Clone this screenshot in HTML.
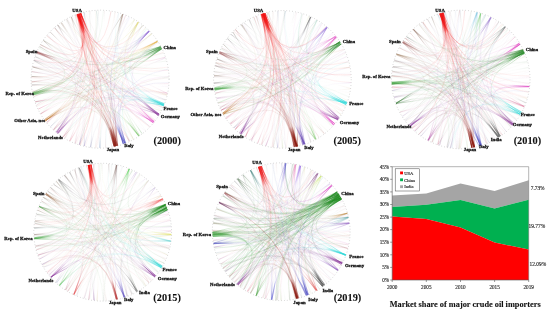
<!DOCTYPE html>
<html><head><meta charset="utf-8"><style>
html,body{margin:0;padding:0;background:#fff;width:550px;height:316px;overflow:hidden}
svg{position:absolute;left:0;top:0;display:block;filter:blur(0.3px)}
text{font-family:"Liberation Serif","Times New Roman",serif;font-weight:bold;fill:#111;stroke:#111;stroke-width:0.26px}
text.t{stroke-width:0.1px}
text.r{font-weight:normal;fill:#1a1a1a;stroke:#1a1a1a;stroke-width:0.12px}
</style></head><body>
<svg width="550" height="316" viewBox="0 0 550 316">
<defs><radialGradient id="g1" gradientUnits="userSpaceOnUse" cx="98.8" cy="10.5" r="40"><stop offset="0" stop-color="#c0c0c0" stop-opacity="0.1270974634461544"/><stop offset="0.3" stop-color="#c0c0c0" stop-opacity="0.0021292390338463227"/><stop offset="1" stop-color="#c0c0c0" stop-opacity="0.0"/></radialGradient><radialGradient id="g2" gradientUnits="userSpaceOnUse" cx="104.2" cy="10.6" r="40"><stop offset="0" stop-color="#c0a0a0" stop-opacity="0.15047606752760004"/><stop offset="0.3" stop-color="#c0a0a0" stop-opacity="0.009142820258280017"/><stop offset="1" stop-color="#c0a0a0" stop-opacity="0.0"/></radialGradient><radialGradient id="g3" gradientUnits="userSpaceOnUse" cx="111" cy="11.4" r="40"><stop offset="0" stop-color="#c0a0a0" stop-opacity="0.14919854929660104"/><stop offset="0.3" stop-color="#c0a0a0" stop-opacity="0.00875956478898031"/><stop offset="1" stop-color="#c0a0a0" stop-opacity="0.0"/></radialGradient><radialGradient id="g4" gradientUnits="userSpaceOnUse" cx="115.6" cy="12.3" r="40"><stop offset="0" stop-color="#d0a0a0" stop-opacity="0.1220734139324464"/><stop offset="0.3" stop-color="#d0a0a0" stop-opacity="0.0006220241797339234"/><stop offset="1" stop-color="#d0a0a0" stop-opacity="0.0"/></radialGradient><radialGradient id="g5" gradientUnits="userSpaceOnUse" cx="118.5" cy="13" r="40"><stop offset="0" stop-color="#c0c0c0" stop-opacity="0.17323942720152014"/><stop offset="0.3" stop-color="#c0c0c0" stop-opacity="0.01597182816045604"/><stop offset="1" stop-color="#c0c0c0" stop-opacity="0.0"/></radialGradient><radialGradient id="g6" gradientUnits="userSpaceOnUse" cx="126" cy="15.6" r="40"><stop offset="0" stop-color="#e0a0c0" stop-opacity="0.6132870867795437"/><stop offset="0.3" stop-color="#e0a0c0" stop-opacity="0.14798612603386313"/><stop offset="1" stop-color="#e0a0c0" stop-opacity="0.0"/></radialGradient><radialGradient id="g7" gradientUnits="userSpaceOnUse" cx="129" cy="16.9" r="40"><stop offset="0" stop-color="#c0b0e0" stop-opacity="0.27743101060829345"/><stop offset="0.3" stop-color="#c0b0e0" stop-opacity="0.047229303182488046"/><stop offset="1" stop-color="#c0b0e0" stop-opacity="0.0"/></radialGradient><radialGradient id="g8" gradientUnits="userSpaceOnUse" cx="134.6" cy="19.8" r="40"><stop offset="0" stop-color="#d0d080" stop-opacity="0.4226893719708796"/><stop offset="0.3" stop-color="#d0d080" stop-opacity="0.09080681159126387"/><stop offset="1" stop-color="#d0d080" stop-opacity="0.0"/></radialGradient><radialGradient id="g9" gradientUnits="userSpaceOnUse" cx="142.7" cy="25.3" r="40"><stop offset="0" stop-color="#90c090" stop-opacity="0.37482067828005944"/><stop offset="0.3" stop-color="#90c090" stop-opacity="0.07644620348401783"/><stop offset="1" stop-color="#90c090" stop-opacity="0.0"/></radialGradient><radialGradient id="g10" gradientUnits="userSpaceOnUse" cx="146.2" cy="28.3" r="40"><stop offset="0" stop-color="#c0c060" stop-opacity="0.21899151503486666"/><stop offset="0.3" stop-color="#c0c060" stop-opacity="0.02969745451046"/><stop offset="1" stop-color="#c0c060" stop-opacity="0.0"/></radialGradient><radialGradient id="g11" gradientUnits="userSpaceOnUse" cx="151.8" cy="34" r="40"><stop offset="0" stop-color="#c0c060" stop-opacity="0.32993688342507055"/><stop offset="0.3" stop-color="#c0c060" stop-opacity="0.06298106502752115"/><stop offset="1" stop-color="#c0c060" stop-opacity="0.0"/></radialGradient><radialGradient id="g12" gradientUnits="userSpaceOnUse" cx="163.6" cy="52.9" r="40"><stop offset="0" stop-color="#c0d0c0" stop-opacity="0.2135413185425326"/><stop offset="0.3" stop-color="#c0d0c0" stop-opacity="0.028062395562759777"/><stop offset="1" stop-color="#c0d0c0" stop-opacity="0.0"/></radialGradient><radialGradient id="g13" gradientUnits="userSpaceOnUse" cx="165.4" cy="57.8" r="40"><stop offset="0" stop-color="#d0b0e0" stop-opacity="0.5115969310930123"/><stop offset="0.3" stop-color="#d0b0e0" stop-opacity="0.11747907932790369"/><stop offset="1" stop-color="#d0b0e0" stop-opacity="0.0"/></radialGradient><radialGradient id="g14" gradientUnits="userSpaceOnUse" cx="166.3" cy="60.9" r="40"><stop offset="0" stop-color="#c0d0c0" stop-opacity="0.41371249708191143"/><stop offset="0.3" stop-color="#c0d0c0" stop-opacity="0.08811374912457343"/><stop offset="1" stop-color="#c0d0c0" stop-opacity="0.0"/></radialGradient><radialGradient id="g15" gradientUnits="userSpaceOnUse" cx="167.9" cy="68.3" r="40"><stop offset="0" stop-color="#d0b0e0" stop-opacity="0.15241628445706745"/><stop offset="0.3" stop-color="#d0b0e0" stop-opacity="0.009724885337120237"/><stop offset="1" stop-color="#d0b0e0" stop-opacity="0.0"/></radialGradient><radialGradient id="g16" gradientUnits="userSpaceOnUse" cx="168.3" cy="70.7" r="40"><stop offset="0" stop-color="#f0b0d0" stop-opacity="0.1354901505525055"/><stop offset="0.3" stop-color="#f0b0d0" stop-opacity="0.004647045165751646"/><stop offset="1" stop-color="#f0b0d0" stop-opacity="0.0"/></radialGradient><radialGradient id="g17" gradientUnits="userSpaceOnUse" cx="168.8" cy="77.3" r="40"><stop offset="0" stop-color="#c0d0c0" stop-opacity="0.46031210473397205"/><stop offset="0.3" stop-color="#c0d0c0" stop-opacity="0.10209363142019162"/><stop offset="1" stop-color="#c0d0c0" stop-opacity="0.0"/></radialGradient><radialGradient id="g18" gradientUnits="userSpaceOnUse" cx="168.7" cy="83.3" r="40"><stop offset="0" stop-color="#e0a0c0" stop-opacity="0.4582833642544837"/><stop offset="0.3" stop-color="#e0a0c0" stop-opacity="0.10148500927634511"/><stop offset="1" stop-color="#e0a0c0" stop-opacity="0.0"/></radialGradient><radialGradient id="g19" gradientUnits="userSpaceOnUse" cx="168.4" cy="86.4" r="40"><stop offset="0" stop-color="#d0b0e0" stop-opacity="0.12255185389402373"/><stop offset="0.3" stop-color="#d0b0e0" stop-opacity="0.0007655561682071201"/><stop offset="1" stop-color="#d0b0e0" stop-opacity="0.0"/></radialGradient><radialGradient id="g20" gradientUnits="userSpaceOnUse" cx="167.4" cy="93.2" r="40"><stop offset="0" stop-color="#e0a0c0" stop-opacity="0.6680510992788457"/><stop offset="0.3" stop-color="#e0a0c0" stop-opacity="0.1644153297836537"/><stop offset="1" stop-color="#e0a0c0" stop-opacity="0.0"/></radialGradient><radialGradient id="g21" gradientUnits="userSpaceOnUse" cx="166.8" cy="95.5" r="40"><stop offset="0" stop-color="#e0c0a0" stop-opacity="0.41230993484009587"/><stop offset="0.3" stop-color="#e0c0a0" stop-opacity="0.08769298045202877"/><stop offset="1" stop-color="#e0c0a0" stop-opacity="0.0"/></radialGradient><radialGradient id="g22" gradientUnits="userSpaceOnUse" cx="165.5" cy="100.1" r="40"><stop offset="0" stop-color="#a0a0a0" stop-opacity="0.316058328829122"/><stop offset="0.3" stop-color="#a0a0a0" stop-opacity="0.05881749864873659"/><stop offset="1" stop-color="#a0a0a0" stop-opacity="0.0"/></radialGradient><radialGradient id="g23" gradientUnits="userSpaceOnUse" cx="162.8" cy="107.4" r="40"><stop offset="0" stop-color="#d0a0a0" stop-opacity="0.3619913445828219"/><stop offset="0.3" stop-color="#d0a0a0" stop-opacity="0.07259740337484656"/><stop offset="1" stop-color="#d0a0a0" stop-opacity="0.0"/></radialGradient><radialGradient id="g24" gradientUnits="userSpaceOnUse" cx="161.2" cy="110.6" r="40"><stop offset="0" stop-color="#c0d090" stop-opacity="0.44170950394639424"/><stop offset="0.3" stop-color="#c0d090" stop-opacity="0.09651285118391828"/><stop offset="1" stop-color="#c0d090" stop-opacity="0.0"/></radialGradient><radialGradient id="g25" gradientUnits="userSpaceOnUse" cx="155.1" cy="120.4" r="40"><stop offset="0" stop-color="#e090a0" stop-opacity="0.19579927529860225"/><stop offset="0.3" stop-color="#e090a0" stop-opacity="0.02273978258958068"/><stop offset="1" stop-color="#e090a0" stop-opacity="0.0"/></radialGradient><radialGradient id="g26" gradientUnits="userSpaceOnUse" cx="149.3" cy="127.1" r="40"><stop offset="0" stop-color="#c0d090" stop-opacity="0.12386511713196457"/><stop offset="0.3" stop-color="#c0d090" stop-opacity="0.0011595351395893726"/><stop offset="1" stop-color="#c0d090" stop-opacity="0.0"/></radialGradient><radialGradient id="g27" gradientUnits="userSpaceOnUse" cx="145" cy="131.2" r="40"><stop offset="0" stop-color="#b0a0c0" stop-opacity="0.12185617661343702"/><stop offset="0.3" stop-color="#b0a0c0" stop-opacity="0.0005568529840311063"/><stop offset="1" stop-color="#b0a0c0" stop-opacity="0.0"/></radialGradient><radialGradient id="g28" gradientUnits="userSpaceOnUse" cx="142.4" cy="133.3" r="40"><stop offset="0" stop-color="#90c090" stop-opacity="0.4393110463181974"/><stop offset="0.3" stop-color="#90c090" stop-opacity="0.09579331389545923"/><stop offset="1" stop-color="#90c090" stop-opacity="0.0"/></radialGradient><radialGradient id="g29" gradientUnits="userSpaceOnUse" cx="133" cy="139.5" r="40"><stop offset="0" stop-color="#c0d090" stop-opacity="0.6550155292043547"/><stop offset="0.3" stop-color="#c0d090" stop-opacity="0.1605046587613064"/><stop offset="1" stop-color="#c0d090" stop-opacity="0.0"/></radialGradient><radialGradient id="g30" gradientUnits="userSpaceOnUse" cx="129.5" cy="141.3" r="40"><stop offset="0" stop-color="#e090a0" stop-opacity="0.55670604103735"/><stop offset="0.3" stop-color="#e090a0" stop-opacity="0.131011812311205"/><stop offset="1" stop-color="#e090a0" stop-opacity="0.0"/></radialGradient><radialGradient id="g31" gradientUnits="userSpaceOnUse" cx="118.6" cy="145.4" r="40"><stop offset="0" stop-color="#d0a0a0" stop-opacity="0.6081439490132843"/><stop offset="0.3" stop-color="#d0a0a0" stop-opacity="0.1464431847039853"/><stop offset="1" stop-color="#d0a0a0" stop-opacity="0.0"/></radialGradient><radialGradient id="g32" gradientUnits="userSpaceOnUse" cx="111.6" cy="146.9" r="40"><stop offset="0" stop-color="#d0a0a0" stop-opacity="0.3704064936808937"/><stop offset="0.3" stop-color="#d0a0a0" stop-opacity="0.0751219481042681"/><stop offset="1" stop-color="#d0a0a0" stop-opacity="0.0"/></radialGradient><radialGradient id="g33" gradientUnits="userSpaceOnUse" cx="105.1" cy="147.7" r="40"><stop offset="0" stop-color="#e090a0" stop-opacity="0.40667507205570075"/><stop offset="0.3" stop-color="#e090a0" stop-opacity="0.08600252161671022"/><stop offset="1" stop-color="#e090a0" stop-opacity="0.0"/></radialGradient><radialGradient id="g34" gradientUnits="userSpaceOnUse" cx="100" cy="147.9" r="40"><stop offset="0" stop-color="#7890c8" stop-opacity="0.5119633867625324"/><stop offset="0.3" stop-color="#7890c8" stop-opacity="0.11758901602875972"/><stop offset="1" stop-color="#7890c8" stop-opacity="0.0"/></radialGradient><radialGradient id="g35" gradientUnits="userSpaceOnUse" cx="95.5" cy="147.7" r="40"><stop offset="0" stop-color="#8a6a5a" stop-opacity="0.12035746500609787"/><stop offset="0.3" stop-color="#8a6a5a" stop-opacity="0.0001072395018293616"/><stop offset="1" stop-color="#8a6a5a" stop-opacity="0.0"/></radialGradient><radialGradient id="g36" gradientUnits="userSpaceOnUse" cx="90.2" cy="147.2" r="40"><stop offset="0" stop-color="#a0a0c0" stop-opacity="0.72"/><stop offset="0.3" stop-color="#a0a0c0" stop-opacity="0.18"/><stop offset="1" stop-color="#a0a0c0" stop-opacity="0.0"/></radialGradient><radialGradient id="g37" gradientUnits="userSpaceOnUse" cx="84.4" cy="146.1" r="40"><stop offset="0" stop-color="#8070b0" stop-opacity="0.5279303896587313"/><stop offset="0.3" stop-color="#8070b0" stop-opacity="0.12237911689761938"/><stop offset="1" stop-color="#8070b0" stop-opacity="0.0"/></radialGradient><radialGradient id="g38" gradientUnits="userSpaceOnUse" cx="79.8" cy="144.8" r="40"><stop offset="0" stop-color="#9060a0" stop-opacity="0.673547082420276"/><stop offset="0.3" stop-color="#9060a0" stop-opacity="0.1660641247260828"/><stop offset="1" stop-color="#9060a0" stop-opacity="0.0"/></radialGradient><radialGradient id="g39" gradientUnits="userSpaceOnUse" cx="75.6" cy="143.4" r="40"><stop offset="0" stop-color="#c06080" stop-opacity="0.3149491514027922"/><stop offset="0.3" stop-color="#c06080" stop-opacity="0.05848474542083768"/><stop offset="1" stop-color="#c06080" stop-opacity="0.0"/></radialGradient><radialGradient id="g40" gradientUnits="userSpaceOnUse" cx="70.1" cy="141" r="40"><stop offset="0" stop-color="#d05070" stop-opacity="0.4500654397996812"/><stop offset="0.3" stop-color="#d05070" stop-opacity="0.09901963193990437"/><stop offset="1" stop-color="#d05070" stop-opacity="0.0"/></radialGradient><radialGradient id="g41" gradientUnits="userSpaceOnUse" cx="65.2" cy="138.4" r="40"><stop offset="0" stop-color="#d05070" stop-opacity="0.3864397703711093"/><stop offset="0.3" stop-color="#d05070" stop-opacity="0.0799319311113328"/><stop offset="1" stop-color="#d05070" stop-opacity="0.0"/></radialGradient><radialGradient id="g42" gradientUnits="userSpaceOnUse" cx="63" cy="137" r="40"><stop offset="0" stop-color="#d05070" stop-opacity="0.5241972388381674"/><stop offset="0.3" stop-color="#d05070" stop-opacity="0.12125917165145021"/><stop offset="1" stop-color="#d05070" stop-opacity="0.0"/></radialGradient><radialGradient id="g43" gradientUnits="userSpaceOnUse" cx="53.3" cy="129.5" r="40"><stop offset="0" stop-color="#c08090" stop-opacity="0.72"/><stop offset="0.3" stop-color="#c08090" stop-opacity="0.18"/><stop offset="1" stop-color="#c08090" stop-opacity="0.0"/></radialGradient><radialGradient id="g44" gradientUnits="userSpaceOnUse" cx="50.7" cy="127" r="40"><stop offset="0" stop-color="#a0a0c0" stop-opacity="0.72"/><stop offset="0.3" stop-color="#a0a0c0" stop-opacity="0.18"/><stop offset="1" stop-color="#a0a0c0" stop-opacity="0.0"/></radialGradient><radialGradient id="g45" gradientUnits="userSpaceOnUse" cx="46.9" cy="122.7" r="40"><stop offset="0" stop-color="#c06080" stop-opacity="0.4561715967662934"/><stop offset="0.3" stop-color="#c06080" stop-opacity="0.10085147902988802"/><stop offset="1" stop-color="#c06080" stop-opacity="0.0"/></radialGradient><radialGradient id="g46" gradientUnits="userSpaceOnUse" cx="40.8" cy="113.9" r="40"><stop offset="0" stop-color="#d05070" stop-opacity="0.4848361042856882"/><stop offset="0.3" stop-color="#d05070" stop-opacity="0.10945083128570644"/><stop offset="1" stop-color="#d05070" stop-opacity="0.0"/></radialGradient><radialGradient id="g47" gradientUnits="userSpaceOnUse" cx="38.5" cy="109.6" r="40"><stop offset="0" stop-color="#d05070" stop-opacity="0.545616074999643"/><stop offset="0.3" stop-color="#d05070" stop-opacity="0.1276848224998929"/><stop offset="1" stop-color="#d05070" stop-opacity="0.0"/></radialGradient><radialGradient id="g48" gradientUnits="userSpaceOnUse" cx="36.5" cy="105.1" r="40"><stop offset="0" stop-color="#d07090" stop-opacity="0.3912097197759656"/><stop offset="0.3" stop-color="#d07090" stop-opacity="0.08136291593278967"/><stop offset="1" stop-color="#d07090" stop-opacity="0.0"/></radialGradient><radialGradient id="g49" gradientUnits="userSpaceOnUse" cx="35.2" cy="101.6" r="40"><stop offset="0" stop-color="#c06080" stop-opacity="0.5837501481351788"/><stop offset="0.3" stop-color="#c06080" stop-opacity="0.13912504444055362"/><stop offset="1" stop-color="#c06080" stop-opacity="0.0"/></radialGradient><radialGradient id="g50" gradientUnits="userSpaceOnUse" cx="33.7" cy="96.6" r="40"><stop offset="0" stop-color="#c08090" stop-opacity="0.47809503693439065"/><stop offset="0.3" stop-color="#c08090" stop-opacity="0.10742851108031719"/><stop offset="1" stop-color="#c08090" stop-opacity="0.0"/></radialGradient><radialGradient id="g51" gradientUnits="userSpaceOnUse" cx="32.5" cy="91.4" r="40"><stop offset="0" stop-color="#d07090" stop-opacity="0.4030145320303566"/><stop offset="0.3" stop-color="#d07090" stop-opacity="0.08490435960910697"/><stop offset="1" stop-color="#d07090" stop-opacity="0.0"/></radialGradient><radialGradient id="g52" gradientUnits="userSpaceOnUse" cx="31.7" cy="85.1" r="40"><stop offset="0" stop-color="#7a7a7a" stop-opacity="0.4209115929277392"/><stop offset="0.3" stop-color="#7a7a7a" stop-opacity="0.09027347787832177"/><stop offset="1" stop-color="#7a7a7a" stop-opacity="0.0"/></radialGradient><radialGradient id="g53" gradientUnits="userSpaceOnUse" cx="31.4" cy="81.8" r="40"><stop offset="0" stop-color="#c08080" stop-opacity="0.524188153369832"/><stop offset="0.3" stop-color="#c08080" stop-opacity="0.12125644601094962"/><stop offset="1" stop-color="#c08080" stop-opacity="0.0"/></radialGradient><radialGradient id="g54" gradientUnits="userSpaceOnUse" cx="31.4" cy="77" r="40"><stop offset="0" stop-color="#807060" stop-opacity="0.5386184116482"/><stop offset="0.3" stop-color="#807060" stop-opacity="0.12558552349445998"/><stop offset="1" stop-color="#807060" stop-opacity="0.0"/></radialGradient><radialGradient id="g55" gradientUnits="userSpaceOnUse" cx="31.8" cy="71.5" r="40"><stop offset="0" stop-color="#c08080" stop-opacity="0.72"/><stop offset="0.3" stop-color="#c08080" stop-opacity="0.18"/><stop offset="1" stop-color="#c08080" stop-opacity="0.0"/></radialGradient><radialGradient id="g56" gradientUnits="userSpaceOnUse" cx="32.5" cy="66.9" r="40"><stop offset="0" stop-color="#807060" stop-opacity="0.576920978220883"/><stop offset="0.3" stop-color="#807060" stop-opacity="0.1370762934662649"/><stop offset="1" stop-color="#807060" stop-opacity="0.0"/></radialGradient><radialGradient id="g57" gradientUnits="userSpaceOnUse" cx="33.9" cy="60.8" r="40"><stop offset="0" stop-color="#888888" stop-opacity="0.6845809017284161"/><stop offset="0.3" stop-color="#888888" stop-opacity="0.16937427051852483"/><stop offset="1" stop-color="#888888" stop-opacity="0.0"/></radialGradient><radialGradient id="g58" gradientUnits="userSpaceOnUse" cx="35.1" cy="56.8" r="40"><stop offset="0" stop-color="#888888" stop-opacity="0.72"/><stop offset="0.3" stop-color="#888888" stop-opacity="0.18"/><stop offset="1" stop-color="#888888" stop-opacity="0.0"/></radialGradient><radialGradient id="g59" gradientUnits="userSpaceOnUse" cx="39.5" cy="46.8" r="40"><stop offset="0" stop-color="#a08878" stop-opacity="0.5757905905533456"/><stop offset="0.3" stop-color="#a08878" stop-opacity="0.13673717716600367"/><stop offset="1" stop-color="#a08878" stop-opacity="0.0"/></radialGradient><radialGradient id="g60" gradientUnits="userSpaceOnUse" cx="40.6" cy="44.9" r="40"><stop offset="0" stop-color="#8a7a70" stop-opacity="0.72"/><stop offset="0.3" stop-color="#8a7a70" stop-opacity="0.18"/><stop offset="1" stop-color="#8a7a70" stop-opacity="0.0"/></radialGradient><radialGradient id="g61" gradientUnits="userSpaceOnUse" cx="43.4" cy="40.5" r="40"><stop offset="0" stop-color="#807060" stop-opacity="0.5016572577298517"/><stop offset="0.3" stop-color="#807060" stop-opacity="0.11449717731895549"/><stop offset="1" stop-color="#807060" stop-opacity="0.0"/></radialGradient><radialGradient id="g62" gradientUnits="userSpaceOnUse" cx="47.2" cy="35.4" r="40"><stop offset="0" stop-color="#a08878" stop-opacity="0.42580181235614156"/><stop offset="0.3" stop-color="#a08878" stop-opacity="0.09174054370684247"/><stop offset="1" stop-color="#a08878" stop-opacity="0.0"/></radialGradient><radialGradient id="g63" gradientUnits="userSpaceOnUse" cx="50" cy="32.2" r="40"><stop offset="0" stop-color="#8a7a70" stop-opacity="0.72"/><stop offset="0.3" stop-color="#8a7a70" stop-opacity="0.18"/><stop offset="1" stop-color="#8a7a70" stop-opacity="0.0"/></radialGradient><radialGradient id="g64" gradientUnits="userSpaceOnUse" cx="55.1" cy="27.3" r="40"><stop offset="0" stop-color="#888888" stop-opacity="0.4370313825863941"/><stop offset="0.3" stop-color="#888888" stop-opacity="0.09510941477591825"/><stop offset="1" stop-color="#888888" stop-opacity="0.0"/></radialGradient><radialGradient id="g65" gradientUnits="userSpaceOnUse" cx="57.7" cy="25.2" r="40"><stop offset="0" stop-color="#8a7a70" stop-opacity="0.72"/><stop offset="0.3" stop-color="#8a7a70" stop-opacity="0.18"/><stop offset="1" stop-color="#8a7a70" stop-opacity="0.0"/></radialGradient><radialGradient id="g66" gradientUnits="userSpaceOnUse" cx="61.2" cy="22.6" r="40"><stop offset="0" stop-color="#a08878" stop-opacity="0.668912804743429"/><stop offset="0.3" stop-color="#a08878" stop-opacity="0.16467384142302868"/><stop offset="1" stop-color="#a08878" stop-opacity="0.0"/></radialGradient><radialGradient id="g67" gradientUnits="userSpaceOnUse" cx="66.6" cy="19.2" r="40"><stop offset="0" stop-color="#888888" stop-opacity="0.5335581070662339"/><stop offset="0.3" stop-color="#888888" stop-opacity="0.12406743211987015"/><stop offset="1" stop-color="#888888" stop-opacity="0.0"/></radialGradient><radialGradient id="g68" gradientUnits="userSpaceOnUse" cx="71.5" cy="16.8" r="40"><stop offset="0" stop-color="#a08878" stop-opacity="0.72"/><stop offset="0.3" stop-color="#a08878" stop-opacity="0.18"/><stop offset="1" stop-color="#a08878" stop-opacity="0.0"/></radialGradient><radialGradient id="g69" gradientUnits="userSpaceOnUse" cx="75.4" cy="15.1" r="40"><stop offset="0" stop-color="#c08080" stop-opacity="0.4604443532336638"/><stop offset="0.3" stop-color="#c08080" stop-opacity="0.10213330597009915"/><stop offset="1" stop-color="#c08080" stop-opacity="0.0"/></radialGradient><radialGradient id="g70" gradientUnits="userSpaceOnUse" cx="83.8" cy="12.5" r="40"><stop offset="0" stop-color="#a0b0c0" stop-opacity="0.4836030077658813"/><stop offset="0.3" stop-color="#a0b0c0" stop-opacity="0.10908090232976438"/><stop offset="1" stop-color="#a0b0c0" stop-opacity="0.0"/></radialGradient><radialGradient id="g71" gradientUnits="userSpaceOnUse" cx="89.7" cy="11.3" r="40"><stop offset="0" stop-color="#c0a0a0" stop-opacity="0.12679071632505573"/><stop offset="0.3" stop-color="#c0a0a0" stop-opacity="0.002037214897516719"/><stop offset="1" stop-color="#c0a0a0" stop-opacity="0.0"/></radialGradient><radialGradient id="g72" gradientUnits="userSpaceOnUse" cx="96.1" cy="10.6" r="40"><stop offset="0" stop-color="#a0b0c0" stop-opacity="0.45968718697643846"/><stop offset="0.3" stop-color="#a0b0c0" stop-opacity="0.10190615609293154"/><stop offset="1" stop-color="#a0b0c0" stop-opacity="0.0"/></radialGradient><radialGradient id="g73" gradientUnits="userSpaceOnUse" cx="78.9" cy="13.9" r="137.4"><stop offset="0" stop-color="#f01010" stop-opacity="0.765"/><stop offset="0.15" stop-color="#f01010" stop-opacity="0.186"/><stop offset="1" stop-color="#f01010" stop-opacity="0.06"/></radialGradient><radialGradient id="g74" gradientUnits="userSpaceOnUse" cx="161.3" cy="47.9" r="137.4"><stop offset="0" stop-color="#2a8a2a" stop-opacity="0.68"/><stop offset="0.15" stop-color="#2a8a2a" stop-opacity="0.1364"/><stop offset="1" stop-color="#2a8a2a" stop-opacity="0.05"/></radialGradient><radialGradient id="g75" gradientUnits="userSpaceOnUse" cx="157.5" cy="41.4" r="137.4"><stop offset="0" stop-color="#e0b040" stop-opacity="0.595"/><stop offset="0.15" stop-color="#e0b040" stop-opacity="0.124"/><stop offset="1" stop-color="#e0b040" stop-opacity="0.025"/></radialGradient><radialGradient id="g76" gradientUnits="userSpaceOnUse" cx="149.1" cy="31" r="137.4"><stop offset="0" stop-color="#8050d0" stop-opacity="0.68"/><stop offset="0.15" stop-color="#8050d0" stop-opacity="0.124"/><stop offset="1" stop-color="#8050d0" stop-opacity="0.025"/></radialGradient><radialGradient id="g77" gradientUnits="userSpaceOnUse" cx="138.4" cy="22.2" r="137.4"><stop offset="0" stop-color="#d8d050" stop-opacity="0.51"/><stop offset="0.15" stop-color="#d8d050" stop-opacity="0.124"/><stop offset="1" stop-color="#d8d050" stop-opacity="0.025"/></radialGradient><radialGradient id="g78" gradientUnits="userSpaceOnUse" cx="122.7" cy="14.3" r="137.4"><stop offset="0" stop-color="#907060" stop-opacity="0.595"/><stop offset="0.15" stop-color="#907060" stop-opacity="0.124"/><stop offset="1" stop-color="#907060" stop-opacity="0.025"/></radialGradient><radialGradient id="g79" gradientUnits="userSpaceOnUse" cx="36.9" cy="52.4" r="137.4"><stop offset="0" stop-color="#a05a5a" stop-opacity="0.68"/><stop offset="0.15" stop-color="#a05a5a" stop-opacity="0.124"/><stop offset="1" stop-color="#a05a5a" stop-opacity="0.04"/></radialGradient><radialGradient id="g80" gradientUnits="userSpaceOnUse" cx="33" cy="93.7" r="137.4"><stop offset="0" stop-color="#4aa84a" stop-opacity="0.68"/><stop offset="0.15" stop-color="#4aa84a" stop-opacity="0.155"/><stop offset="1" stop-color="#4aa84a" stop-opacity="0.05"/></radialGradient><radialGradient id="g81" gradientUnits="userSpaceOnUse" cx="45.1" cy="120.4" r="137.4"><stop offset="0" stop-color="#c07830" stop-opacity="0.68"/><stop offset="0.15" stop-color="#c07830" stop-opacity="0.124"/><stop offset="1" stop-color="#c07830" stop-opacity="0.04"/></radialGradient><radialGradient id="g82" gradientUnits="userSpaceOnUse" cx="57.2" cy="132.9" r="137.4"><stop offset="0" stop-color="#9040a0" stop-opacity="0.68"/><stop offset="0.15" stop-color="#9040a0" stop-opacity="0.124"/><stop offset="1" stop-color="#9040a0" stop-opacity="0.04"/></radialGradient><radialGradient id="g83" gradientUnits="userSpaceOnUse" cx="164" cy="104.5" r="137.4"><stop offset="0" stop-color="#30d8d8" stop-opacity="0.765"/><stop offset="0.15" stop-color="#30d8d8" stop-opacity="0.155"/><stop offset="1" stop-color="#30d8d8" stop-opacity="0.04"/></radialGradient><radialGradient id="g84" gradientUnits="userSpaceOnUse" cx="158.7" cy="115.1" r="137.4"><stop offset="0" stop-color="#8a3a9a" stop-opacity="0.765"/><stop offset="0.15" stop-color="#8a3a9a" stop-opacity="0.1364"/><stop offset="1" stop-color="#8a3a9a" stop-opacity="0.04"/></radialGradient><radialGradient id="g85" gradientUnits="userSpaceOnUse" cx="153.7" cy="122.2" r="137.4"><stop offset="0" stop-color="#e040c0" stop-opacity="0.68"/><stop offset="0.15" stop-color="#e040c0" stop-opacity="0.124"/><stop offset="1" stop-color="#e040c0" stop-opacity="0.03"/></radialGradient><radialGradient id="g86" gradientUnits="userSpaceOnUse" cx="139.1" cy="135.7" r="137.4"><stop offset="0" stop-color="#70c060" stop-opacity="0.595"/><stop offset="0.15" stop-color="#70c060" stop-opacity="0.124"/><stop offset="1" stop-color="#70c060" stop-opacity="0.025"/></radialGradient><radialGradient id="g87" gradientUnits="userSpaceOnUse" cx="124.3" cy="143.5" r="137.4"><stop offset="0" stop-color="#4848c0" stop-opacity="0.765"/><stop offset="0.15" stop-color="#4848c0" stop-opacity="0.1364"/><stop offset="1" stop-color="#4848c0" stop-opacity="0.04"/></radialGradient><radialGradient id="g88" gradientUnits="userSpaceOnUse" cx="115.9" cy="146.1" r="137.4"><stop offset="0" stop-color="#8b1a10" stop-opacity="0.8075"/><stop offset="0.15" stop-color="#8b1a10" stop-opacity="0.1364"/><stop offset="1" stop-color="#8b1a10" stop-opacity="0.03"/></radialGradient><radialGradient id="g89" gradientUnits="userSpaceOnUse" cx="284" cy="10.9" r="40"><stop offset="0" stop-color="#c0c0c0" stop-opacity="0.12067561299737989"/><stop offset="0.3" stop-color="#c0c0c0" stop-opacity="0.00020268389921396983"/><stop offset="1" stop-color="#c0c0c0" stop-opacity="0.0"/></radialGradient><radialGradient id="g90" gradientUnits="userSpaceOnUse" cx="285.9" cy="11" r="40"><stop offset="0" stop-color="#a0b0c0" stop-opacity="0.6238711396066943"/><stop offset="0.3" stop-color="#a0b0c0" stop-opacity="0.15116134188200828"/><stop offset="1" stop-color="#a0b0c0" stop-opacity="0.0"/></radialGradient><radialGradient id="g91" gradientUnits="userSpaceOnUse" cx="293.6" cy="11.8" r="40"><stop offset="0" stop-color="#a0b0c0" stop-opacity="0.1577345943057787"/><stop offset="0.3" stop-color="#a0b0c0" stop-opacity="0.011320378291733614"/><stop offset="1" stop-color="#a0b0c0" stop-opacity="0.0"/></radialGradient><radialGradient id="g92" gradientUnits="userSpaceOnUse" cx="296.4" cy="12.4" r="40"><stop offset="0" stop-color="#d0a0a0" stop-opacity="0.15950899616300135"/><stop offset="0.3" stop-color="#d0a0a0" stop-opacity="0.011852698848900403"/><stop offset="1" stop-color="#d0a0a0" stop-opacity="0.0"/></radialGradient><radialGradient id="g93" gradientUnits="userSpaceOnUse" cx="302.5" cy="13.9" r="40"><stop offset="0" stop-color="#d0a0a0" stop-opacity="0.1246275538460941"/><stop offset="0.3" stop-color="#d0a0a0" stop-opacity="0.0013882661538282305"/><stop offset="1" stop-color="#d0a0a0" stop-opacity="0.0"/></radialGradient><radialGradient id="g94" gradientUnits="userSpaceOnUse" cx="308.5" cy="16.1" r="40"><stop offset="0" stop-color="#d0d080" stop-opacity="0.17834556151516917"/><stop offset="0.3" stop-color="#d0d080" stop-opacity="0.017503668454550748"/><stop offset="1" stop-color="#d0d080" stop-opacity="0.0"/></radialGradient><radialGradient id="g95" gradientUnits="userSpaceOnUse" cx="316.6" cy="20.1" r="40"><stop offset="0" stop-color="#a0d0d0" stop-opacity="0.5398587582092782"/><stop offset="0.3" stop-color="#a0d0d0" stop-opacity="0.12595762746278344"/><stop offset="1" stop-color="#a0d0d0" stop-opacity="0.0"/></radialGradient><radialGradient id="g96" gradientUnits="userSpaceOnUse" cx="321.5" cy="23.2" r="40"><stop offset="0" stop-color="#a0d0d0" stop-opacity="0.1552775770135952"/><stop offset="0.3" stop-color="#a0d0d0" stop-opacity="0.010583273104078564"/><stop offset="1" stop-color="#a0d0d0" stop-opacity="0.0"/></radialGradient><radialGradient id="g97" gradientUnits="userSpaceOnUse" cx="332.7" cy="32.9" r="40"><stop offset="0" stop-color="#c0b0e0" stop-opacity="0.23313163415303398"/><stop offset="0.3" stop-color="#c0b0e0" stop-opacity="0.0339394902459102"/><stop offset="1" stop-color="#c0b0e0" stop-opacity="0.0"/></radialGradient><radialGradient id="g98" gradientUnits="userSpaceOnUse" cx="334" cy="34.3" r="40"><stop offset="0" stop-color="#e0a0c0" stop-opacity="0.17361547769720864"/><stop offset="0.3" stop-color="#e0a0c0" stop-opacity="0.01608464330916259"/><stop offset="1" stop-color="#e0a0c0" stop-opacity="0.0"/></radialGradient><radialGradient id="g99" gradientUnits="userSpaceOnUse" cx="339" cy="40.8" r="40"><stop offset="0" stop-color="#c0d0c0" stop-opacity="0.17968293250858652"/><stop offset="0.3" stop-color="#c0d0c0" stop-opacity="0.01790487975257596"/><stop offset="1" stop-color="#c0d0c0" stop-opacity="0.0"/></radialGradient><radialGradient id="g100" gradientUnits="userSpaceOnUse" cx="343.9" cy="49.3" r="40"><stop offset="0" stop-color="#f0b0d0" stop-opacity="0.34729186914818455"/><stop offset="0.3" stop-color="#f0b0d0" stop-opacity="0.06818756074445537"/><stop offset="1" stop-color="#f0b0d0" stop-opacity="0.0"/></radialGradient><radialGradient id="g101" gradientUnits="userSpaceOnUse" cx="345.5" cy="52.8" r="40"><stop offset="0" stop-color="#f0b0d0" stop-opacity="0.15608122409822978"/><stop offset="0.3" stop-color="#f0b0d0" stop-opacity="0.010824367229468933"/><stop offset="1" stop-color="#f0b0d0" stop-opacity="0.0"/></radialGradient><radialGradient id="g102" gradientUnits="userSpaceOnUse" cx="346.9" cy="56.4" r="40"><stop offset="0" stop-color="#f0b0d0" stop-opacity="0.1424529875073781"/><stop offset="0.3" stop-color="#f0b0d0" stop-opacity="0.00673589625221343"/><stop offset="1" stop-color="#f0b0d0" stop-opacity="0.0"/></radialGradient><radialGradient id="g103" gradientUnits="userSpaceOnUse" cx="348.5" cy="61.5" r="40"><stop offset="0" stop-color="#f0b0d0" stop-opacity="0.194081063040446"/><stop offset="0.3" stop-color="#f0b0d0" stop-opacity="0.022224318912133802"/><stop offset="1" stop-color="#f0b0d0" stop-opacity="0.0"/></radialGradient><radialGradient id="g104" gradientUnits="userSpaceOnUse" cx="349.8" cy="67" r="40"><stop offset="0" stop-color="#e0c0a0" stop-opacity="0.3514145355653816"/><stop offset="0.3" stop-color="#e0c0a0" stop-opacity="0.06942436066961448"/><stop offset="1" stop-color="#e0c0a0" stop-opacity="0.0"/></radialGradient><radialGradient id="g105" gradientUnits="userSpaceOnUse" cx="350.7" cy="73.7" r="40"><stop offset="0" stop-color="#d0b0e0" stop-opacity="0.16692760108935267"/><stop offset="0.3" stop-color="#d0b0e0" stop-opacity="0.0140782803268058"/><stop offset="1" stop-color="#d0b0e0" stop-opacity="0.0"/></radialGradient><radialGradient id="g106" gradientUnits="userSpaceOnUse" cx="350.8" cy="75.8" r="40"><stop offset="0" stop-color="#c0d0c0" stop-opacity="0.14708386681800806"/><stop offset="0.3" stop-color="#c0d0c0" stop-opacity="0.008125160045402422"/><stop offset="1" stop-color="#c0d0c0" stop-opacity="0.0"/></radialGradient><radialGradient id="g107" gradientUnits="userSpaceOnUse" cx="350.8" cy="83" r="40"><stop offset="0" stop-color="#d0b0e0" stop-opacity="0.5741819127643026"/><stop offset="0.3" stop-color="#d0b0e0" stop-opacity="0.1362545738292908"/><stop offset="1" stop-color="#d0b0e0" stop-opacity="0.0"/></radialGradient><radialGradient id="g108" gradientUnits="userSpaceOnUse" cx="350.3" cy="88.3" r="40"><stop offset="0" stop-color="#e0c0a0" stop-opacity="0.30105018102908443"/><stop offset="0.3" stop-color="#e0c0a0" stop-opacity="0.05431505430872533"/><stop offset="1" stop-color="#e0c0a0" stop-opacity="0.0"/></radialGradient><radialGradient id="g109" gradientUnits="userSpaceOnUse" cx="349.6" cy="92.9" r="40"><stop offset="0" stop-color="#e0c0a0" stop-opacity="0.12053340805205325"/><stop offset="0.3" stop-color="#e0c0a0" stop-opacity="0.0001600224156159766"/><stop offset="1" stop-color="#e0c0a0" stop-opacity="0.0"/></radialGradient><radialGradient id="g110" gradientUnits="userSpaceOnUse" cx="348.8" cy="96.2" r="40"><stop offset="0" stop-color="#c0d0c0" stop-opacity="0.17876072803931717"/><stop offset="0.3" stop-color="#c0d0c0" stop-opacity="0.01762821841179515"/><stop offset="1" stop-color="#c0d0c0" stop-opacity="0.0"/></radialGradient><radialGradient id="g111" gradientUnits="userSpaceOnUse" cx="347.6" cy="100.4" r="40"><stop offset="0" stop-color="#c0d090" stop-opacity="0.29653282944579495"/><stop offset="0.3" stop-color="#c0d090" stop-opacity="0.05295984883373849"/><stop offset="1" stop-color="#c0d090" stop-opacity="0.0"/></radialGradient><radialGradient id="g112" gradientUnits="userSpaceOnUse" cx="345.1" cy="106.9" r="40"><stop offset="0" stop-color="#c0d090" stop-opacity="0.19274704949635846"/><stop offset="0.3" stop-color="#c0d090" stop-opacity="0.021824114848907533"/><stop offset="1" stop-color="#c0d090" stop-opacity="0.0"/></radialGradient><radialGradient id="g113" gradientUnits="userSpaceOnUse" cx="343.1" cy="111.2" r="40"><stop offset="0" stop-color="#e090a0" stop-opacity="0.14935873137507633"/><stop offset="0.3" stop-color="#e090a0" stop-opacity="0.008807619412522899"/><stop offset="1" stop-color="#e090a0" stop-opacity="0.0"/></radialGradient><radialGradient id="g114" gradientUnits="userSpaceOnUse" cx="340.9" cy="115.1" r="40"><stop offset="0" stop-color="#c0d090" stop-opacity="0.4495806014939329"/><stop offset="0.3" stop-color="#c0d090" stop-opacity="0.09887418044817987"/><stop offset="1" stop-color="#c0d090" stop-opacity="0.0"/></radialGradient><radialGradient id="g115" gradientUnits="userSpaceOnUse" cx="332.1" cy="126.6" r="40"><stop offset="0" stop-color="#c0d090" stop-opacity="0.19245683748640158"/><stop offset="0.3" stop-color="#c0d090" stop-opacity="0.02173705124592047"/><stop offset="1" stop-color="#c0d090" stop-opacity="0.0"/></radialGradient><radialGradient id="g116" gradientUnits="userSpaceOnUse" cx="327" cy="131.4" r="40"><stop offset="0" stop-color="#c0d090" stop-opacity="0.2320032828994948"/><stop offset="0.3" stop-color="#c0d090" stop-opacity="0.033600984869848444"/><stop offset="1" stop-color="#c0d090" stop-opacity="0.0"/></radialGradient><radialGradient id="g117" gradientUnits="userSpaceOnUse" cx="324.7" cy="133.3" r="40"><stop offset="0" stop-color="#d0a0a0" stop-opacity="0.41975005456745734"/><stop offset="0.3" stop-color="#d0a0a0" stop-opacity="0.08992501637023721"/><stop offset="1" stop-color="#d0a0a0" stop-opacity="0.0"/></radialGradient><radialGradient id="g118" gradientUnits="userSpaceOnUse" cx="318.9" cy="137.3" r="40"><stop offset="0" stop-color="#d0a0a0" stop-opacity="0.43327603668855025"/><stop offset="0.3" stop-color="#d0a0a0" stop-opacity="0.09398281100656507"/><stop offset="1" stop-color="#d0a0a0" stop-opacity="0.0"/></radialGradient><radialGradient id="g119" gradientUnits="userSpaceOnUse" cx="311" cy="141.7" r="40"><stop offset="0" stop-color="#a0a0a0" stop-opacity="0.3757624390866176"/><stop offset="0.3" stop-color="#a0a0a0" stop-opacity="0.07672873172598528"/><stop offset="1" stop-color="#a0a0a0" stop-opacity="0.0"/></radialGradient><radialGradient id="g120" gradientUnits="userSpaceOnUse" cx="301" cy="145.3" r="40"><stop offset="0" stop-color="#b0a0c0" stop-opacity="0.12000173628262668"/><stop offset="0.3" stop-color="#b0a0c0" stop-opacity="5.208847880051204e-07"/><stop offset="1" stop-color="#b0a0c0" stop-opacity="0.0"/></radialGradient><radialGradient id="g121" gradientUnits="userSpaceOnUse" cx="298.1" cy="146.1" r="40"><stop offset="0" stop-color="#c0d090" stop-opacity="0.22833660886112814"/><stop offset="0.3" stop-color="#c0d090" stop-opacity="0.032500982658338444"/><stop offset="1" stop-color="#c0d090" stop-opacity="0.0"/></radialGradient><radialGradient id="g122" gradientUnits="userSpaceOnUse" cx="293" cy="147.1" r="40"><stop offset="0" stop-color="#d0a0a0" stop-opacity="0.20191258465973627"/><stop offset="0.3" stop-color="#d0a0a0" stop-opacity="0.024573775397920886"/><stop offset="1" stop-color="#d0a0a0" stop-opacity="0.0"/></radialGradient><radialGradient id="g123" gradientUnits="userSpaceOnUse" cx="286.2" cy="147.8" r="40"><stop offset="0" stop-color="#b0a0c0" stop-opacity="0.37326668783782296"/><stop offset="0.3" stop-color="#b0a0c0" stop-opacity="0.07598000635134688"/><stop offset="1" stop-color="#b0a0c0" stop-opacity="0.0"/></radialGradient><radialGradient id="g124" gradientUnits="userSpaceOnUse" cx="282.3" cy="147.9" r="40"><stop offset="0" stop-color="#90b060" stop-opacity="0.2005756194871098"/><stop offset="0.3" stop-color="#90b060" stop-opacity="0.024172685846132944"/><stop offset="1" stop-color="#90b060" stop-opacity="0.0"/></radialGradient><radialGradient id="g125" gradientUnits="userSpaceOnUse" cx="278.1" cy="147.8" r="40"><stop offset="0" stop-color="#7878b8" stop-opacity="0.423404261726005"/><stop offset="0.3" stop-color="#7878b8" stop-opacity="0.0910212785178015"/><stop offset="1" stop-color="#7878b8" stop-opacity="0.0"/></radialGradient><radialGradient id="g126" gradientUnits="userSpaceOnUse" cx="272.5" cy="147.2" r="40"><stop offset="0" stop-color="#c08090" stop-opacity="0.4622740558822553"/><stop offset="0.3" stop-color="#c08090" stop-opacity="0.10268221676467659"/><stop offset="1" stop-color="#c08090" stop-opacity="0.0"/></radialGradient><radialGradient id="g127" gradientUnits="userSpaceOnUse" cx="266" cy="145.9" r="40"><stop offset="0" stop-color="#b070b0" stop-opacity="0.72"/><stop offset="0.3" stop-color="#b070b0" stop-opacity="0.18"/><stop offset="1" stop-color="#b070b0" stop-opacity="0.0"/></radialGradient><radialGradient id="g128" gradientUnits="userSpaceOnUse" cx="261.7" cy="144.7" r="40"><stop offset="0" stop-color="#c08090" stop-opacity="0.37802335410524635"/><stop offset="0.3" stop-color="#c08090" stop-opacity="0.0774070062315739"/><stop offset="1" stop-color="#c08090" stop-opacity="0.0"/></radialGradient><radialGradient id="g129" gradientUnits="userSpaceOnUse" cx="257.2" cy="143.1" r="40"><stop offset="0" stop-color="#d07090" stop-opacity="0.72"/><stop offset="0.3" stop-color="#d07090" stop-opacity="0.18"/><stop offset="1" stop-color="#d07090" stop-opacity="0.0"/></radialGradient><radialGradient id="g130" gradientUnits="userSpaceOnUse" cx="251.7" cy="140.6" r="40"><stop offset="0" stop-color="#b070b0" stop-opacity="0.3487664220573107"/><stop offset="0.3" stop-color="#b070b0" stop-opacity="0.06862992661719321"/><stop offset="1" stop-color="#b070b0" stop-opacity="0.0"/></radialGradient><radialGradient id="g131" gradientUnits="userSpaceOnUse" cx="250.3" cy="139.9" r="40"><stop offset="0" stop-color="#c06080" stop-opacity="0.39746646356325005"/><stop offset="0.3" stop-color="#c06080" stop-opacity="0.083239939068975"/><stop offset="1" stop-color="#c06080" stop-opacity="0.0"/></radialGradient><radialGradient id="g132" gradientUnits="userSpaceOnUse" cx="245.3" cy="137" r="40"><stop offset="0" stop-color="#d07090" stop-opacity="0.6485738043067271"/><stop offset="0.3" stop-color="#d07090" stop-opacity="0.1585721412920181"/><stop offset="1" stop-color="#d07090" stop-opacity="0.0"/></radialGradient><radialGradient id="g133" gradientUnits="userSpaceOnUse" cx="235.6" cy="129.4" r="40"><stop offset="0" stop-color="#d05070" stop-opacity="0.72"/><stop offset="0.3" stop-color="#d05070" stop-opacity="0.18"/><stop offset="1" stop-color="#d05070" stop-opacity="0.0"/></radialGradient><radialGradient id="g134" gradientUnits="userSpaceOnUse" cx="234" cy="127.9" r="40"><stop offset="0" stop-color="#a0a0c0" stop-opacity="0.4660199081551685"/><stop offset="0.3" stop-color="#a0a0c0" stop-opacity="0.10380597244655056"/><stop offset="1" stop-color="#a0a0c0" stop-opacity="0.0"/></radialGradient><radialGradient id="g135" gradientUnits="userSpaceOnUse" cx="230.3" cy="123.9" r="40"><stop offset="0" stop-color="#d07090" stop-opacity="0.72"/><stop offset="0.3" stop-color="#d07090" stop-opacity="0.18"/><stop offset="1" stop-color="#d07090" stop-opacity="0.0"/></radialGradient><radialGradient id="g136" gradientUnits="userSpaceOnUse" cx="225.8" cy="118" r="40"><stop offset="0" stop-color="#c06080" stop-opacity="0.4384203715370066"/><stop offset="0.3" stop-color="#c06080" stop-opacity="0.09552611146110197"/><stop offset="1" stop-color="#c06080" stop-opacity="0.0"/></radialGradient><radialGradient id="g137" gradientUnits="userSpaceOnUse" cx="221.1" cy="110" r="40"><stop offset="0" stop-color="#c06080" stop-opacity="0.72"/><stop offset="0.3" stop-color="#c06080" stop-opacity="0.18"/><stop offset="1" stop-color="#c06080" stop-opacity="0.0"/></radialGradient><radialGradient id="g138" gradientUnits="userSpaceOnUse" cx="220" cy="107.6" r="40"><stop offset="0" stop-color="#c08090" stop-opacity="0.72"/><stop offset="0.3" stop-color="#c08090" stop-opacity="0.18"/><stop offset="1" stop-color="#c08090" stop-opacity="0.0"/></radialGradient><radialGradient id="g139" gradientUnits="userSpaceOnUse" cx="218" cy="102.6" r="40"><stop offset="0" stop-color="#c06080" stop-opacity="0.3203358836534391"/><stop offset="0.3" stop-color="#c06080" stop-opacity="0.06010076509603174"/><stop offset="1" stop-color="#c06080" stop-opacity="0.0"/></radialGradient><radialGradient id="g140" gradientUnits="userSpaceOnUse" cx="216.5" cy="98.2" r="40"><stop offset="0" stop-color="#b070b0" stop-opacity="0.4305733688901759"/><stop offset="0.3" stop-color="#b070b0" stop-opacity="0.09317201066705277"/><stop offset="1" stop-color="#b070b0" stop-opacity="0.0"/></radialGradient><radialGradient id="g141" gradientUnits="userSpaceOnUse" cx="215.4" cy="93.5" r="40"><stop offset="0" stop-color="#c06080" stop-opacity="0.39690607692899843"/><stop offset="0.3" stop-color="#c06080" stop-opacity="0.08307182307869954"/><stop offset="1" stop-color="#c06080" stop-opacity="0.0"/></radialGradient><radialGradient id="g142" gradientUnits="userSpaceOnUse" cx="214" cy="83.2" r="40"><stop offset="0" stop-color="#888888" stop-opacity="0.72"/><stop offset="0.3" stop-color="#888888" stop-opacity="0.18"/><stop offset="1" stop-color="#888888" stop-opacity="0.0"/></radialGradient><radialGradient id="g143" gradientUnits="userSpaceOnUse" cx="214" cy="76.1" r="40"><stop offset="0" stop-color="#807060" stop-opacity="0.63880257792195"/><stop offset="0.3" stop-color="#807060" stop-opacity="0.15564077337658502"/><stop offset="1" stop-color="#807060" stop-opacity="0.0"/></radialGradient><radialGradient id="g144" gradientUnits="userSpaceOnUse" cx="214.3" cy="72.3" r="40"><stop offset="0" stop-color="#807060" stop-opacity="0.44137072104762337"/><stop offset="0.3" stop-color="#807060" stop-opacity="0.09641121631428701"/><stop offset="1" stop-color="#807060" stop-opacity="0.0"/></radialGradient><radialGradient id="g145" gradientUnits="userSpaceOnUse" cx="215.2" cy="65.9" r="40"><stop offset="0" stop-color="#706860" stop-opacity="0.4639601204087358"/><stop offset="0.3" stop-color="#706860" stop-opacity="0.10318803612262074"/><stop offset="1" stop-color="#706860" stop-opacity="0.0"/></radialGradient><radialGradient id="g146" gradientUnits="userSpaceOnUse" cx="215.8" cy="63.3" r="40"><stop offset="0" stop-color="#807060" stop-opacity="0.45376816732208003"/><stop offset="0.3" stop-color="#807060" stop-opacity="0.10013045019662402"/><stop offset="1" stop-color="#807060" stop-opacity="0.0"/></radialGradient><radialGradient id="g147" gradientUnits="userSpaceOnUse" cx="217" cy="59" r="40"><stop offset="0" stop-color="#8a7a70" stop-opacity="0.72"/><stop offset="0.3" stop-color="#8a7a70" stop-opacity="0.18"/><stop offset="1" stop-color="#8a7a70" stop-opacity="0.0"/></radialGradient><radialGradient id="g148" gradientUnits="userSpaceOnUse" cx="221.5" cy="48.1" r="40"><stop offset="0" stop-color="#a08878" stop-opacity="0.4735075462593046"/><stop offset="0.3" stop-color="#a08878" stop-opacity="0.10605226387779138"/><stop offset="1" stop-color="#a08878" stop-opacity="0.0"/></radialGradient><radialGradient id="g149" gradientUnits="userSpaceOnUse" cx="223.8" cy="43.9" r="40"><stop offset="0" stop-color="#807060" stop-opacity="0.72"/><stop offset="0.3" stop-color="#807060" stop-opacity="0.18"/><stop offset="1" stop-color="#807060" stop-opacity="0.0"/></radialGradient><radialGradient id="g150" gradientUnits="userSpaceOnUse" cx="227.5" cy="38.4" r="40"><stop offset="0" stop-color="#7a7a7a" stop-opacity="0.4935199333519374"/><stop offset="0.3" stop-color="#7a7a7a" stop-opacity="0.11205598000558123"/><stop offset="1" stop-color="#7a7a7a" stop-opacity="0.0"/></radialGradient><radialGradient id="g151" gradientUnits="userSpaceOnUse" cx="230.6" cy="34.6" r="40"><stop offset="0" stop-color="#888888" stop-opacity="0.72"/><stop offset="0.3" stop-color="#888888" stop-opacity="0.18"/><stop offset="1" stop-color="#888888" stop-opacity="0.0"/></radialGradient><radialGradient id="g152" gradientUnits="userSpaceOnUse" cx="233" cy="31.9" r="40"><stop offset="0" stop-color="#706860" stop-opacity="0.72"/><stop offset="0.3" stop-color="#706860" stop-opacity="0.18"/><stop offset="1" stop-color="#706860" stop-opacity="0.0"/></radialGradient><radialGradient id="g153" gradientUnits="userSpaceOnUse" cx="235.6" cy="29.4" r="40"><stop offset="0" stop-color="#c08080" stop-opacity="0.5878438336792823"/><stop offset="0.3" stop-color="#c08080" stop-opacity="0.14035315010378469"/><stop offset="1" stop-color="#c08080" stop-opacity="0.0"/></radialGradient><radialGradient id="g154" gradientUnits="userSpaceOnUse" cx="241.5" cy="24.4" r="40"><stop offset="0" stop-color="#807060" stop-opacity="0.6251206427835003"/><stop offset="0.3" stop-color="#807060" stop-opacity="0.1515361928350501"/><stop offset="1" stop-color="#807060" stop-opacity="0.0"/></radialGradient><radialGradient id="g155" gradientUnits="userSpaceOnUse" cx="244.4" cy="22.4" r="40"><stop offset="0" stop-color="#888888" stop-opacity="0.4744780744871641"/><stop offset="0.3" stop-color="#888888" stop-opacity="0.10634342234614924"/><stop offset="1" stop-color="#888888" stop-opacity="0.0"/></radialGradient><radialGradient id="g156" gradientUnits="userSpaceOnUse" cx="248.9" cy="19.6" r="40"><stop offset="0" stop-color="#7a7a7a" stop-opacity="0.422163381916443"/><stop offset="0.3" stop-color="#7a7a7a" stop-opacity="0.09064901457493289"/><stop offset="1" stop-color="#7a7a7a" stop-opacity="0.0"/></radialGradient><radialGradient id="g157" gradientUnits="userSpaceOnUse" cx="253.3" cy="17.4" r="40"><stop offset="0" stop-color="#c08080" stop-opacity="0.6975297194923774"/><stop offset="0.3" stop-color="#c08080" stop-opacity="0.17325891584771325"/><stop offset="1" stop-color="#c08080" stop-opacity="0.0"/></radialGradient><radialGradient id="g158" gradientUnits="userSpaceOnUse" cx="256.7" cy="15.9" r="40"><stop offset="0" stop-color="#c08080" stop-opacity="0.72"/><stop offset="0.3" stop-color="#c08080" stop-opacity="0.18"/><stop offset="1" stop-color="#c08080" stop-opacity="0.0"/></radialGradient><radialGradient id="g159" gradientUnits="userSpaceOnUse" cx="267.9" cy="12.5" r="40"><stop offset="0" stop-color="#c0a0a0" stop-opacity="0.5722304534656268"/><stop offset="0.3" stop-color="#c0a0a0" stop-opacity="0.13566913603968808"/><stop offset="1" stop-color="#c0a0a0" stop-opacity="0.0"/></radialGradient><radialGradient id="g160" gradientUnits="userSpaceOnUse" cx="273" cy="11.6" r="40"><stop offset="0" stop-color="#d0a0a0" stop-opacity="0.1227361058190341"/><stop offset="0.3" stop-color="#d0a0a0" stop-opacity="0.0008208317457102327"/><stop offset="1" stop-color="#d0a0a0" stop-opacity="0.0"/></radialGradient><radialGradient id="g161" gradientUnits="userSpaceOnUse" cx="278" cy="11" r="40"><stop offset="0" stop-color="#a0b0c0" stop-opacity="0.6550002216477587"/><stop offset="0.3" stop-color="#a0b0c0" stop-opacity="0.16050006649432763"/><stop offset="1" stop-color="#a0b0c0" stop-opacity="0.0"/></radialGradient><radialGradient id="g162" gradientUnits="userSpaceOnUse" cx="263.2" cy="13.7" r="137"><stop offset="0" stop-color="#f01010" stop-opacity="0.765"/><stop offset="0.15" stop-color="#f01010" stop-opacity="0.186"/><stop offset="1" stop-color="#f01010" stop-opacity="0.06"/></radialGradient><radialGradient id="g163" gradientUnits="userSpaceOnUse" cx="340.3" cy="42.8" r="137"><stop offset="0" stop-color="#2a8a2a" stop-opacity="0.7224999999999999"/><stop offset="0.15" stop-color="#2a8a2a" stop-opacity="0.155"/><stop offset="1" stop-color="#2a8a2a" stop-opacity="0.05"/></radialGradient><radialGradient id="g164" gradientUnits="userSpaceOnUse" cx="336" cy="36.8" r="137"><stop offset="0" stop-color="#e040c0" stop-opacity="0.68"/><stop offset="0.15" stop-color="#e040c0" stop-opacity="0.124"/><stop offset="1" stop-color="#e040c0" stop-opacity="0.03"/></radialGradient><radialGradient id="g165" gradientUnits="userSpaceOnUse" cx="326.9" cy="27.3" r="137"><stop offset="0" stop-color="#8050d0" stop-opacity="0.68"/><stop offset="0.15" stop-color="#8050d0" stop-opacity="0.124"/><stop offset="1" stop-color="#8050d0" stop-opacity="0.025"/></radialGradient><radialGradient id="g166" gradientUnits="userSpaceOnUse" cx="310.6" cy="17" r="137"><stop offset="0" stop-color="#707070" stop-opacity="0.595"/><stop offset="0.15" stop-color="#707070" stop-opacity="0.124"/><stop offset="1" stop-color="#707070" stop-opacity="0.025"/></radialGradient><radialGradient id="g167" gradientUnits="userSpaceOnUse" cx="219.3" cy="52.6" r="137"><stop offset="0" stop-color="#a05a5a" stop-opacity="0.68"/><stop offset="0.15" stop-color="#a05a5a" stop-opacity="0.124"/><stop offset="1" stop-color="#a05a5a" stop-opacity="0.04"/></radialGradient><radialGradient id="g168" gradientUnits="userSpaceOnUse" cx="214.6" cy="88.9" r="137"><stop offset="0" stop-color="#4aa84a" stop-opacity="0.7224999999999999"/><stop offset="0.15" stop-color="#4aa84a" stop-opacity="0.155"/><stop offset="1" stop-color="#4aa84a" stop-opacity="0.05"/></radialGradient><radialGradient id="g169" gradientUnits="userSpaceOnUse" cx="223.1" cy="113.6" r="137"><stop offset="0" stop-color="#c07830" stop-opacity="0.68"/><stop offset="0.15" stop-color="#c07830" stop-opacity="0.124"/><stop offset="1" stop-color="#c07830" stop-opacity="0.04"/></radialGradient><radialGradient id="g170" gradientUnits="userSpaceOnUse" cx="240.2" cy="133.4" r="137"><stop offset="0" stop-color="#9040a0" stop-opacity="0.68"/><stop offset="0.15" stop-color="#9040a0" stop-opacity="0.124"/><stop offset="1" stop-color="#9040a0" stop-opacity="0.04"/></radialGradient><radialGradient id="g171" gradientUnits="userSpaceOnUse" cx="346.5" cy="103.5" r="137"><stop offset="0" stop-color="#30d8d8" stop-opacity="0.765"/><stop offset="0.15" stop-color="#30d8d8" stop-opacity="0.155"/><stop offset="1" stop-color="#30d8d8" stop-opacity="0.04"/></radialGradient><radialGradient id="g172" gradientUnits="userSpaceOnUse" cx="338.6" cy="118.6" r="137"><stop offset="0" stop-color="#8a3a9a" stop-opacity="0.765"/><stop offset="0.15" stop-color="#8a3a9a" stop-opacity="0.1364"/><stop offset="1" stop-color="#8a3a9a" stop-opacity="0.04"/></radialGradient><radialGradient id="g173" gradientUnits="userSpaceOnUse" cx="334.3" cy="124.2" r="137"><stop offset="0" stop-color="#e040c0" stop-opacity="0.68"/><stop offset="0.15" stop-color="#e040c0" stop-opacity="0.124"/><stop offset="1" stop-color="#e040c0" stop-opacity="0.03"/></radialGradient><radialGradient id="g174" gradientUnits="userSpaceOnUse" cx="315.6" cy="139.3" r="137"><stop offset="0" stop-color="#80c870" stop-opacity="0.595"/><stop offset="0.15" stop-color="#80c870" stop-opacity="0.124"/><stop offset="1" stop-color="#80c870" stop-opacity="0.025"/></radialGradient><radialGradient id="g175" gradientUnits="userSpaceOnUse" cx="303.9" cy="144.4" r="137"><stop offset="0" stop-color="#6040b0" stop-opacity="0.765"/><stop offset="0.15" stop-color="#6040b0" stop-opacity="0.1364"/><stop offset="1" stop-color="#6040b0" stop-opacity="0.04"/></radialGradient><radialGradient id="g176" gradientUnits="userSpaceOnUse" cx="295.9" cy="146.5" r="137"><stop offset="0" stop-color="#8b1a10" stop-opacity="0.8075"/><stop offset="0.15" stop-color="#8b1a10" stop-opacity="0.1364"/><stop offset="1" stop-color="#8b1a10" stop-opacity="0.03"/></radialGradient><radialGradient id="g177" gradientUnits="userSpaceOnUse" cx="459.8" cy="10.5" r="40"><stop offset="0" stop-color="#d0a0a0" stop-opacity="0.5472405255150277"/><stop offset="0.3" stop-color="#d0a0a0" stop-opacity="0.1281721576545083"/><stop offset="1" stop-color="#d0a0a0" stop-opacity="0.0"/></radialGradient><radialGradient id="g178" gradientUnits="userSpaceOnUse" cx="465.3" cy="10.7" r="40"><stop offset="0" stop-color="#c0a0a0" stop-opacity="0.1776662108597966"/><stop offset="0.3" stop-color="#c0a0a0" stop-opacity="0.01729986325793899"/><stop offset="1" stop-color="#c0a0a0" stop-opacity="0.0"/></radialGradient><radialGradient id="g179" gradientUnits="userSpaceOnUse" cx="471.2" cy="11.3" r="40"><stop offset="0" stop-color="#c0c0c0" stop-opacity="0.39586215710938755"/><stop offset="0.3" stop-color="#c0c0c0" stop-opacity="0.08275864713281626"/><stop offset="1" stop-color="#c0c0c0" stop-opacity="0.0"/></radialGradient><radialGradient id="g180" gradientUnits="userSpaceOnUse" cx="485.2" cy="15" r="40"><stop offset="0" stop-color="#a0d0d0" stop-opacity="0.5668722502431521"/><stop offset="0.3" stop-color="#a0d0d0" stop-opacity="0.13406167507294564"/><stop offset="1" stop-color="#a0d0d0" stop-opacity="0.0"/></radialGradient><radialGradient id="g181" gradientUnits="userSpaceOnUse" cx="496" cy="20.2" r="40"><stop offset="0" stop-color="#e0a0c0" stop-opacity="0.19393457735866104"/><stop offset="0.3" stop-color="#e0a0c0" stop-opacity="0.02218037320759832"/><stop offset="1" stop-color="#e0a0c0" stop-opacity="0.0"/></radialGradient><radialGradient id="g182" gradientUnits="userSpaceOnUse" cx="498.9" cy="22" r="40"><stop offset="0" stop-color="#a0d0d0" stop-opacity="0.5695432931488708"/><stop offset="0.3" stop-color="#a0d0d0" stop-opacity="0.13486298794466123"/><stop offset="1" stop-color="#a0d0d0" stop-opacity="0.0"/></radialGradient><radialGradient id="g183" gradientUnits="userSpaceOnUse" cx="502.8" cy="24.8" r="40"><stop offset="0" stop-color="#d0d080" stop-opacity="0.15438964189214732"/><stop offset="0.3" stop-color="#d0d080" stop-opacity="0.010316892567644202"/><stop offset="1" stop-color="#d0d080" stop-opacity="0.0"/></radialGradient><radialGradient id="g184" gradientUnits="userSpaceOnUse" cx="507.7" cy="29" r="40"><stop offset="0" stop-color="#90c090" stop-opacity="0.20059886294727575"/><stop offset="0.3" stop-color="#90c090" stop-opacity="0.02417965888418272"/><stop offset="1" stop-color="#90c090" stop-opacity="0.0"/></radialGradient><radialGradient id="g185" gradientUnits="userSpaceOnUse" cx="510.7" cy="32" r="40"><stop offset="0" stop-color="#c0b0e0" stop-opacity="0.3061461463669946"/><stop offset="0.3" stop-color="#c0b0e0" stop-opacity="0.05584384391009838"/><stop offset="1" stop-color="#c0b0e0" stop-opacity="0.0"/></radialGradient><radialGradient id="g186" gradientUnits="userSpaceOnUse" cx="514.7" cy="36.6" r="40"><stop offset="0" stop-color="#e0a0c0" stop-opacity="0.4857153539187671"/><stop offset="0.3" stop-color="#e0a0c0" stop-opacity="0.10971460617563013"/><stop offset="1" stop-color="#e0a0c0" stop-opacity="0.0"/></radialGradient><radialGradient id="g187" gradientUnits="userSpaceOnUse" cx="517.3" cy="40.1" r="40"><stop offset="0" stop-color="#e0a0c0" stop-opacity="0.12877341543691528"/><stop offset="0.3" stop-color="#e0a0c0" stop-opacity="0.002632024631074584"/><stop offset="1" stop-color="#e0a0c0" stop-opacity="0.0"/></radialGradient><radialGradient id="g188" gradientUnits="userSpaceOnUse" cx="522.8" cy="49.4" r="40"><stop offset="0" stop-color="#e0a0c0" stop-opacity="0.5524139929316121"/><stop offset="0.3" stop-color="#e0a0c0" stop-opacity="0.1297241978794836"/><stop offset="1" stop-color="#e0a0c0" stop-opacity="0.0"/></radialGradient><radialGradient id="g189" gradientUnits="userSpaceOnUse" cx="525.4" cy="55.6" r="40"><stop offset="0" stop-color="#e0c0a0" stop-opacity="0.20680408289867208"/><stop offset="0.3" stop-color="#e0c0a0" stop-opacity="0.026041224869601618"/><stop offset="1" stop-color="#e0c0a0" stop-opacity="0.0"/></radialGradient><radialGradient id="g190" gradientUnits="userSpaceOnUse" cx="527.4" cy="62" r="40"><stop offset="0" stop-color="#c0d0c0" stop-opacity="0.4407002989723515"/><stop offset="0.3" stop-color="#c0d0c0" stop-opacity="0.09621008969170546"/><stop offset="1" stop-color="#c0d0c0" stop-opacity="0.0"/></radialGradient><radialGradient id="g191" gradientUnits="userSpaceOnUse" cx="528.7" cy="67.7" r="40"><stop offset="0" stop-color="#c0d0c0" stop-opacity="0.44697589708856433"/><stop offset="0.3" stop-color="#c0d0c0" stop-opacity="0.0980927691265693"/><stop offset="1" stop-color="#c0d0c0" stop-opacity="0.0"/></radialGradient><radialGradient id="g192" gradientUnits="userSpaceOnUse" cx="529.2" cy="71.6" r="40"><stop offset="0" stop-color="#d0b0e0" stop-opacity="0.12127265778267013"/><stop offset="0.3" stop-color="#d0b0e0" stop-opacity="0.0003817973348010388"/><stop offset="1" stop-color="#d0b0e0" stop-opacity="0.0"/></radialGradient><radialGradient id="g193" gradientUnits="userSpaceOnUse" cx="529.6" cy="76.8" r="40"><stop offset="0" stop-color="#f0b0d0" stop-opacity="0.3797520553138725"/><stop offset="0.3" stop-color="#f0b0d0" stop-opacity="0.07792561659416175"/><stop offset="1" stop-color="#f0b0d0" stop-opacity="0.0"/></radialGradient><radialGradient id="g194" gradientUnits="userSpaceOnUse" cx="529.6" cy="83.4" r="40"><stop offset="0" stop-color="#e0a0c0" stop-opacity="0.18345403274769653"/><stop offset="0.3" stop-color="#e0a0c0" stop-opacity="0.01903620982430896"/><stop offset="1" stop-color="#e0a0c0" stop-opacity="0.0"/></radialGradient><radialGradient id="g195" gradientUnits="userSpaceOnUse" cx="528.6" cy="92" r="40"><stop offset="0" stop-color="#e0c0a0" stop-opacity="0.12007425237365439"/><stop offset="0.3" stop-color="#e0c0a0" stop-opacity="2.2275712096316916e-05"/><stop offset="1" stop-color="#e0c0a0" stop-opacity="0.0"/></radialGradient><radialGradient id="g196" gradientUnits="userSpaceOnUse" cx="527" cy="98.6" r="40"><stop offset="0" stop-color="#c0d090" stop-opacity="0.1800640732687791"/><stop offset="0.3" stop-color="#c0d090" stop-opacity="0.01801922198063373"/><stop offset="1" stop-color="#c0d090" stop-opacity="0.0"/></radialGradient><radialGradient id="g197" gradientUnits="userSpaceOnUse" cx="525.7" cy="102.7" r="40"><stop offset="0" stop-color="#a0a0a0" stop-opacity="0.40775113180642314"/><stop offset="0.3" stop-color="#a0a0a0" stop-opacity="0.08632533954192695"/><stop offset="1" stop-color="#a0a0a0" stop-opacity="0.0"/></radialGradient><radialGradient id="g198" gradientUnits="userSpaceOnUse" cx="519.5" cy="115.7" r="40"><stop offset="0" stop-color="#b0a0c0" stop-opacity="0.3422145732306608"/><stop offset="0.3" stop-color="#b0a0c0" stop-opacity="0.06666437196919824"/><stop offset="1" stop-color="#b0a0c0" stop-opacity="0.0"/></radialGradient><radialGradient id="g199" gradientUnits="userSpaceOnUse" cx="516.6" cy="119.9" r="40"><stop offset="0" stop-color="#b0a0c0" stop-opacity="0.24838164195463897"/><stop offset="0.3" stop-color="#b0a0c0" stop-opacity="0.038514492586391696"/><stop offset="1" stop-color="#b0a0c0" stop-opacity="0.0"/></radialGradient><radialGradient id="g200" gradientUnits="userSpaceOnUse" cx="510.8" cy="127" r="40"><stop offset="0" stop-color="#90c090" stop-opacity="0.12181428824575112"/><stop offset="0.3" stop-color="#90c090" stop-opacity="0.0005442864737253359"/><stop offset="1" stop-color="#90c090" stop-opacity="0.0"/></radialGradient><radialGradient id="g201" gradientUnits="userSpaceOnUse" cx="505.8" cy="131.7" r="40"><stop offset="0" stop-color="#b0a0c0" stop-opacity="0.5620578970570402"/><stop offset="0.3" stop-color="#b0a0c0" stop-opacity="0.13261736911711208"/><stop offset="1" stop-color="#b0a0c0" stop-opacity="0.0"/></radialGradient><radialGradient id="g202" gradientUnits="userSpaceOnUse" cx="502.4" cy="134.5" r="40"><stop offset="0" stop-color="#e090a0" stop-opacity="0.3623576390102309"/><stop offset="0.3" stop-color="#e090a0" stop-opacity="0.07270729170306926"/><stop offset="1" stop-color="#e090a0" stop-opacity="0.0"/></radialGradient><radialGradient id="g203" gradientUnits="userSpaceOnUse" cx="495" cy="139.4" r="40"><stop offset="0" stop-color="#b0a0c0" stop-opacity="0.1283820002700698"/><stop offset="0.3" stop-color="#b0a0c0" stop-opacity="0.0025146000810209374"/><stop offset="1" stop-color="#b0a0c0" stop-opacity="0.0"/></radialGradient><radialGradient id="g204" gradientUnits="userSpaceOnUse" cx="488.7" cy="142.6" r="40"><stop offset="0" stop-color="#b0a0c0" stop-opacity="0.530497679056948"/><stop offset="0.3" stop-color="#b0a0c0" stop-opacity="0.12314930371708438"/><stop offset="1" stop-color="#b0a0c0" stop-opacity="0.0"/></radialGradient><radialGradient id="g205" gradientUnits="userSpaceOnUse" cx="486.7" cy="143.4" r="40"><stop offset="0" stop-color="#d0a0a0" stop-opacity="0.3906268318720726"/><stop offset="0.3" stop-color="#d0a0a0" stop-opacity="0.08118804956162178"/><stop offset="1" stop-color="#d0a0a0" stop-opacity="0.0"/></radialGradient><radialGradient id="g206" gradientUnits="userSpaceOnUse" cx="470.5" cy="147.8" r="40"><stop offset="0" stop-color="#a0a0a0" stop-opacity="0.12437022888566457"/><stop offset="0.3" stop-color="#a0a0a0" stop-opacity="0.00131106866569937"/><stop offset="1" stop-color="#a0a0a0" stop-opacity="0.0"/></radialGradient><radialGradient id="g207" gradientUnits="userSpaceOnUse" cx="467.1" cy="148.2" r="40"><stop offset="0" stop-color="#c0d090" stop-opacity="0.29018720394785424"/><stop offset="0.3" stop-color="#c0d090" stop-opacity="0.05105616118435627"/><stop offset="1" stop-color="#c0d090" stop-opacity="0.0"/></radialGradient><radialGradient id="g208" gradientUnits="userSpaceOnUse" cx="459.4" cy="148.5" r="40"><stop offset="0" stop-color="#a8a870" stop-opacity="0.3476595410367408"/><stop offset="0.3" stop-color="#a8a870" stop-opacity="0.06829786231102224"/><stop offset="1" stop-color="#a8a870" stop-opacity="0.0"/></radialGradient><radialGradient id="g209" gradientUnits="userSpaceOnUse" cx="457.1" cy="148.4" r="40"><stop offset="0" stop-color="#907868" stop-opacity="0.153209515927123"/><stop offset="0.3" stop-color="#907868" stop-opacity="0.009962854778136907"/><stop offset="1" stop-color="#907868" stop-opacity="0.0"/></radialGradient><radialGradient id="g210" gradientUnits="userSpaceOnUse" cx="451" cy="147.8" r="40"><stop offset="0" stop-color="#9060a0" stop-opacity="0.6536831413726766"/><stop offset="0.3" stop-color="#9060a0" stop-opacity="0.16010494241180298"/><stop offset="1" stop-color="#9060a0" stop-opacity="0.0"/></radialGradient><radialGradient id="g211" gradientUnits="userSpaceOnUse" cx="447.4" cy="147.2" r="40"><stop offset="0" stop-color="#8070b0" stop-opacity="0.32251377287005517"/><stop offset="0.3" stop-color="#8070b0" stop-opacity="0.06075413186101655"/><stop offset="1" stop-color="#8070b0" stop-opacity="0.0"/></radialGradient><radialGradient id="g212" gradientUnits="userSpaceOnUse" cx="439.9" cy="145.3" r="40"><stop offset="0" stop-color="#b070b0" stop-opacity="0.36267506184532194"/><stop offset="0.3" stop-color="#b070b0" stop-opacity="0.07280251855359658"/><stop offset="1" stop-color="#b070b0" stop-opacity="0.0"/></radialGradient><radialGradient id="g213" gradientUnits="userSpaceOnUse" cx="437.6" cy="144.5" r="40"><stop offset="0" stop-color="#c06080" stop-opacity="0.5902050164679333"/><stop offset="0.3" stop-color="#c06080" stop-opacity="0.14106150494038"/><stop offset="1" stop-color="#c06080" stop-opacity="0.0"/></radialGradient><radialGradient id="g214" gradientUnits="userSpaceOnUse" cx="431.8" cy="142.2" r="40"><stop offset="0" stop-color="#c08090" stop-opacity="0.3808097592915886"/><stop offset="0.3" stop-color="#c08090" stop-opacity="0.07824292778747659"/><stop offset="1" stop-color="#c08090" stop-opacity="0.0"/></radialGradient><radialGradient id="g215" gradientUnits="userSpaceOnUse" cx="421.4" cy="136.2" r="40"><stop offset="0" stop-color="#a0a0c0" stop-opacity="0.72"/><stop offset="0.3" stop-color="#a0a0c0" stop-opacity="0.18"/><stop offset="1" stop-color="#a0a0c0" stop-opacity="0.0"/></radialGradient><radialGradient id="g216" gradientUnits="userSpaceOnUse" cx="418.5" cy="134.1" r="40"><stop offset="0" stop-color="#c06080" stop-opacity="0.46650750989771456"/><stop offset="0.3" stop-color="#c06080" stop-opacity="0.10395225296931437"/><stop offset="1" stop-color="#c06080" stop-opacity="0.0"/></radialGradient><radialGradient id="g217" gradientUnits="userSpaceOnUse" cx="415.2" cy="131.3" r="40"><stop offset="0" stop-color="#b070b0" stop-opacity="0.6771043238438867"/><stop offset="0.3" stop-color="#b070b0" stop-opacity="0.16713129715316602"/><stop offset="1" stop-color="#b070b0" stop-opacity="0.0"/></radialGradient><radialGradient id="g218" gradientUnits="userSpaceOnUse" cx="412" cy="128.4" r="40"><stop offset="0" stop-color="#d05070" stop-opacity="0.3585058384110674"/><stop offset="0.3" stop-color="#d05070" stop-opacity="0.07155175152332023"/><stop offset="1" stop-color="#d05070" stop-opacity="0.0"/></radialGradient><radialGradient id="g219" gradientUnits="userSpaceOnUse" cx="405.2" cy="120.5" r="40"><stop offset="0" stop-color="#8070b0" stop-opacity="0.30781535193733955"/><stop offset="0.3" stop-color="#8070b0" stop-opacity="0.05634460558120188"/><stop offset="1" stop-color="#8070b0" stop-opacity="0.0"/></radialGradient><radialGradient id="g220" gradientUnits="userSpaceOnUse" cx="402.2" cy="116.1" r="40"><stop offset="0" stop-color="#a0a0c0" stop-opacity="0.32146270803922417"/><stop offset="0.3" stop-color="#a0a0c0" stop-opacity="0.06043881241176725"/><stop offset="1" stop-color="#a0a0c0" stop-opacity="0.0"/></radialGradient><radialGradient id="g221" gradientUnits="userSpaceOnUse" cx="399.9" cy="112.1" r="40"><stop offset="0" stop-color="#c06080" stop-opacity="0.454642596746265"/><stop offset="0.3" stop-color="#c06080" stop-opacity="0.1003927790238795"/><stop offset="1" stop-color="#c06080" stop-opacity="0.0"/></radialGradient><radialGradient id="g222" gradientUnits="userSpaceOnUse" cx="394.1" cy="97.4" r="40"><stop offset="0" stop-color="#9060a0" stop-opacity="0.4610921193955317"/><stop offset="0.3" stop-color="#9060a0" stop-opacity="0.1023276358186595"/><stop offset="1" stop-color="#9060a0" stop-opacity="0.0"/></radialGradient><radialGradient id="g223" gradientUnits="userSpaceOnUse" cx="392.6" cy="90.6" r="40"><stop offset="0" stop-color="#8070b0" stop-opacity="0.32285809353347095"/><stop offset="0.3" stop-color="#8070b0" stop-opacity="0.060857428060041296"/><stop offset="1" stop-color="#8070b0" stop-opacity="0.0"/></radialGradient><radialGradient id="g224" gradientUnits="userSpaceOnUse" cx="392.2" cy="87.5" r="40"><stop offset="0" stop-color="#d05070" stop-opacity="0.72"/><stop offset="0.3" stop-color="#d05070" stop-opacity="0.18"/><stop offset="1" stop-color="#d05070" stop-opacity="0.0"/></radialGradient><radialGradient id="g225" gradientUnits="userSpaceOnUse" cx="391.8" cy="75.7" r="40"><stop offset="0" stop-color="#8a7a70" stop-opacity="0.6555601064587008"/><stop offset="0.3" stop-color="#8a7a70" stop-opacity="0.16066803193761023"/><stop offset="1" stop-color="#8a7a70" stop-opacity="0.0"/></radialGradient><radialGradient id="g226" gradientUnits="userSpaceOnUse" cx="392.2" cy="71.5" r="40"><stop offset="0" stop-color="#a08878" stop-opacity="0.5158540081161518"/><stop offset="0.3" stop-color="#a08878" stop-opacity="0.11875620243484553"/><stop offset="1" stop-color="#a08878" stop-opacity="0.0"/></radialGradient><radialGradient id="g227" gradientUnits="userSpaceOnUse" cx="392.8" cy="67.2" r="40"><stop offset="0" stop-color="#706860" stop-opacity="0.5554642066224056"/><stop offset="0.3" stop-color="#706860" stop-opacity="0.13063926198672168"/><stop offset="1" stop-color="#706860" stop-opacity="0.0"/></radialGradient><radialGradient id="g228" gradientUnits="userSpaceOnUse" cx="394.4" cy="60.5" r="40"><stop offset="0" stop-color="#7a7a7a" stop-opacity="0.6680283417326689"/><stop offset="0.3" stop-color="#7a7a7a" stop-opacity="0.16440850251980066"/><stop offset="1" stop-color="#7a7a7a" stop-opacity="0.0"/></radialGradient><radialGradient id="g229" gradientUnits="userSpaceOnUse" cx="399.4" cy="47.8" r="40"><stop offset="0" stop-color="#807060" stop-opacity="0.4307795850741957"/><stop offset="0.3" stop-color="#807060" stop-opacity="0.09323387552225873"/><stop offset="1" stop-color="#807060" stop-opacity="0.0"/></radialGradient><radialGradient id="g230" gradientUnits="userSpaceOnUse" cx="405.6" cy="37.9" r="40"><stop offset="0" stop-color="#c08080" stop-opacity="0.5491802935924716"/><stop offset="0.3" stop-color="#c08080" stop-opacity="0.12875408807774147"/><stop offset="1" stop-color="#c08080" stop-opacity="0.0"/></radialGradient><radialGradient id="g231" gradientUnits="userSpaceOnUse" cx="406.6" cy="36.7" r="40"><stop offset="0" stop-color="#888888" stop-opacity="0.6415691638539631"/><stop offset="0.3" stop-color="#888888" stop-opacity="0.15647074915618892"/><stop offset="1" stop-color="#888888" stop-opacity="0.0"/></radialGradient><radialGradient id="g232" gradientUnits="userSpaceOnUse" cx="409.9" cy="32.8" r="40"><stop offset="0" stop-color="#c08080" stop-opacity="0.4554099369345764"/><stop offset="0.3" stop-color="#c08080" stop-opacity="0.10062298108037292"/><stop offset="1" stop-color="#c08080" stop-opacity="0.0"/></radialGradient><radialGradient id="g233" gradientUnits="userSpaceOnUse" cx="419" cy="24.5" r="40"><stop offset="0" stop-color="#c08080" stop-opacity="0.44251737898756666"/><stop offset="0.3" stop-color="#c08080" stop-opacity="0.09675521369627"/><stop offset="1" stop-color="#c08080" stop-opacity="0.0"/></radialGradient><radialGradient id="g234" gradientUnits="userSpaceOnUse" cx="423" cy="21.7" r="40"><stop offset="0" stop-color="#a08878" stop-opacity="0.72"/><stop offset="0.3" stop-color="#a08878" stop-opacity="0.18"/><stop offset="1" stop-color="#a08878" stop-opacity="0.0"/></radialGradient><radialGradient id="g235" gradientUnits="userSpaceOnUse" cx="427.7" cy="18.9" r="40"><stop offset="0" stop-color="#807060" stop-opacity="0.4711256261660037"/><stop offset="0.3" stop-color="#807060" stop-opacity="0.1053376878498011"/><stop offset="1" stop-color="#807060" stop-opacity="0.0"/></radialGradient><radialGradient id="g236" gradientUnits="userSpaceOnUse" cx="431.7" cy="16.9" r="40"><stop offset="0" stop-color="#807060" stop-opacity="0.72"/><stop offset="0.3" stop-color="#807060" stop-opacity="0.18"/><stop offset="1" stop-color="#807060" stop-opacity="0.0"/></radialGradient><radialGradient id="g237" gradientUnits="userSpaceOnUse" cx="437.6" cy="14.5" r="40"><stop offset="0" stop-color="#a0b0c0" stop-opacity="0.5180574733670681"/><stop offset="0.3" stop-color="#a0b0c0" stop-opacity="0.11941724201012043"/><stop offset="1" stop-color="#a0b0c0" stop-opacity="0.0"/></radialGradient><radialGradient id="g238" gradientUnits="userSpaceOnUse" cx="445" cy="12.3" r="40"><stop offset="0" stop-color="#a0b0c0" stop-opacity="0.5637711382590732"/><stop offset="0.3" stop-color="#a0b0c0" stop-opacity="0.13313134147772196"/><stop offset="1" stop-color="#a0b0c0" stop-opacity="0.0"/></radialGradient><radialGradient id="g239" gradientUnits="userSpaceOnUse" cx="449.5" cy="11.4" r="40"><stop offset="0" stop-color="#d0a0a0" stop-opacity="0.13797980158803055"/><stop offset="0.3" stop-color="#d0a0a0" stop-opacity="0.005393940476409166"/><stop offset="1" stop-color="#d0a0a0" stop-opacity="0.0"/></radialGradient><radialGradient id="g240" gradientUnits="userSpaceOnUse" cx="455" cy="10.7" r="40"><stop offset="0" stop-color="#a0b0c0" stop-opacity="0.12746920040070242"/><stop offset="0.3" stop-color="#a0b0c0" stop-opacity="0.002240760120210728"/><stop offset="1" stop-color="#a0b0c0" stop-opacity="0.0"/></radialGradient><radialGradient id="g241" gradientUnits="userSpaceOnUse" cx="441.4" cy="13.2" r="138"><stop offset="0" stop-color="#f01010" stop-opacity="0.765"/><stop offset="0.15" stop-color="#f01010" stop-opacity="0.1736"/><stop offset="1" stop-color="#f01010" stop-opacity="0.06"/></radialGradient><radialGradient id="g242" gradientUnits="userSpaceOnUse" cx="523.8" cy="51.5" r="138"><stop offset="0" stop-color="#2a8a2a" stop-opacity="0.765"/><stop offset="0.15" stop-color="#2a8a2a" stop-opacity="0.1736"/><stop offset="1" stop-color="#2a8a2a" stop-opacity="0.05"/></radialGradient><radialGradient id="g243" gradientUnits="userSpaceOnUse" cx="519.6" cy="43.6" r="138"><stop offset="0" stop-color="#e040c0" stop-opacity="0.7224999999999999"/><stop offset="0.15" stop-color="#e040c0" stop-opacity="0.124"/><stop offset="1" stop-color="#e040c0" stop-opacity="0.03"/></radialGradient><radialGradient id="g244" gradientUnits="userSpaceOnUse" cx="476.9" cy="12.4" r="138"><stop offset="0" stop-color="#70c0e0" stop-opacity="0.595"/><stop offset="0.15" stop-color="#70c0e0" stop-opacity="0.124"/><stop offset="1" stop-color="#70c0e0" stop-opacity="0.025"/></radialGradient><radialGradient id="g245" gradientUnits="userSpaceOnUse" cx="480.3" cy="13.3" r="138"><stop offset="0" stop-color="#70d070" stop-opacity="0.595"/><stop offset="0.15" stop-color="#70d070" stop-opacity="0.124"/><stop offset="1" stop-color="#70d070" stop-opacity="0.025"/></radialGradient><radialGradient id="g246" gradientUnits="userSpaceOnUse" cx="490.9" cy="17.5" r="138"><stop offset="0" stop-color="#9070d0" stop-opacity="0.595"/><stop offset="0.15" stop-color="#9070d0" stop-opacity="0.124"/><stop offset="1" stop-color="#9070d0" stop-opacity="0.025"/></radialGradient><radialGradient id="g247" gradientUnits="userSpaceOnUse" cx="505.2" cy="26.8" r="138"><stop offset="0" stop-color="#606060" stop-opacity="0.595"/><stop offset="0.15" stop-color="#606060" stop-opacity="0.124"/><stop offset="1" stop-color="#606060" stop-opacity="0.025"/></radialGradient><radialGradient id="g248" gradientUnits="userSpaceOnUse" cx="529.3" cy="86.7" r="138"><stop offset="0" stop-color="#e040c0" stop-opacity="0.595"/><stop offset="0.15" stop-color="#e040c0" stop-opacity="0.124"/><stop offset="1" stop-color="#e040c0" stop-opacity="0.025"/></radialGradient><radialGradient id="g249" gradientUnits="userSpaceOnUse" cx="402.9" cy="41.8" r="138"><stop offset="0" stop-color="#a05a5a" stop-opacity="0.68"/><stop offset="0.15" stop-color="#a05a5a" stop-opacity="0.124"/><stop offset="1" stop-color="#a05a5a" stop-opacity="0.04"/></radialGradient><radialGradient id="g250" gradientUnits="userSpaceOnUse" cx="413.2" cy="29.4" r="138"><stop offset="0" stop-color="#907060" stop-opacity="0.595"/><stop offset="0.15" stop-color="#907060" stop-opacity="0.124"/><stop offset="1" stop-color="#907060" stop-opacity="0.025"/></radialGradient><radialGradient id="g251" gradientUnits="userSpaceOnUse" cx="396.5" cy="54.3" r="138"><stop offset="0" stop-color="#a08060" stop-opacity="0.595"/><stop offset="0.15" stop-color="#a08060" stop-opacity="0.124"/><stop offset="1" stop-color="#a08060" stop-opacity="0.025"/></radialGradient><radialGradient id="g252" gradientUnits="userSpaceOnUse" cx="391.8" cy="83.4" r="138"><stop offset="0" stop-color="#4aa84a" stop-opacity="0.7224999999999999"/><stop offset="0.15" stop-color="#4aa84a" stop-opacity="0.155"/><stop offset="1" stop-color="#4aa84a" stop-opacity="0.05"/></radialGradient><radialGradient id="g253" gradientUnits="userSpaceOnUse" cx="395.9" cy="103.1" r="138"><stop offset="0" stop-color="#3a7a3a" stop-opacity="0.68"/><stop offset="0.15" stop-color="#3a7a3a" stop-opacity="0.124"/><stop offset="1" stop-color="#3a7a3a" stop-opacity="0.025"/></radialGradient><radialGradient id="g254" gradientUnits="userSpaceOnUse" cx="409.4" cy="125.7" r="138"><stop offset="0" stop-color="#9040a0" stop-opacity="0.68"/><stop offset="0.15" stop-color="#9040a0" stop-opacity="0.124"/><stop offset="1" stop-color="#9040a0" stop-opacity="0.04"/></radialGradient><radialGradient id="g255" gradientUnits="userSpaceOnUse" cx="428.3" cy="140.4" r="138"><stop offset="0" stop-color="#b040a0" stop-opacity="0.595"/><stop offset="0.15" stop-color="#b040a0" stop-opacity="0.124"/><stop offset="1" stop-color="#b040a0" stop-opacity="0.025"/></radialGradient><radialGradient id="g256" gradientUnits="userSpaceOnUse" cx="520.9" cy="113.3" r="138"><stop offset="0" stop-color="#30d8d8" stop-opacity="0.765"/><stop offset="0.15" stop-color="#30d8d8" stop-opacity="0.155"/><stop offset="1" stop-color="#30d8d8" stop-opacity="0.04"/></radialGradient><radialGradient id="g257" gradientUnits="userSpaceOnUse" cx="524.2" cy="106.5" r="138"><stop offset="0" stop-color="#e080a0" stop-opacity="0.595"/><stop offset="0.15" stop-color="#e080a0" stop-opacity="0.124"/><stop offset="1" stop-color="#e080a0" stop-opacity="0.025"/></radialGradient><radialGradient id="g258" gradientUnits="userSpaceOnUse" cx="513.2" cy="124.3" r="138"><stop offset="0" stop-color="#8a3a9a" stop-opacity="0.765"/><stop offset="0.15" stop-color="#8a3a9a" stop-opacity="0.1364"/><stop offset="1" stop-color="#8a3a9a" stop-opacity="0.04"/></radialGradient><radialGradient id="g259" gradientUnits="userSpaceOnUse" cx="499.3" cy="136.7" r="138"><stop offset="0" stop-color="#505050" stop-opacity="0.765"/><stop offset="0.15" stop-color="#505050" stop-opacity="0.1364"/><stop offset="1" stop-color="#505050" stop-opacity="0.04"/></radialGradient><radialGradient id="g260" gradientUnits="userSpaceOnUse" cx="480.5" cy="145.6" r="138"><stop offset="0" stop-color="#4848c0" stop-opacity="0.765"/><stop offset="0.15" stop-color="#4848c0" stop-opacity="0.1364"/><stop offset="1" stop-color="#4848c0" stop-opacity="0.04"/></radialGradient><radialGradient id="g261" gradientUnits="userSpaceOnUse" cx="473.2" cy="147.4" r="138"><stop offset="0" stop-color="#8b1a10" stop-opacity="0.8075"/><stop offset="0.15" stop-color="#8b1a10" stop-opacity="0.1364"/><stop offset="1" stop-color="#8b1a10" stop-opacity="0.03"/></radialGradient><radialGradient id="g262" gradientUnits="userSpaceOnUse" cx="101.8" cy="163.6" r="40"><stop offset="0" stop-color="#c0c0c0" stop-opacity="0.18338048744156302"/><stop offset="0.3" stop-color="#c0c0c0" stop-opacity="0.019014146232468908"/><stop offset="1" stop-color="#c0c0c0" stop-opacity="0.0"/></radialGradient><radialGradient id="g263" gradientUnits="userSpaceOnUse" cx="108.5" cy="163.8" r="40"><stop offset="0" stop-color="#c0a0a0" stop-opacity="0.45277034431404645"/><stop offset="0.3" stop-color="#c0a0a0" stop-opacity="0.09983110329421394"/><stop offset="1" stop-color="#c0a0a0" stop-opacity="0.0"/></radialGradient><radialGradient id="g264" gradientUnits="userSpaceOnUse" cx="111.5" cy="164.2" r="40"><stop offset="0" stop-color="#c0c0c0" stop-opacity="0.1726423287550127"/><stop offset="0.3" stop-color="#c0c0c0" stop-opacity="0.01579269862650381"/><stop offset="1" stop-color="#c0c0c0" stop-opacity="0.0"/></radialGradient><radialGradient id="g265" gradientUnits="userSpaceOnUse" cx="122.6" cy="166.6" r="40"><stop offset="0" stop-color="#a0b0c0" stop-opacity="0.1631906267543785"/><stop offset="0.3" stop-color="#a0b0c0" stop-opacity="0.012957188026313553"/><stop offset="1" stop-color="#a0b0c0" stop-opacity="0.0"/></radialGradient><radialGradient id="g266" gradientUnits="userSpaceOnUse" cx="132.7" cy="170.5" r="40"><stop offset="0" stop-color="#90c090" stop-opacity="0.6348879365786653"/><stop offset="0.3" stop-color="#90c090" stop-opacity="0.15446638097359958"/><stop offset="1" stop-color="#90c090" stop-opacity="0.0"/></radialGradient><radialGradient id="g267" gradientUnits="userSpaceOnUse" cx="136.3" cy="172.4" r="40"><stop offset="0" stop-color="#b090d0" stop-opacity="0.6042234257377046"/><stop offset="0.3" stop-color="#b090d0" stop-opacity="0.14526702772131136"/><stop offset="1" stop-color="#b090d0" stop-opacity="0.0"/></radialGradient><radialGradient id="g268" gradientUnits="userSpaceOnUse" cx="139.9" cy="174.5" r="40"><stop offset="0" stop-color="#90c090" stop-opacity="0.15010312761987515"/><stop offset="0.3" stop-color="#90c090" stop-opacity="0.009030938285962551"/><stop offset="1" stop-color="#90c090" stop-opacity="0.0"/></radialGradient><radialGradient id="g269" gradientUnits="userSpaceOnUse" cx="145.5" cy="178.6" r="40"><stop offset="0" stop-color="#b090d0" stop-opacity="0.17440233983389988"/><stop offset="0.3" stop-color="#b090d0" stop-opacity="0.016320701950169967"/><stop offset="1" stop-color="#b090d0" stop-opacity="0.0"/></radialGradient><radialGradient id="g270" gradientUnits="userSpaceOnUse" cx="147.7" cy="180.4" r="40"><stop offset="0" stop-color="#c0c060" stop-opacity="0.4401712066594027"/><stop offset="0.3" stop-color="#c0c060" stop-opacity="0.09605136199782081"/><stop offset="1" stop-color="#c0c060" stop-opacity="0.0"/></radialGradient><radialGradient id="g271" gradientUnits="userSpaceOnUse" cx="152.9" cy="185.4" r="40"><stop offset="0" stop-color="#c0b0e0" stop-opacity="0.16155288803145404"/><stop offset="0.3" stop-color="#c0b0e0" stop-opacity="0.012465866409436211"/><stop offset="1" stop-color="#c0b0e0" stop-opacity="0.0"/></radialGradient><radialGradient id="g272" gradientUnits="userSpaceOnUse" cx="154.9" cy="187.7" r="40"><stop offset="0" stop-color="#b090d0" stop-opacity="0.7028079584988633"/><stop offset="0.3" stop-color="#b090d0" stop-opacity="0.17484238754965903"/><stop offset="1" stop-color="#b090d0" stop-opacity="0.0"/></radialGradient><radialGradient id="g273" gradientUnits="userSpaceOnUse" cx="157.8" cy="191.4" r="40"><stop offset="0" stop-color="#b090d0" stop-opacity="0.15542865104201276"/><stop offset="0.3" stop-color="#b090d0" stop-opacity="0.010628595312603833"/><stop offset="1" stop-color="#b090d0" stop-opacity="0.0"/></radialGradient><radialGradient id="g274" gradientUnits="userSpaceOnUse" cx="160.9" cy="195.8" r="40"><stop offset="0" stop-color="#e0c0a0" stop-opacity="0.7192544059563128"/><stop offset="0.3" stop-color="#e0c0a0" stop-opacity="0.17977632178689384"/><stop offset="1" stop-color="#e0c0a0" stop-opacity="0.0"/></radialGradient><radialGradient id="g275" gradientUnits="userSpaceOnUse" cx="167.8" cy="210.6" r="40"><stop offset="0" stop-color="#d0b0e0" stop-opacity="0.4711225377189813"/><stop offset="0.3" stop-color="#d0b0e0" stop-opacity="0.10533676131569439"/><stop offset="1" stop-color="#d0b0e0" stop-opacity="0.0"/></radialGradient><radialGradient id="g276" gradientUnits="userSpaceOnUse" cx="168.8" cy="214" r="40"><stop offset="0" stop-color="#f0b0d0" stop-opacity="0.5013958782535137"/><stop offset="0.3" stop-color="#f0b0d0" stop-opacity="0.1144187634760541"/><stop offset="1" stop-color="#f0b0d0" stop-opacity="0.0"/></radialGradient><radialGradient id="g277" gradientUnits="userSpaceOnUse" cx="170.1" cy="219.6" r="40"><stop offset="0" stop-color="#e0a0c0" stop-opacity="0.1890903995691413"/><stop offset="0.3" stop-color="#e0a0c0" stop-opacity="0.020727119870742394"/><stop offset="1" stop-color="#e0a0c0" stop-opacity="0.0"/></radialGradient><radialGradient id="g278" gradientUnits="userSpaceOnUse" cx="171" cy="226.3" r="40"><stop offset="0" stop-color="#d0b0e0" stop-opacity="0.506915239740521"/><stop offset="0.3" stop-color="#d0b0e0" stop-opacity="0.1160745719221563"/><stop offset="1" stop-color="#d0b0e0" stop-opacity="0.0"/></radialGradient><radialGradient id="g279" gradientUnits="userSpaceOnUse" cx="171.3" cy="230.9" r="40"><stop offset="0" stop-color="#e0a0c0" stop-opacity="0.5763148745757808"/><stop offset="0.3" stop-color="#e0a0c0" stop-opacity="0.13689446237273423"/><stop offset="1" stop-color="#e0a0c0" stop-opacity="0.0"/></radialGradient><radialGradient id="g280" gradientUnits="userSpaceOnUse" cx="169.9" cy="246" r="40"><stop offset="0" stop-color="#d0b0e0" stop-opacity="0.15608818106593603"/><stop offset="0.3" stop-color="#d0b0e0" stop-opacity="0.010826454319780814"/><stop offset="1" stop-color="#d0b0e0" stop-opacity="0.0"/></radialGradient><radialGradient id="g281" gradientUnits="userSpaceOnUse" cx="169.3" cy="248.5" r="40"><stop offset="0" stop-color="#c0d0c0" stop-opacity="0.43771130172137074"/><stop offset="0.3" stop-color="#c0d0c0" stop-opacity="0.09531339051641122"/><stop offset="1" stop-color="#c0d0c0" stop-opacity="0.0"/></radialGradient><radialGradient id="g282" gradientUnits="userSpaceOnUse" cx="167.5" cy="254.7" r="40"><stop offset="0" stop-color="#c0d090" stop-opacity="0.4811020276645614"/><stop offset="0.3" stop-color="#c0d090" stop-opacity="0.10833060829936841"/><stop offset="1" stop-color="#c0d090" stop-opacity="0.0"/></radialGradient><radialGradient id="g283" gradientUnits="userSpaceOnUse" cx="165.9" cy="258.9" r="40"><stop offset="0" stop-color="#e090a0" stop-opacity="0.17222293816159376"/><stop offset="0.3" stop-color="#e090a0" stop-opacity="0.015666881448478127"/><stop offset="1" stop-color="#e090a0" stop-opacity="0.0"/></radialGradient><radialGradient id="g284" gradientUnits="userSpaceOnUse" cx="164" cy="262.9" r="40"><stop offset="0" stop-color="#90c090" stop-opacity="0.4883556935824812"/><stop offset="0.3" stop-color="#90c090" stop-opacity="0.11050670807474436"/><stop offset="1" stop-color="#90c090" stop-opacity="0.0"/></radialGradient><radialGradient id="g285" gradientUnits="userSpaceOnUse" cx="158.6" cy="272" r="40"><stop offset="0" stop-color="#a0a0a0" stop-opacity="0.2968201733172897"/><stop offset="0.3" stop-color="#a0a0a0" stop-opacity="0.05304605199518693"/><stop offset="1" stop-color="#a0a0a0" stop-opacity="0.0"/></radialGradient><radialGradient id="g286" gradientUnits="userSpaceOnUse" cx="151.7" cy="280.2" r="40"><stop offset="0" stop-color="#d0a0a0" stop-opacity="0.35380037353240246"/><stop offset="0.3" stop-color="#d0a0a0" stop-opacity="0.07014011205972073"/><stop offset="1" stop-color="#d0a0a0" stop-opacity="0.0"/></radialGradient><radialGradient id="g287" gradientUnits="userSpaceOnUse" cx="148.9" cy="282.9" r="40"><stop offset="0" stop-color="#d0a0a0" stop-opacity="0.6288306833532769"/><stop offset="0.3" stop-color="#d0a0a0" stop-opacity="0.15264920500598306"/><stop offset="1" stop-color="#d0a0a0" stop-opacity="0.0"/></radialGradient><radialGradient id="g288" gradientUnits="userSpaceOnUse" cx="145.5" cy="285.8" r="40"><stop offset="0" stop-color="#c0d090" stop-opacity="0.2729318024381183"/><stop offset="0.3" stop-color="#c0d090" stop-opacity="0.045879540731435506"/><stop offset="1" stop-color="#c0d090" stop-opacity="0.0"/></radialGradient><radialGradient id="g289" gradientUnits="userSpaceOnUse" cx="139.3" cy="290.2" r="40"><stop offset="0" stop-color="#d0a0a0" stop-opacity="0.12004387380022212"/><stop offset="0.3" stop-color="#d0a0a0" stop-opacity="1.316214006663625e-05"/><stop offset="1" stop-color="#d0a0a0" stop-opacity="0.0"/></radialGradient><radialGradient id="g290" gradientUnits="userSpaceOnUse" cx="132.5" cy="294" r="40"><stop offset="0" stop-color="#a0a0a0" stop-opacity="0.5140115935636751"/><stop offset="0.3" stop-color="#a0a0a0" stop-opacity="0.11820347806910253"/><stop offset="1" stop-color="#a0a0a0" stop-opacity="0.0"/></radialGradient><radialGradient id="g291" gradientUnits="userSpaceOnUse" cx="127.4" cy="296.2" r="40"><stop offset="0" stop-color="#b0a0c0" stop-opacity="0.61939848159712"/><stop offset="0.3" stop-color="#b0a0c0" stop-opacity="0.14981954447913598"/><stop offset="1" stop-color="#b0a0c0" stop-opacity="0.0"/></radialGradient><radialGradient id="g292" gradientUnits="userSpaceOnUse" cx="111.2" cy="300.3" r="40"><stop offset="0" stop-color="#90c090" stop-opacity="0.12153214603296464"/><stop offset="0.3" stop-color="#90c090" stop-opacity="0.00045964380988939375"/><stop offset="1" stop-color="#90c090" stop-opacity="0.0"/></radialGradient><radialGradient id="g293" gradientUnits="userSpaceOnUse" cx="106.5" cy="300.7" r="40"><stop offset="0" stop-color="#d0a0a0" stop-opacity="0.1990080654352243"/><stop offset="0.3" stop-color="#d0a0a0" stop-opacity="0.023702419630567295"/><stop offset="1" stop-color="#d0a0a0" stop-opacity="0.0"/></radialGradient><radialGradient id="g294" gradientUnits="userSpaceOnUse" cx="103.7" cy="300.8" r="40"><stop offset="0" stop-color="#b0a0c0" stop-opacity="0.15383550937707557"/><stop offset="0.3" stop-color="#b0a0c0" stop-opacity="0.010150652813122678"/><stop offset="1" stop-color="#b0a0c0" stop-opacity="0.0"/></radialGradient><radialGradient id="g295" gradientUnits="userSpaceOnUse" cx="97.3" cy="300.6" r="40"><stop offset="0" stop-color="#c0a050" stop-opacity="0.42175268620816836"/><stop offset="0.3" stop-color="#c0a050" stop-opacity="0.09052580586245051"/><stop offset="1" stop-color="#c0a050" stop-opacity="0.0"/></radialGradient><radialGradient id="g296" gradientUnits="userSpaceOnUse" cx="94.1" cy="300.3" r="40"><stop offset="0" stop-color="#9060a0" stop-opacity="0.5613699424039207"/><stop offset="0.3" stop-color="#9060a0" stop-opacity="0.1324109827211762"/><stop offset="1" stop-color="#9060a0" stop-opacity="0.0"/></radialGradient><radialGradient id="g297" gradientUnits="userSpaceOnUse" cx="88.5" cy="299.3" r="40"><stop offset="0" stop-color="#c06080" stop-opacity="0.389095267017718"/><stop offset="0.3" stop-color="#c06080" stop-opacity="0.0807285801053154"/><stop offset="1" stop-color="#c06080" stop-opacity="0.0"/></radialGradient><radialGradient id="g298" gradientUnits="userSpaceOnUse" cx="84.5" cy="298.3" r="40"><stop offset="0" stop-color="#b070b0" stop-opacity="0.4002594930081579"/><stop offset="0.3" stop-color="#b070b0" stop-opacity="0.08407784790244736"/><stop offset="1" stop-color="#b070b0" stop-opacity="0.0"/></radialGradient><radialGradient id="g299" gradientUnits="userSpaceOnUse" cx="76.9" cy="295.8" r="40"><stop offset="0" stop-color="#a0a0c0" stop-opacity="0.32939107825936453"/><stop offset="0.3" stop-color="#a0a0c0" stop-opacity="0.06281732347780936"/><stop offset="1" stop-color="#a0a0c0" stop-opacity="0.0"/></radialGradient><radialGradient id="g300" gradientUnits="userSpaceOnUse" cx="67.7" cy="291.2" r="40"><stop offset="0" stop-color="#c06080" stop-opacity="0.6777330977257048"/><stop offset="0.3" stop-color="#c06080" stop-opacity="0.16731992931771145"/><stop offset="1" stop-color="#c06080" stop-opacity="0.0"/></radialGradient><radialGradient id="g301" gradientUnits="userSpaceOnUse" cx="65.4" cy="289.8" r="40"><stop offset="0" stop-color="#c08090" stop-opacity="0.72"/><stop offset="0.3" stop-color="#c08090" stop-opacity="0.18"/><stop offset="1" stop-color="#c08090" stop-opacity="0.0"/></radialGradient><radialGradient id="g302" gradientUnits="userSpaceOnUse" cx="56.2" cy="282.6" r="40"><stop offset="0" stop-color="#8070b0" stop-opacity="0.4417500076896303"/><stop offset="0.3" stop-color="#8070b0" stop-opacity="0.0965250023068891"/><stop offset="1" stop-color="#8070b0" stop-opacity="0.0"/></radialGradient><radialGradient id="g303" gradientUnits="userSpaceOnUse" cx="49.1" cy="275.1" r="40"><stop offset="0" stop-color="#b070b0" stop-opacity="0.41505908289034427"/><stop offset="0.3" stop-color="#b070b0" stop-opacity="0.08851772486710327"/><stop offset="1" stop-color="#b070b0" stop-opacity="0.0"/></radialGradient><radialGradient id="g304" gradientUnits="userSpaceOnUse" cx="47.3" cy="272.7" r="40"><stop offset="0" stop-color="#d07090" stop-opacity="0.6341793700760238"/><stop offset="0.3" stop-color="#d07090" stop-opacity="0.15425381102280714"/><stop offset="1" stop-color="#d07090" stop-opacity="0.0"/></radialGradient><radialGradient id="g305" gradientUnits="userSpaceOnUse" cx="43.4" cy="266.7" r="40"><stop offset="0" stop-color="#a0a0c0" stop-opacity="0.43968125653630147"/><stop offset="0.3" stop-color="#a0a0c0" stop-opacity="0.09590437696089045"/><stop offset="1" stop-color="#a0a0c0" stop-opacity="0.0"/></radialGradient><radialGradient id="g306" gradientUnits="userSpaceOnUse" cx="42.3" cy="264.7" r="40"><stop offset="0" stop-color="#8070b0" stop-opacity="0.72"/><stop offset="0.3" stop-color="#8070b0" stop-opacity="0.18"/><stop offset="1" stop-color="#8070b0" stop-opacity="0.0"/></radialGradient><radialGradient id="g307" gradientUnits="userSpaceOnUse" cx="39.4" cy="258.7" r="40"><stop offset="0" stop-color="#9060a0" stop-opacity="0.5946464970374128"/><stop offset="0.3" stop-color="#9060a0" stop-opacity="0.14239394911122383"/><stop offset="1" stop-color="#9060a0" stop-opacity="0.0"/></radialGradient><radialGradient id="g308" gradientUnits="userSpaceOnUse" cx="38" cy="254.9" r="40"><stop offset="0" stop-color="#c06080" stop-opacity="0.72"/><stop offset="0.3" stop-color="#c06080" stop-opacity="0.18"/><stop offset="1" stop-color="#c06080" stop-opacity="0.0"/></radialGradient><radialGradient id="g309" gradientUnits="userSpaceOnUse" cx="36.5" cy="250" r="40"><stop offset="0" stop-color="#e090b0" stop-opacity="0.72"/><stop offset="0.3" stop-color="#e090b0" stop-opacity="0.18"/><stop offset="1" stop-color="#e090b0" stop-opacity="0.0"/></radialGradient><radialGradient id="g310" gradientUnits="userSpaceOnUse" cx="35.5" cy="245.8" r="40"><stop offset="0" stop-color="#c08090" stop-opacity="0.3857724125702704"/><stop offset="0.3" stop-color="#c08090" stop-opacity="0.07973172377108112"/><stop offset="1" stop-color="#c08090" stop-opacity="0.0"/></radialGradient><radialGradient id="g311" gradientUnits="userSpaceOnUse" cx="34.1" cy="234.4" r="40"><stop offset="0" stop-color="#907868" stop-opacity="0.72"/><stop offset="0.3" stop-color="#907868" stop-opacity="0.18"/><stop offset="1" stop-color="#907868" stop-opacity="0.0"/></radialGradient><radialGradient id="g312" gradientUnits="userSpaceOnUse" cx="34.2" cy="228" r="40"><stop offset="0" stop-color="#7a7a7a" stop-opacity="0.6186660748505896"/><stop offset="0.3" stop-color="#7a7a7a" stop-opacity="0.14959982245517686"/><stop offset="1" stop-color="#7a7a7a" stop-opacity="0.0"/></radialGradient><radialGradient id="g313" gradientUnits="userSpaceOnUse" cx="34.7" cy="223.2" r="40"><stop offset="0" stop-color="#8a7a70" stop-opacity="0.5292270685705134"/><stop offset="0.3" stop-color="#8a7a70" stop-opacity="0.122768120571154"/><stop offset="1" stop-color="#8a7a70" stop-opacity="0.0"/></radialGradient><radialGradient id="g314" gradientUnits="userSpaceOnUse" cx="35" cy="221.3" r="40"><stop offset="0" stop-color="#807060" stop-opacity="0.5011890057849043"/><stop offset="0.3" stop-color="#807060" stop-opacity="0.1143567017354713"/><stop offset="1" stop-color="#807060" stop-opacity="0.0"/></radialGradient><radialGradient id="g315" gradientUnits="userSpaceOnUse" cx="36.6" cy="214" r="40"><stop offset="0" stop-color="#888888" stop-opacity="0.7130576996596654"/><stop offset="0.3" stop-color="#888888" stop-opacity="0.1779173098978996"/><stop offset="1" stop-color="#888888" stop-opacity="0.0"/></radialGradient><radialGradient id="g316" gradientUnits="userSpaceOnUse" cx="37.9" cy="209.7" r="40"><stop offset="0" stop-color="#907868" stop-opacity="0.72"/><stop offset="0.3" stop-color="#907868" stop-opacity="0.18"/><stop offset="1" stop-color="#907868" stop-opacity="0.0"/></radialGradient><radialGradient id="g317" gradientUnits="userSpaceOnUse" cx="41.4" cy="201.4" r="40"><stop offset="0" stop-color="#807060" stop-opacity="0.4751758834255695"/><stop offset="0.3" stop-color="#807060" stop-opacity="0.10655276502767085"/><stop offset="1" stop-color="#807060" stop-opacity="0.0"/></radialGradient><radialGradient id="g318" gradientUnits="userSpaceOnUse" cx="43.4" cy="197.6" r="40"><stop offset="0" stop-color="#a08878" stop-opacity="0.72"/><stop offset="0.3" stop-color="#a08878" stop-opacity="0.18"/><stop offset="1" stop-color="#a08878" stop-opacity="0.0"/></radialGradient><radialGradient id="g319" gradientUnits="userSpaceOnUse" cx="47.5" cy="191.5" r="40"><stop offset="0" stop-color="#7a7a7a" stop-opacity="0.72"/><stop offset="0.3" stop-color="#7a7a7a" stop-opacity="0.18"/><stop offset="1" stop-color="#7a7a7a" stop-opacity="0.0"/></radialGradient><radialGradient id="g320" gradientUnits="userSpaceOnUse" cx="50.3" cy="187.9" r="40"><stop offset="0" stop-color="#706860" stop-opacity="0.5008921232528596"/><stop offset="0.3" stop-color="#706860" stop-opacity="0.1142676369758579"/><stop offset="1" stop-color="#706860" stop-opacity="0.0"/></radialGradient><radialGradient id="g321" gradientUnits="userSpaceOnUse" cx="53.3" cy="184.6" r="40"><stop offset="0" stop-color="#706860" stop-opacity="0.72"/><stop offset="0.3" stop-color="#706860" stop-opacity="0.18"/><stop offset="1" stop-color="#706860" stop-opacity="0.0"/></radialGradient><radialGradient id="g322" gradientUnits="userSpaceOnUse" cx="56.8" cy="181.3" r="40"><stop offset="0" stop-color="#907868" stop-opacity="0.72"/><stop offset="0.3" stop-color="#907868" stop-opacity="0.18"/><stop offset="1" stop-color="#907868" stop-opacity="0.0"/></radialGradient><radialGradient id="g323" gradientUnits="userSpaceOnUse" cx="64.6" cy="175.1" r="40"><stop offset="0" stop-color="#706860" stop-opacity="0.72"/><stop offset="0.3" stop-color="#706860" stop-opacity="0.18"/><stop offset="1" stop-color="#706860" stop-opacity="0.0"/></radialGradient><radialGradient id="g324" gradientUnits="userSpaceOnUse" cx="69.6" cy="172.1" r="40"><stop offset="0" stop-color="#7a7a7a" stop-opacity="0.5507868968421381"/><stop offset="0.3" stop-color="#7a7a7a" stop-opacity="0.1292360690526414"/><stop offset="1" stop-color="#7a7a7a" stop-opacity="0.0"/></radialGradient><radialGradient id="g325" gradientUnits="userSpaceOnUse" cx="74.7" cy="169.6" r="40"><stop offset="0" stop-color="#907868" stop-opacity="0.680802852786797"/><stop offset="0.3" stop-color="#907868" stop-opacity="0.1682408558360391"/><stop offset="1" stop-color="#907868" stop-opacity="0.0"/></radialGradient><radialGradient id="g326" gradientUnits="userSpaceOnUse" cx="81.3" cy="167" r="40"><stop offset="0" stop-color="#a0b0c0" stop-opacity="0.292103807449791"/><stop offset="0.3" stop-color="#a0b0c0" stop-opacity="0.05163114223493729"/><stop offset="1" stop-color="#a0b0c0" stop-opacity="0.0"/></radialGradient><radialGradient id="g327" gradientUnits="userSpaceOnUse" cx="86.9" cy="165.4" r="40"><stop offset="0" stop-color="#d0a0a0" stop-opacity="0.69807834960838"/><stop offset="0.3" stop-color="#d0a0a0" stop-opacity="0.173423504882514"/><stop offset="1" stop-color="#d0a0a0" stop-opacity="0.0"/></radialGradient><radialGradient id="g328" gradientUnits="userSpaceOnUse" cx="93.7" cy="164.2" r="40"><stop offset="0" stop-color="#c0a0a0" stop-opacity="0.4056532289267426"/><stop offset="0.3" stop-color="#c0a0a0" stop-opacity="0.08569596867802277"/><stop offset="1" stop-color="#c0a0a0" stop-opacity="0.0"/></radialGradient><radialGradient id="g329" gradientUnits="userSpaceOnUse" cx="99" cy="163.7" r="40"><stop offset="0" stop-color="#d0a0a0" stop-opacity="0.13169083565031256"/><stop offset="0.3" stop-color="#d0a0a0" stop-opacity="0.003507250695093772"/><stop offset="1" stop-color="#d0a0a0" stop-opacity="0.0"/></radialGradient><radialGradient id="g330" gradientUnits="userSpaceOnUse" cx="89.7" cy="164.8" r="137.2"><stop offset="0" stop-color="#f01010" stop-opacity="0.7224999999999999"/><stop offset="0.15" stop-color="#f01010" stop-opacity="0.124"/><stop offset="1" stop-color="#f01010" stop-opacity="0.05"/></radialGradient><radialGradient id="g331" gradientUnits="userSpaceOnUse" cx="166.5" cy="206.9" r="137.2"><stop offset="0" stop-color="#1f8a1f" stop-opacity="0.8075"/><stop offset="0.15" stop-color="#1f8a1f" stop-opacity="0.1488"/><stop offset="1" stop-color="#1f8a1f" stop-opacity="0.04"/></radialGradient><radialGradient id="g332" gradientUnits="userSpaceOnUse" cx="162.9" cy="199.4" r="137.2"><stop offset="0" stop-color="#f06060" stop-opacity="0.68"/><stop offset="0.15" stop-color="#f06060" stop-opacity="0.124"/><stop offset="1" stop-color="#f06060" stop-opacity="0.03"/></radialGradient><radialGradient id="g333" gradientUnits="userSpaceOnUse" cx="129.1" cy="168.9" r="137.2"><stop offset="0" stop-color="#60d060" stop-opacity="0.68"/><stop offset="0.15" stop-color="#60d060" stop-opacity="0.124"/><stop offset="1" stop-color="#60d060" stop-opacity="0.025"/></radialGradient><radialGradient id="g334" gradientUnits="userSpaceOnUse" cx="116.4" cy="165" r="137.2"><stop offset="0" stop-color="#806060" stop-opacity="0.595"/><stop offset="0.15" stop-color="#806060" stop-opacity="0.124"/><stop offset="1" stop-color="#806060" stop-opacity="0.025"/></radialGradient><radialGradient id="g335" gradientUnits="userSpaceOnUse" cx="170.7" cy="241" r="137.2"><stop offset="0" stop-color="#60d0d0" stop-opacity="0.595"/><stop offset="0.15" stop-color="#60d0d0" stop-opacity="0.124"/><stop offset="1" stop-color="#60d0d0" stop-opacity="0.025"/></radialGradient><radialGradient id="g336" gradientUnits="userSpaceOnUse" cx="171.3" cy="234.6" r="137.2"><stop offset="0" stop-color="#e0e060" stop-opacity="0.595"/><stop offset="0.15" stop-color="#e0e060" stop-opacity="0.124"/><stop offset="1" stop-color="#e0e060" stop-opacity="0.025"/></radialGradient><radialGradient id="g337" gradientUnits="userSpaceOnUse" cx="45.9" cy="193.7" r="137.2"><stop offset="0" stop-color="#a07050" stop-opacity="0.68"/><stop offset="0.15" stop-color="#a07050" stop-opacity="0.124"/><stop offset="1" stop-color="#a07050" stop-opacity="0.04"/></radialGradient><radialGradient id="g338" gradientUnits="userSpaceOnUse" cx="58.6" cy="179.6" r="137.2"><stop offset="0" stop-color="#606060" stop-opacity="0.595"/><stop offset="0.15" stop-color="#606060" stop-opacity="0.124"/><stop offset="1" stop-color="#606060" stop-opacity="0.025"/></radialGradient><radialGradient id="g339" gradientUnits="userSpaceOnUse" cx="79" cy="167.8" r="137.2"><stop offset="0" stop-color="#909090" stop-opacity="0.595"/><stop offset="0.15" stop-color="#909090" stop-opacity="0.124"/><stop offset="1" stop-color="#909090" stop-opacity="0.025"/></radialGradient><radialGradient id="g340" gradientUnits="userSpaceOnUse" cx="39.1" cy="206.4" r="137.2"><stop offset="0" stop-color="#50a050" stop-opacity="0.595"/><stop offset="0.15" stop-color="#50a050" stop-opacity="0.124"/><stop offset="1" stop-color="#50a050" stop-opacity="0.025"/></radialGradient><radialGradient id="g341" gradientUnits="userSpaceOnUse" cx="34.4" cy="238.1" r="137.2"><stop offset="0" stop-color="#4aa84a" stop-opacity="0.7224999999999999"/><stop offset="0.15" stop-color="#4aa84a" stop-opacity="0.1364"/><stop offset="1" stop-color="#4aa84a" stop-opacity="0.04"/></radialGradient><radialGradient id="g342" gradientUnits="userSpaceOnUse" cx="51.6" cy="277.9" r="137.2"><stop offset="0" stop-color="#9040a0" stop-opacity="0.68"/><stop offset="0.15" stop-color="#9040a0" stop-opacity="0.124"/><stop offset="1" stop-color="#9040a0" stop-opacity="0.04"/></radialGradient><radialGradient id="g343" gradientUnits="userSpaceOnUse" cx="74.1" cy="294.6" r="137.2"><stop offset="0" stop-color="#e04040" stop-opacity="0.595"/><stop offset="0.15" stop-color="#e04040" stop-opacity="0.124"/><stop offset="1" stop-color="#e04040" stop-opacity="0.025"/></radialGradient><radialGradient id="g344" gradientUnits="userSpaceOnUse" cx="59.3" cy="285.4" r="137.2"><stop offset="0" stop-color="#60c060" stop-opacity="0.595"/><stop offset="0.15" stop-color="#60c060" stop-opacity="0.124"/><stop offset="1" stop-color="#60c060" stop-opacity="0.025"/></radialGradient><radialGradient id="g345" gradientUnits="userSpaceOnUse" cx="161.8" cy="267" r="137.2"><stop offset="0" stop-color="#30d8d8" stop-opacity="0.765"/><stop offset="0.15" stop-color="#30d8d8" stop-opacity="0.155"/><stop offset="1" stop-color="#30d8d8" stop-opacity="0.04"/></radialGradient><radialGradient id="g346" gradientUnits="userSpaceOnUse" cx="155.4" cy="276.1" r="137.2"><stop offset="0" stop-color="#8a3a9a" stop-opacity="0.765"/><stop offset="0.15" stop-color="#8a3a9a" stop-opacity="0.1364"/><stop offset="1" stop-color="#8a3a9a" stop-opacity="0.04"/></radialGradient><radialGradient id="g347" gradientUnits="userSpaceOnUse" cx="137.1" cy="291.5" r="137.2"><stop offset="0" stop-color="#707070" stop-opacity="0.68"/><stop offset="0.15" stop-color="#707070" stop-opacity="0.124"/><stop offset="1" stop-color="#707070" stop-opacity="0.03"/></radialGradient><radialGradient id="g348" gradientUnits="userSpaceOnUse" cx="124.6" cy="297.2" r="137.2"><stop offset="0" stop-color="#6050c0" stop-opacity="0.7224999999999999"/><stop offset="0.15" stop-color="#6050c0" stop-opacity="0.124"/><stop offset="1" stop-color="#6050c0" stop-opacity="0.03"/></radialGradient><radialGradient id="g349" gradientUnits="userSpaceOnUse" cx="117" cy="299.3" r="137.2"><stop offset="0" stop-color="#b02828" stop-opacity="0.7224999999999999"/><stop offset="0.15" stop-color="#b02828" stop-opacity="0.1364"/><stop offset="1" stop-color="#b02828" stop-opacity="0.04"/></radialGradient><radialGradient id="g350" gradientUnits="userSpaceOnUse" cx="281.6" cy="163.1" r="40"><stop offset="0" stop-color="#a0b0c0" stop-opacity="0.3558510448826413"/><stop offset="0.3" stop-color="#a0b0c0" stop-opacity="0.07075531346479239"/><stop offset="1" stop-color="#a0b0c0" stop-opacity="0.0"/></radialGradient><radialGradient id="g351" gradientUnits="userSpaceOnUse" cx="292.8" cy="164.1" r="40"><stop offset="0" stop-color="#c0c0c0" stop-opacity="0.12238963183696917"/><stop offset="0.3" stop-color="#c0c0c0" stop-opacity="0.0007168895510907517"/><stop offset="1" stop-color="#c0c0c0" stop-opacity="0.0"/></radialGradient><radialGradient id="g352" gradientUnits="userSpaceOnUse" cx="304.9" cy="167.3" r="40"><stop offset="0" stop-color="#c0c060" stop-opacity="0.2915340819847103"/><stop offset="0.3" stop-color="#c0c060" stop-opacity="0.05146022459541309"/><stop offset="1" stop-color="#c0c060" stop-opacity="0.0"/></radialGradient><radialGradient id="g353" gradientUnits="userSpaceOnUse" cx="311.6" cy="170.2" r="40"><stop offset="0" stop-color="#c0c060" stop-opacity="0.21372841527165543"/><stop offset="0.3" stop-color="#c0c060" stop-opacity="0.02811852458149663"/><stop offset="1" stop-color="#c0c060" stop-opacity="0.0"/></radialGradient><radialGradient id="g354" gradientUnits="userSpaceOnUse" cx="314.4" cy="171.7" r="40"><stop offset="0" stop-color="#c0b0e0" stop-opacity="0.47663352144768684"/><stop offset="0.3" stop-color="#c0b0e0" stop-opacity="0.10699005643430606"/><stop offset="1" stop-color="#c0b0e0" stop-opacity="0.0"/></radialGradient><radialGradient id="g355" gradientUnits="userSpaceOnUse" cx="323.3" cy="177.5" r="40"><stop offset="0" stop-color="#a0d0d0" stop-opacity="0.31108108163058656"/><stop offset="0.3" stop-color="#a0d0d0" stop-opacity="0.05732432448917596"/><stop offset="1" stop-color="#a0d0d0" stop-opacity="0.0"/></radialGradient><radialGradient id="g356" gradientUnits="userSpaceOnUse" cx="326.3" cy="180" r="40"><stop offset="0" stop-color="#d0d080" stop-opacity="0.19800525612999348"/><stop offset="0.3" stop-color="#d0d080" stop-opacity="0.023401576838998038"/><stop offset="1" stop-color="#d0d080" stop-opacity="0.0"/></radialGradient><radialGradient id="g357" gradientUnits="userSpaceOnUse" cx="329.9" cy="183.4" r="40"><stop offset="0" stop-color="#b090d0" stop-opacity="0.5153879268845503"/><stop offset="0.3" stop-color="#b090d0" stop-opacity="0.11861637806536508"/><stop offset="1" stop-color="#b090d0" stop-opacity="0.0"/></radialGradient><radialGradient id="g358" gradientUnits="userSpaceOnUse" cx="337.7" cy="192.9" r="40"><stop offset="0" stop-color="#c0d0c0" stop-opacity="0.2410152949907828"/><stop offset="0.3" stop-color="#c0d0c0" stop-opacity="0.03630458849723484"/><stop offset="1" stop-color="#c0d0c0" stop-opacity="0.0"/></radialGradient><radialGradient id="g359" gradientUnits="userSpaceOnUse" cx="342.7" cy="201.3" r="40"><stop offset="0" stop-color="#f0b0d0" stop-opacity="0.12004401513121973"/><stop offset="0.3" stop-color="#f0b0d0" stop-opacity="1.3204539365923067e-05"/><stop offset="1" stop-color="#f0b0d0" stop-opacity="0.0"/></radialGradient><radialGradient id="g360" gradientUnits="userSpaceOnUse" cx="344.5" cy="205.3" r="40"><stop offset="0" stop-color="#c0d0c0" stop-opacity="0.21891343219723286"/><stop offset="0.3" stop-color="#c0d0c0" stop-opacity="0.02967402965916986"/><stop offset="1" stop-color="#c0d0c0" stop-opacity="0.0"/></radialGradient><radialGradient id="g361" gradientUnits="userSpaceOnUse" cx="345.7" cy="208.3" r="40"><stop offset="0" stop-color="#e0a0c0" stop-opacity="0.12000000017298088"/><stop offset="0.3" stop-color="#e0a0c0" stop-opacity="5.1894263960415725e-11"/><stop offset="1" stop-color="#e0a0c0" stop-opacity="0.0"/></radialGradient><radialGradient id="g362" gradientUnits="userSpaceOnUse" cx="349.8" cy="230.8" r="40"><stop offset="0" stop-color="#f0b0d0" stop-opacity="0.2197884856355236"/><stop offset="0.3" stop-color="#f0b0d0" stop-opacity="0.029936545690657082"/><stop offset="1" stop-color="#f0b0d0" stop-opacity="0.0"/></radialGradient><radialGradient id="g363" gradientUnits="userSpaceOnUse" cx="349.7" cy="235.5" r="40"><stop offset="0" stop-color="#e0c0a0" stop-opacity="0.16416825308897387"/><stop offset="0.3" stop-color="#e0c0a0" stop-opacity="0.013250475926692158"/><stop offset="1" stop-color="#e0c0a0" stop-opacity="0.0"/></radialGradient><radialGradient id="g364" gradientUnits="userSpaceOnUse" cx="349.5" cy="238.5" r="40"><stop offset="0" stop-color="#f0b0d0" stop-opacity="0.1204496311714518"/><stop offset="0.3" stop-color="#f0b0d0" stop-opacity="0.00013488935143554168"/><stop offset="1" stop-color="#f0b0d0" stop-opacity="0.0"/></radialGradient><radialGradient id="g365" gradientUnits="userSpaceOnUse" cx="348.6" cy="244.3" r="40"><stop offset="0" stop-color="#f0b0d0" stop-opacity="0.2141761863545837"/><stop offset="0.3" stop-color="#f0b0d0" stop-opacity="0.02825285590637511"/><stop offset="1" stop-color="#f0b0d0" stop-opacity="0.0"/></radialGradient><radialGradient id="g366" gradientUnits="userSpaceOnUse" cx="347.8" cy="247.9" r="40"><stop offset="0" stop-color="#f0b0d0" stop-opacity="0.6717715353738892"/><stop offset="0.3" stop-color="#f0b0d0" stop-opacity="0.16553146061216675"/><stop offset="1" stop-color="#f0b0d0" stop-opacity="0.0"/></radialGradient><radialGradient id="g367" gradientUnits="userSpaceOnUse" cx="343.8" cy="259.8" r="40"><stop offset="0" stop-color="#a0a0a0" stop-opacity="0.1486875409689377"/><stop offset="0.3" stop-color="#a0a0a0" stop-opacity="0.008606262290681307"/><stop offset="1" stop-color="#a0a0a0" stop-opacity="0.0"/></radialGradient><radialGradient id="g368" gradientUnits="userSpaceOnUse" cx="343" cy="261.5" r="40"><stop offset="0" stop-color="#c0d090" stop-opacity="0.1583253723917064"/><stop offset="0.3" stop-color="#c0d090" stop-opacity="0.011497611717511921"/><stop offset="1" stop-color="#c0d090" stop-opacity="0.0"/></radialGradient><radialGradient id="g369" gradientUnits="userSpaceOnUse" cx="340.4" cy="266.4" r="40"><stop offset="0" stop-color="#e090a0" stop-opacity="0.19661748633447423"/><stop offset="0.3" stop-color="#e090a0" stop-opacity="0.022985245900342278"/><stop offset="1" stop-color="#e090a0" stop-opacity="0.0"/></radialGradient><radialGradient id="g370" gradientUnits="userSpaceOnUse" cx="334.3" cy="275.1" r="40"><stop offset="0" stop-color="#b0a0c0" stop-opacity="0.12989544558032468"/><stop offset="0.3" stop-color="#b0a0c0" stop-opacity="0.002968633674097408"/><stop offset="1" stop-color="#b0a0c0" stop-opacity="0.0"/></radialGradient><radialGradient id="g371" gradientUnits="userSpaceOnUse" cx="330.4" cy="279.5" r="40"><stop offset="0" stop-color="#b0a0c0" stop-opacity="0.12546688429420563"/><stop offset="0.3" stop-color="#b0a0c0" stop-opacity="0.0016400652882616875"/><stop offset="1" stop-color="#b0a0c0" stop-opacity="0.0"/></radialGradient><radialGradient id="g372" gradientUnits="userSpaceOnUse" cx="326.5" cy="283.2" r="40"><stop offset="0" stop-color="#a0a0a0" stop-opacity="0.16146132491194315"/><stop offset="0.3" stop-color="#a0a0a0" stop-opacity="0.012438397473582942"/><stop offset="1" stop-color="#a0a0a0" stop-opacity="0.0"/></radialGradient><radialGradient id="g373" gradientUnits="userSpaceOnUse" cx="319.5" cy="288.6" r="40"><stop offset="0" stop-color="#a0a0a0" stop-opacity="0.3085071889099644"/><stop offset="0.3" stop-color="#a0a0a0" stop-opacity="0.05655215667298934"/><stop offset="1" stop-color="#a0a0a0" stop-opacity="0.0"/></radialGradient><radialGradient id="g374" gradientUnits="userSpaceOnUse" cx="310.9" cy="293.5" r="40"><stop offset="0" stop-color="#c0d090" stop-opacity="0.12444778611002937"/><stop offset="0.3" stop-color="#c0d090" stop-opacity="0.0013343358330088122"/><stop offset="1" stop-color="#c0d090" stop-opacity="0.0"/></radialGradient><radialGradient id="g375" gradientUnits="userSpaceOnUse" cx="302.1" cy="297" r="40"><stop offset="0" stop-color="#a0a0a0" stop-opacity="0.2980271900584788"/><stop offset="0.3" stop-color="#a0a0a0" stop-opacity="0.053408157017543624"/><stop offset="1" stop-color="#a0a0a0" stop-opacity="0.0"/></radialGradient><radialGradient id="g376" gradientUnits="userSpaceOnUse" cx="294.4" cy="299" r="40"><stop offset="0" stop-color="#90c090" stop-opacity="0.2313580688168248"/><stop offset="0.3" stop-color="#90c090" stop-opacity="0.03340742064504744"/><stop offset="1" stop-color="#90c090" stop-opacity="0.0"/></radialGradient><radialGradient id="g377" gradientUnits="userSpaceOnUse" cx="289.6" cy="299.8" r="40"><stop offset="0" stop-color="#a0a0a0" stop-opacity="0.3024595747047275"/><stop offset="0.3" stop-color="#a0a0a0" stop-opacity="0.054737872411418254"/><stop offset="1" stop-color="#a0a0a0" stop-opacity="0.0"/></radialGradient><radialGradient id="g378" gradientUnits="userSpaceOnUse" cx="285" cy="300.2" r="40"><stop offset="0" stop-color="#90c090" stop-opacity="0.1297221514243621"/><stop offset="0.3" stop-color="#90c090" stop-opacity="0.002916645427308634"/><stop offset="1" stop-color="#90c090" stop-opacity="0.0"/></radialGradient><radialGradient id="g379" gradientUnits="userSpaceOnUse" cx="281" cy="300.3" r="40"><stop offset="0" stop-color="#90b060" stop-opacity="0.4961213182843581"/><stop offset="0.3" stop-color="#90b060" stop-opacity="0.11283639548530744"/><stop offset="1" stop-color="#90b060" stop-opacity="0.0"/></radialGradient><radialGradient id="g380" gradientUnits="userSpaceOnUse" cx="276.7" cy="300.2" r="40"><stop offset="0" stop-color="#8a6a5a" stop-opacity="0.2185405934772049"/><stop offset="0.3" stop-color="#8a6a5a" stop-opacity="0.02956217804316147"/><stop offset="1" stop-color="#8a6a5a" stop-opacity="0.0"/></radialGradient><radialGradient id="g381" gradientUnits="userSpaceOnUse" cx="265.6" cy="298.5" r="40"><stop offset="0" stop-color="#d07090" stop-opacity="0.3362185675293024"/><stop offset="0.3" stop-color="#d07090" stop-opacity="0.06486557025879072"/><stop offset="1" stop-color="#d07090" stop-opacity="0.0"/></radialGradient><radialGradient id="g382" gradientUnits="userSpaceOnUse" cx="262.8" cy="297.8" r="40"><stop offset="0" stop-color="#d07090" stop-opacity="0.368909450236107"/><stop offset="0.3" stop-color="#d07090" stop-opacity="0.0746728350708321"/><stop offset="1" stop-color="#d07090" stop-opacity="0.0"/></radialGradient><radialGradient id="g383" gradientUnits="userSpaceOnUse" cx="250.7" cy="293.1" r="40"><stop offset="0" stop-color="#c08090" stop-opacity="0.5738746409306852"/><stop offset="0.3" stop-color="#c08090" stop-opacity="0.13616239227920557"/><stop offset="1" stop-color="#c08090" stop-opacity="0.0"/></radialGradient><radialGradient id="g384" gradientUnits="userSpaceOnUse" cx="247.6" cy="291.5" r="40"><stop offset="0" stop-color="#d05070" stop-opacity="0.485082165591188"/><stop offset="0.3" stop-color="#d05070" stop-opacity="0.1095246496773564"/><stop offset="1" stop-color="#d05070" stop-opacity="0.0"/></radialGradient><radialGradient id="g385" gradientUnits="userSpaceOnUse" cx="244.1" cy="289.4" r="40"><stop offset="0" stop-color="#e090b0" stop-opacity="0.4084759478451714"/><stop offset="0.3" stop-color="#e090b0" stop-opacity="0.08654278435355141"/><stop offset="1" stop-color="#e090b0" stop-opacity="0.0"/></radialGradient><radialGradient id="g386" gradientUnits="userSpaceOnUse" cx="240.4" cy="286.8" r="40"><stop offset="0" stop-color="#c08090" stop-opacity="0.7015188242949146"/><stop offset="0.3" stop-color="#c08090" stop-opacity="0.17445564728847437"/><stop offset="1" stop-color="#c08090" stop-opacity="0.0"/></radialGradient><radialGradient id="g387" gradientUnits="userSpaceOnUse" cx="234.5" cy="281.9" r="40"><stop offset="0" stop-color="#c06080" stop-opacity="0.45993003381458303"/><stop offset="0.3" stop-color="#c06080" stop-opacity="0.10197901014437491"/><stop offset="1" stop-color="#c06080" stop-opacity="0.0"/></radialGradient><radialGradient id="g388" gradientUnits="userSpaceOnUse" cx="232" cy="279.5" r="40"><stop offset="0" stop-color="#b070b0" stop-opacity="0.6410324566191474"/><stop offset="0.3" stop-color="#b070b0" stop-opacity="0.1563097369857442"/><stop offset="1" stop-color="#b070b0" stop-opacity="0.0"/></radialGradient><radialGradient id="g389" gradientUnits="userSpaceOnUse" cx="229.1" cy="276.4" r="40"><stop offset="0" stop-color="#d05070" stop-opacity="0.4604763729503247"/><stop offset="0.3" stop-color="#d05070" stop-opacity="0.1021429118850974"/><stop offset="1" stop-color="#d05070" stop-opacity="0.0"/></radialGradient><radialGradient id="g390" gradientUnits="userSpaceOnUse" cx="225.2" cy="271.3" r="40"><stop offset="0" stop-color="#9060a0" stop-opacity="0.3424538822580018"/><stop offset="0.3" stop-color="#9060a0" stop-opacity="0.06673616467740053"/><stop offset="1" stop-color="#9060a0" stop-opacity="0.0"/></radialGradient><radialGradient id="g391" gradientUnits="userSpaceOnUse" cx="222.9" cy="267.9" r="40"><stop offset="0" stop-color="#d05070" stop-opacity="0.3381689331643012"/><stop offset="0.3" stop-color="#d05070" stop-opacity="0.06545067994929035"/><stop offset="1" stop-color="#d05070" stop-opacity="0.0"/></radialGradient><radialGradient id="g392" gradientUnits="userSpaceOnUse" cx="220.9" cy="264.4" r="40"><stop offset="0" stop-color="#c08090" stop-opacity="0.3368981504124854"/><stop offset="0.3" stop-color="#c08090" stop-opacity="0.06506944512374561"/><stop offset="1" stop-color="#c08090" stop-opacity="0.0"/></radialGradient><radialGradient id="g393" gradientUnits="userSpaceOnUse" cx="218.3" cy="259.2" r="40"><stop offset="0" stop-color="#b070b0" stop-opacity="0.5753226274446104"/><stop offset="0.3" stop-color="#b070b0" stop-opacity="0.13659678823338312"/><stop offset="1" stop-color="#b070b0" stop-opacity="0.0"/></radialGradient><radialGradient id="g394" gradientUnits="userSpaceOnUse" cx="216.1" cy="253.4" r="40"><stop offset="0" stop-color="#a0a0c0" stop-opacity="0.36410155214124995"/><stop offset="0.3" stop-color="#a0a0c0" stop-opacity="0.07323046564237498"/><stop offset="1" stop-color="#a0a0c0" stop-opacity="0.0"/></radialGradient><radialGradient id="g395" gradientUnits="userSpaceOnUse" cx="214.4" cy="247.3" r="40"><stop offset="0" stop-color="#9060a0" stop-opacity="0.43717211826452934"/><stop offset="0.3" stop-color="#9060a0" stop-opacity="0.0951516354793588"/><stop offset="1" stop-color="#9060a0" stop-opacity="0.0"/></radialGradient><radialGradient id="g396" gradientUnits="userSpaceOnUse" cx="213.2" cy="240.7" r="40"><stop offset="0" stop-color="#d05070" stop-opacity="0.3439878351161866"/><stop offset="0.3" stop-color="#d05070" stop-opacity="0.06719635053485597"/><stop offset="1" stop-color="#d05070" stop-opacity="0.0"/></radialGradient><radialGradient id="g397" gradientUnits="userSpaceOnUse" cx="212.6" cy="230.9" r="40"><stop offset="0" stop-color="#c08080" stop-opacity="0.6131197606889404"/><stop offset="0.3" stop-color="#c08080" stop-opacity="0.1479359282066821"/><stop offset="1" stop-color="#c08080" stop-opacity="0.0"/></radialGradient><radialGradient id="g398" gradientUnits="userSpaceOnUse" cx="213.1" cy="223" r="40"><stop offset="0" stop-color="#907868" stop-opacity="0.5412143069973063"/><stop offset="0.3" stop-color="#907868" stop-opacity="0.1263642920991919"/><stop offset="1" stop-color="#907868" stop-opacity="0.0"/></radialGradient><radialGradient id="g399" gradientUnits="userSpaceOnUse" cx="213.8" cy="218.7" r="40"><stop offset="0" stop-color="#888888" stop-opacity="0.72"/><stop offset="0.3" stop-color="#888888" stop-opacity="0.18"/><stop offset="1" stop-color="#888888" stop-opacity="0.0"/></radialGradient><radialGradient id="g400" gradientUnits="userSpaceOnUse" cx="214.4" cy="215.9" r="40"><stop offset="0" stop-color="#807060" stop-opacity="0.4863865106815884"/><stop offset="0.3" stop-color="#807060" stop-opacity="0.10991595320447652"/><stop offset="1" stop-color="#807060" stop-opacity="0.0"/></radialGradient><radialGradient id="g401" gradientUnits="userSpaceOnUse" cx="216.6" cy="208.5" r="40"><stop offset="0" stop-color="#c08080" stop-opacity="0.72"/><stop offset="0.3" stop-color="#c08080" stop-opacity="0.18"/><stop offset="1" stop-color="#c08080" stop-opacity="0.0"/></radialGradient><radialGradient id="g402" gradientUnits="userSpaceOnUse" cx="223.1" cy="195.3" r="40"><stop offset="0" stop-color="#888888" stop-opacity="0.72"/><stop offset="0.3" stop-color="#888888" stop-opacity="0.18"/><stop offset="1" stop-color="#888888" stop-opacity="0.0"/></radialGradient><radialGradient id="g403" gradientUnits="userSpaceOnUse" cx="229.1" cy="187" r="40"><stop offset="0" stop-color="#8a7a70" stop-opacity="0.4255228199556546"/><stop offset="0.3" stop-color="#8a7a70" stop-opacity="0.09165684598669639"/><stop offset="1" stop-color="#8a7a70" stop-opacity="0.0"/></radialGradient><radialGradient id="g404" gradientUnits="userSpaceOnUse" cx="231" cy="184.9" r="40"><stop offset="0" stop-color="#c08080" stop-opacity="0.42364102535017256"/><stop offset="0.3" stop-color="#c08080" stop-opacity="0.09109230760505177"/><stop offset="1" stop-color="#c08080" stop-opacity="0.0"/></radialGradient><radialGradient id="g405" gradientUnits="userSpaceOnUse" cx="234.5" cy="181.5" r="40"><stop offset="0" stop-color="#7a7a7a" stop-opacity="0.72"/><stop offset="0.3" stop-color="#7a7a7a" stop-opacity="0.18"/><stop offset="1" stop-color="#7a7a7a" stop-opacity="0.0"/></radialGradient><radialGradient id="g406" gradientUnits="userSpaceOnUse" cx="243.2" cy="174.6" r="40"><stop offset="0" stop-color="#888888" stop-opacity="0.72"/><stop offset="0.3" stop-color="#888888" stop-opacity="0.18"/><stop offset="1" stop-color="#888888" stop-opacity="0.0"/></radialGradient><radialGradient id="g407" gradientUnits="userSpaceOnUse" cx="256.7" cy="167.6" r="40"><stop offset="0" stop-color="#c08080" stop-opacity="0.5731332269594754"/><stop offset="0.3" stop-color="#c08080" stop-opacity="0.13593996808784264"/><stop offset="1" stop-color="#c08080" stop-opacity="0.0"/></radialGradient><radialGradient id="g408" gradientUnits="userSpaceOnUse" cx="265.6" cy="164.9" r="40"><stop offset="0" stop-color="#c0a0a0" stop-opacity="0.29621748109029167"/><stop offset="0.3" stop-color="#c0a0a0" stop-opacity="0.052865244327087495"/><stop offset="1" stop-color="#c0a0a0" stop-opacity="0.0"/></radialGradient><radialGradient id="g409" gradientUnits="userSpaceOnUse" cx="272.6" cy="163.6" r="40"><stop offset="0" stop-color="#c0c0c0" stop-opacity="0.12018182871760866"/><stop offset="0.3" stop-color="#c0c0c0" stop-opacity="5.454861528259701e-05"/><stop offset="1" stop-color="#c0c0c0" stop-opacity="0.0"/></radialGradient><radialGradient id="g410" gradientUnits="userSpaceOnUse" cx="275.8" cy="163.3" r="40"><stop offset="0" stop-color="#d0a0a0" stop-opacity="0.17677470583380764"/><stop offset="0.3" stop-color="#d0a0a0" stop-opacity="0.017032411750142293"/><stop offset="1" stop-color="#d0a0a0" stop-opacity="0.0"/></radialGradient><radialGradient id="g411" gradientUnits="userSpaceOnUse" cx="260" cy="166.5" r="137.2"><stop offset="0" stop-color="#f01010" stop-opacity="0.7224999999999999"/><stop offset="0.15" stop-color="#f01010" stop-opacity="0.124"/><stop offset="1" stop-color="#f01010" stop-opacity="0.05"/></radialGradient><radialGradient id="g412" gradientUnits="userSpaceOnUse" cx="339.5" cy="195.6" r="137.2"><stop offset="0" stop-color="#1f8a1f" stop-opacity="0.8075"/><stop offset="0.15" stop-color="#1f8a1f" stop-opacity="0.248"/><stop offset="1" stop-color="#1f8a1f" stop-opacity="0.1"/></radialGradient><radialGradient id="g413" gradientUnits="userSpaceOnUse" cx="285.5" cy="163.2" r="137.2"><stop offset="0" stop-color="#6060d0" stop-opacity="0.68"/><stop offset="0.15" stop-color="#6060d0" stop-opacity="0.124"/><stop offset="1" stop-color="#6060d0" stop-opacity="0.025"/></radialGradient><radialGradient id="g414" gradientUnits="userSpaceOnUse" cx="295.5" cy="164.6" r="137.2"><stop offset="0" stop-color="#f080c0" stop-opacity="0.68"/><stop offset="0.15" stop-color="#f080c0" stop-opacity="0.124"/><stop offset="1" stop-color="#f080c0" stop-opacity="0.025"/></radialGradient><radialGradient id="g415" gradientUnits="userSpaceOnUse" cx="300.1" cy="165.8" r="137.2"><stop offset="0" stop-color="#9060e0" stop-opacity="0.68"/><stop offset="0.15" stop-color="#9060e0" stop-opacity="0.124"/><stop offset="1" stop-color="#9060e0" stop-opacity="0.025"/></radialGradient><radialGradient id="g416" gradientUnits="userSpaceOnUse" cx="317.6" cy="173.5" r="137.2"><stop offset="0" stop-color="#804080" stop-opacity="0.68"/><stop offset="0.15" stop-color="#804080" stop-opacity="0.124"/><stop offset="1" stop-color="#804080" stop-opacity="0.025"/></radialGradient><radialGradient id="g417" gradientUnits="userSpaceOnUse" cx="321.2" cy="176" r="137.2"><stop offset="0" stop-color="#c0e060" stop-opacity="0.68"/><stop offset="0.15" stop-color="#c0e060" stop-opacity="0.124"/><stop offset="1" stop-color="#c0e060" stop-opacity="0.025"/></radialGradient><radialGradient id="g418" gradientUnits="userSpaceOnUse" cx="331.8" cy="185.4" r="137.2"><stop offset="0" stop-color="#e040c0" stop-opacity="0.68"/><stop offset="0.15" stop-color="#e040c0" stop-opacity="0.124"/><stop offset="1" stop-color="#e040c0" stop-opacity="0.025"/></radialGradient><radialGradient id="g419" gradientUnits="userSpaceOnUse" cx="347.3" cy="213.4" r="137.2"><stop offset="0" stop-color="#c09050" stop-opacity="0.68"/><stop offset="0.15" stop-color="#c09050" stop-opacity="0.124"/><stop offset="1" stop-color="#c09050" stop-opacity="0.025"/></radialGradient><radialGradient id="g420" gradientUnits="userSpaceOnUse" cx="348.3" cy="217.4" r="137.2"><stop offset="0" stop-color="#50a0a0" stop-opacity="0.68"/><stop offset="0.15" stop-color="#50a0a0" stop-opacity="0.124"/><stop offset="1" stop-color="#50a0a0" stop-opacity="0.025"/></radialGradient><radialGradient id="g421" gradientUnits="userSpaceOnUse" cx="349.3" cy="223.3" r="137.2"><stop offset="0" stop-color="#9060c0" stop-opacity="0.68"/><stop offset="0.15" stop-color="#9060c0" stop-opacity="0.124"/><stop offset="1" stop-color="#9060c0" stop-opacity="0.025"/></radialGradient><radialGradient id="g422" gradientUnits="userSpaceOnUse" cx="224.9" cy="192.5" r="137.2"><stop offset="0" stop-color="#a05a5a" stop-opacity="0.68"/><stop offset="0.15" stop-color="#a05a5a" stop-opacity="0.124"/><stop offset="1" stop-color="#a05a5a" stop-opacity="0.04"/></radialGradient><radialGradient id="g423" gradientUnits="userSpaceOnUse" cx="250.8" cy="170.2" r="137.2"><stop offset="0" stop-color="#408080" stop-opacity="0.68"/><stop offset="0.15" stop-color="#408080" stop-opacity="0.124"/><stop offset="1" stop-color="#408080" stop-opacity="0.025"/></radialGradient><radialGradient id="g424" gradientUnits="userSpaceOnUse" cx="237.7" cy="178.7" r="137.2"><stop offset="0" stop-color="#507050" stop-opacity="0.68"/><stop offset="0.15" stop-color="#507050" stop-opacity="0.124"/><stop offset="1" stop-color="#507050" stop-opacity="0.025"/></radialGradient><radialGradient id="g425" gradientUnits="userSpaceOnUse" cx="219.1" cy="202.6" r="137.2"><stop offset="0" stop-color="#704070" stop-opacity="0.68"/><stop offset="0.15" stop-color="#704070" stop-opacity="0.124"/><stop offset="1" stop-color="#704070" stop-opacity="0.025"/></radialGradient><radialGradient id="g426" gradientUnits="userSpaceOnUse" cx="212.7" cy="234.5" r="137.2"><stop offset="0" stop-color="#4aa84a" stop-opacity="0.765"/><stop offset="0.15" stop-color="#4aa84a" stop-opacity="0.186"/><stop offset="1" stop-color="#4aa84a" stop-opacity="0.05"/></radialGradient><radialGradient id="g427" gradientUnits="userSpaceOnUse" cx="213.6" cy="243.6" r="137.2"><stop offset="0" stop-color="#5050c0" stop-opacity="0.68"/><stop offset="0.15" stop-color="#5050c0" stop-opacity="0.124"/><stop offset="1" stop-color="#5050c0" stop-opacity="0.025"/></radialGradient><radialGradient id="g428" gradientUnits="userSpaceOnUse" cx="237" cy="284.2" r="137.2"><stop offset="0" stop-color="#9040a0" stop-opacity="0.68"/><stop offset="0.15" stop-color="#9040a0" stop-opacity="0.124"/><stop offset="1" stop-color="#9040a0" stop-opacity="0.04"/></radialGradient><radialGradient id="g429" gradientUnits="userSpaceOnUse" cx="256.4" cy="295.7" r="137.2"><stop offset="0" stop-color="#50b050" stop-opacity="0.68"/><stop offset="0.15" stop-color="#50b050" stop-opacity="0.124"/><stop offset="1" stop-color="#50b050" stop-opacity="0.025"/></radialGradient><radialGradient id="g430" gradientUnits="userSpaceOnUse" cx="271.7" cy="299.6" r="137.2"><stop offset="0" stop-color="#6060d0" stop-opacity="0.68"/><stop offset="0.15" stop-color="#6060d0" stop-opacity="0.124"/><stop offset="1" stop-color="#6060d0" stop-opacity="0.025"/></radialGradient><radialGradient id="g431" gradientUnits="userSpaceOnUse" cx="345.8" cy="254.8" r="137.2"><stop offset="0" stop-color="#30d8d8" stop-opacity="0.765"/><stop offset="0.15" stop-color="#30d8d8" stop-opacity="0.155"/><stop offset="1" stop-color="#30d8d8" stop-opacity="0.04"/></radialGradient><radialGradient id="g432" gradientUnits="userSpaceOnUse" cx="341.9" cy="263.6" r="137.2"><stop offset="0" stop-color="#8a3a9a" stop-opacity="0.765"/><stop offset="0.15" stop-color="#8a3a9a" stop-opacity="0.1364"/><stop offset="1" stop-color="#8a3a9a" stop-opacity="0.04"/></radialGradient><radialGradient id="g433" gradientUnits="userSpaceOnUse" cx="338.1" cy="270.1" r="137.2"><stop offset="0" stop-color="#9050c0" stop-opacity="0.68"/><stop offset="0.15" stop-color="#9050c0" stop-opacity="0.124"/><stop offset="1" stop-color="#9050c0" stop-opacity="0.025"/></radialGradient><radialGradient id="g434" gradientUnits="userSpaceOnUse" cx="323.4" cy="285.8" r="137.2"><stop offset="0" stop-color="#505050" stop-opacity="0.765"/><stop offset="0.15" stop-color="#505050" stop-opacity="0.1364"/><stop offset="1" stop-color="#505050" stop-opacity="0.04"/></radialGradient><radialGradient id="g435" gradientUnits="userSpaceOnUse" cx="316.5" cy="290.5" r="137.2"><stop offset="0" stop-color="#e04040" stop-opacity="0.68"/><stop offset="0.15" stop-color="#e04040" stop-opacity="0.124"/><stop offset="1" stop-color="#e04040" stop-opacity="0.025"/></radialGradient><radialGradient id="g436" gradientUnits="userSpaceOnUse" cx="307.3" cy="295.1" r="137.2"><stop offset="0" stop-color="#4848c0" stop-opacity="0.765"/><stop offset="0.15" stop-color="#4848c0" stop-opacity="0.1364"/><stop offset="1" stop-color="#4848c0" stop-opacity="0.04"/></radialGradient><radialGradient id="g437" gradientUnits="userSpaceOnUse" cx="297.6" cy="298.3" r="137.2"><stop offset="0" stop-color="#8b1a10" stop-opacity="0.8075"/><stop offset="0.15" stop-color="#8b1a10" stop-opacity="0.155"/><stop offset="1" stop-color="#8b1a10" stop-opacity="0.05"/></radialGradient></defs>
<g fill="none"><circle cx="100.1" cy="79.2" r="69" fill="none" stroke="#b8b8b8" stroke-width="0.7" stroke-dasharray="0.8 2.1"/>
<g stroke="url(#g1)" stroke-width="0.55"><path d="M98.7 10.5Q86.5 81.7 123.2 143.9"/></g>
<g stroke="url(#g2)" stroke-width="0.55"><path d="M104.5 10.6Q99 79.8 161.6 109.9"/><path d="M104.4 10.6Q99 78.1 31.4 81.7"/></g>
<g stroke="url(#g3)" stroke-width="0.55"><path d="M111.2 11.4Q92.4 80.5 133.2 139.4"/><path d="M110.8 11.3Q106 82.6 46.7 122.5"/></g>
<g stroke="url(#g4)" stroke-width="0.55"><path d="M115.2 12.2Q100.4 79.1 161.7 109.6"/><path d="M115.1 12.2Q102.5 77.5 168.3 87.4"/></g>
<g stroke="url(#g5)" stroke-width="0.55"><path d="M118.2 12.9Q118 84.9 76.7 143.8"/></g>
<g stroke="url(#g6)" stroke-width="0.55"><path d="M125.6 15.4Q104.1 83.2 36.1 104.3"/></g>
<g stroke="url(#g7)" stroke-width="0.55"><path d="M128.9 16.8Q82.7 72 76.2 143.6"/></g>
<g stroke="url(#g8)" stroke-width="0.55"><path d="M134.5 19.8Q104.4 84.6 34.8 100.6"/><path d="M134.6 19.8Q83.6 70.6 71.1 141.5"/></g>
<g stroke="url(#g9)" stroke-width="0.55"><path d="M142.3 25Q110.7 89.9 45.5 120.9"/><path d="M143.2 25.7Q87.8 72.1 74.9 143.1"/></g>
<g stroke="url(#g10)" stroke-width="0.55"><path d="M145.8 27.9Q90.8 74.4 84.7 146.2"/></g>
<g stroke="url(#g11)" stroke-width="0.55"><path d="M151.8 34Q100.2 77 54.3 28"/><path d="M151.5 33.6Q105.8 77.2 168.7 82.5"/></g>
<g stroke="url(#g12)" stroke-width="0.55"><path d="M163.6 53.1Q100 79.6 55.7 26.8"/><path d="M163.5 52.8Q92.7 67 47.2 123.1"/></g>
<g stroke="url(#g13)" stroke-width="0.55"><path d="M165.4 57.8Q101.2 79.8 112.5 146.8"/><path d="M165.2 57.3Q104.6 75.2 129.8 17.3"/></g>
<g stroke="url(#g14)" stroke-width="0.55"><path d="M166.3 61Q94.6 68.3 46.5 122.2"/></g>
<g stroke="url(#g15)" stroke-width="0.55"><path d="M168 68.8Q100.4 94.2 31.8 71.9"/></g>
<g stroke="url(#g16)" stroke-width="0.55"><path d="M168.2 70.5Q97.2 59.8 32.4 90.8"/></g>
<g stroke="url(#g17)" stroke-width="0.55"><path d="M168.8 76.7Q98.2 92.1 35.1 57"/></g>
<g stroke="url(#g18)" stroke-width="0.55"><path d="M168.7 83.7Q100.7 80 84.2 146"/></g>
<g stroke="url(#g19)" stroke-width="0.55"><path d="M168.5 86.1Q101.7 81.1 95 147.7"/><path d="M168.4 86.9Q106.5 81.1 161.3 110.4"/></g>
<g stroke="url(#g20)" stroke-width="0.55"><path d="M167.3 93.4Q103.9 59.7 32.4 67.3"/><path d="M167.4 93Q101 80.6 80.9 145.2"/></g>
<g stroke="url(#g21)" stroke-width="0.55"><path d="M166.9 95.3Q95.9 85.8 57.5 25.3"/><path d="M167 95Q99.9 68.6 33.8 97.1"/></g>
<g stroke="url(#g22)" stroke-width="0.55"><path d="M165.7 99.8Q106.3 78.9 163.7 53.2"/><path d="M165.5 100.1Q99.8 78.3 56.9 132.6"/></g>
<g stroke="url(#g23)" stroke-width="0.55"><path d="M162.9 107.1Q102.4 83 96.3 147.8"/><path d="M162.6 107.7Q100.4 73 35.5 102.6"/></g>
<g stroke="url(#g24)" stroke-width="0.55"><path d="M161.1 110.8Q91.4 92.2 47.9 34.6"/></g>
<g stroke="url(#g25)" stroke-width="0.55"><path d="M155.3 120.1Q98.2 80 111.7 11.5"/><path d="M154.8 120.8Q109.8 64.5 40.3 45.4"/></g>
<g stroke="url(#g26)" stroke-width="0.55"><path d="M149.7 126.7Q101.4 84 80.4 145"/></g>
<g stroke="url(#g27)" stroke-width="0.55"><path d="M145.4 130.8Q86.8 88.8 65.5 19.8"/></g>
<g stroke="url(#g28)" stroke-width="0.55"><path d="M142 133.6Q104.5 72.5 33.7 61.6"/><path d="M142.1 133.6Q104.5 72.5 33.7 61.7"/></g>
<g stroke="url(#g29)" stroke-width="0.55"><path d="M133.3 139.3Q100.5 79.3 151.2 33.3"/></g>
<g stroke="url(#g30)" stroke-width="0.55"><path d="M129.5 141.3Q94.8 79.3 126.9 15.9"/><path d="M129.1 141.5Q101.1 85.6 91.1 147.3"/></g>
<g stroke="url(#g31)" stroke-width="0.55"><path d="M118.2 145.5Q80.8 84.1 84.1 12.4"/></g>
<g stroke="url(#g32)" stroke-width="0.55"><path d="M111.7 146.9Q94.8 77.9 142.1 24.8"/></g>
<g stroke="url(#g33)" stroke-width="0.55"><path d="M105.6 147.7Q100.5 79.5 165.7 58.8"/></g>
<g stroke="url(#g34)" stroke-width="0.55"><path d="M99.6 147.9Q100.5 78.9 35.1 57"/><path d="M100.2 147.9Q101.8 85.6 133.5 139.3"/></g>
<g stroke="url(#g35)" stroke-width="0.55"><path d="M96.1 147.8Q102.4 82.8 163.8 104.9"/><path d="M95.4 147.7Q101.6 78.4 40.2 45.6"/></g>
<g stroke="url(#g36)" stroke-width="0.55"><path d="M90.3 147.2Q102.1 83.1 161.1 110.9"/><path d="M90.8 147.3Q92.1 75.5 146.2 28.3"/></g>
<g stroke="url(#g37)" stroke-width="0.55"><path d="M84.3 146.1Q82.3 74.1 122.1 14.1"/><path d="M84.2 146Q99.4 78.4 168.1 69.4"/></g>
<g stroke="url(#g38)" stroke-width="0.55"><path d="M79.3 144.7Q98 80.3 34.2 59.8"/><path d="M79.6 144.8Q96.4 75.8 163.2 52"/></g>
<g stroke="url(#g39)" stroke-width="0.55"><path d="M75.3 143.2Q82.8 71.7 129.9 17.3"/><path d="M75.3 143.3Q97.5 76.3 166.5 61.7"/></g>
<g stroke="url(#g40)" stroke-width="0.55"><path d="M69.7 140.8Q98.3 79.8 40 46"/><path d="M70 140.9Q100.7 80.7 164.3 103.8"/></g>
<g stroke="url(#g41)" stroke-width="0.55"><path d="M64.9 138.2Q97.1 80.2 37.1 51.7"/></g>
<g stroke="url(#g42)" stroke-width="0.55"><path d="M63.2 137.1Q103.4 79.4 71.5 16.7"/><path d="M62.8 136.9Q116.5 89.1 133.6 19.2"/></g>
<g stroke="url(#g43)" stroke-width="0.55"><path d="M53.5 129.7Q96.5 79.7 41.1 44"/><path d="M53.6 129.8Q100.2 80 158.3 115.7"/></g>
<g stroke="url(#g44)" stroke-width="0.55"><path d="M50.4 126.6Q99.6 77 165.2 101.2"/></g>
<g stroke="url(#g45)" stroke-width="0.55"><path d="M46.6 122.3Q98.4 73.3 168.4 86.3"/><path d="M46.9 122.7Q94.7 80.4 33.7 61.4"/></g>
<g stroke="url(#g46)" stroke-width="0.55"><path d="M40.7 113.7Q105.6 83.7 122.2 14.1"/><path d="M40.8 113.8Q98.5 71.3 168.3 87.5"/></g>
<g stroke="url(#g47)" stroke-width="0.55"><path d="M38.3 109.1Q103 81.3 110.4 11.3"/></g>
<g stroke="url(#g48)" stroke-width="0.55"><path d="M36.5 105.1Q95.8 64 167.8 67.7"/></g>
<g stroke="url(#g49)" stroke-width="0.55"><path d="M35.2 101.7Q106.9 93.1 157.9 42.1"/><path d="M35.3 102Q106.2 89 148.9 30.8"/></g>
<g stroke="url(#g50)" stroke-width="0.55"><path d="M33.6 96.6Q98.8 78.4 89.4 11.3"/></g>
<g stroke="url(#g51)" stroke-width="0.55"><path d="M32.6 92Q94.8 82.4 57.1 132.8"/></g>
<g stroke="url(#g52)" stroke-width="0.55"><path d="M31.6 84.8Q101.2 77 138.2 136.4"/><path d="M31.7 85.1Q103 85.1 146.3 28.4"/></g>
<g stroke="url(#g53)" stroke-width="0.55"><path d="M31.5 82Q97.1 77 82.9 12.7"/><path d="M31.5 81.9Q94.5 77.1 50.1 32.1"/></g>
<g stroke="url(#g54)" stroke-width="0.55"><path d="M31.5 76.5Q101.7 82.8 142.5 25.1"/><path d="M31.5 76.4Q101.3 77.4 129.2 141.4"/></g>
<g stroke="url(#g55)" stroke-width="0.55"><path d="M31.8 71.6Q100.5 78.8 115.1 146.2"/></g>
<g stroke="url(#g56)" stroke-width="0.55"><path d="M32.5 66.9Q94 80.3 40.6 113.5"/><path d="M32.5 66.8Q100.6 90.7 166.4 61.3"/></g>
<g stroke="url(#g57)" stroke-width="0.55"><path d="M34 60.6Q94.8 98.7 166.6 96.6"/><path d="M34.1 60.2Q94.8 80.3 47.6 123.5"/></g>
<g stroke="url(#g58)" stroke-width="0.55"><path d="M35.2 56.7Q98.3 80.1 79.5 144.7"/></g>
<g stroke="url(#g59)" stroke-width="0.55"><path d="M39.7 46.4Q99.4 79.5 79.2 144.6"/></g>
<g stroke="url(#g60)" stroke-width="0.55"><path d="M40.7 44.7Q100.1 79.1 148.8 30.8"/></g>
<g stroke="url(#g61)" stroke-width="0.55"><path d="M43.4 40.4Q92.9 92.9 164.3 103.7"/><path d="M43.4 40.5Q99.7 76.9 138.4 22.1"/></g>
<g stroke="url(#g62)" stroke-width="0.55"><path d="M47.1 35.5Q94.2 77 31.4 77.3"/></g>
<g stroke="url(#g63)" stroke-width="0.55"><path d="M50.2 32Q98 84.7 168.7 76.5"/></g>
<g stroke="url(#g64)" stroke-width="0.55"><path d="M54.8 27.6Q102.4 78.8 76.2 143.6"/><path d="M54.8 27.5Q91.2 89.9 159.2 114.2"/></g>
<g stroke="url(#g65)" stroke-width="0.55"><path d="M57.7 25.1Q110 74.7 112.6 146.7"/><path d="M57.9 25Q89.3 90 154.4 121.3"/></g>
<g stroke="url(#g66)" stroke-width="0.55"><path d="M60.9 22.8Q102.6 79 69.9 140.9"/><path d="M61.5 22.4Q97.5 83.5 168.3 87.3"/></g>
<g stroke="url(#g67)" stroke-width="0.55"><path d="M66.7 19.2Q93.9 85.7 161.5 110.1"/></g>
<g stroke="url(#g68)" stroke-width="0.55"><path d="M71.4 16.8Q86.6 87.3 141.9 133.7"/><path d="M71.1 16.9Q97.9 72.8 84.1 12.4"/></g>
<g stroke="url(#g69)" stroke-width="0.55"><path d="M75.9 14.9Q105.9 79.4 70.8 141.3"/><path d="M75.4 15.1Q86.6 86.4 139.8 135.3"/></g>
<g stroke="url(#g70)" stroke-width="0.55"><path d="M84.1 12.4Q81.2 84.2 119.2 145.2"/><path d="M84.1 12.4Q97.5 77.3 31.7 85.6"/></g>
<g stroke="url(#g71)" stroke-width="0.55"><path d="M90.2 11.2Q82.4 82.8 117.5 145.7"/><path d="M90.1 11.2Q101.9 76.2 165 56.7"/></g>
<g stroke="url(#g72)" stroke-width="0.55"><path d="M96.2 10.6Q111.7 81.1 75 143.2"/></g>
<g stroke="url(#g73)" stroke-width="0.5"><path d="M80.6 13.3Q113.1 77.8 95.2 147.7"/><path d="M77.8 14.2Q102.5 79.7 53.9 130.1"/><path d="M77.6 14.3Q92.9 84.5 155.2 120.3"/><path d="M80 13.5Q82.2 85.4 124.9 143.3"/><path d="M77.9 14.2Q106.3 79.6 70.3 141.1"/><path d="M78.7 13.9Q90.9 85 149.3 127.1"/><path d="M77.1 14.5Q95.4 83.4 161.7 109.7"/><path d="M76.7 14.6Q99.5 72.7 111 11.4"/><path d="M80.7 13.3Q97.7 77.8 33.1 94.2"/><path d="M77.5 14.3Q98.1 81.4 167.2 93.9"/><path d="M79.5 13.6Q96.8 73.4 54.2 28.1"/><path d="M78.4 14Q103.3 79.8 57.2 132.8"/><path d="M79.2 13.8Q91.2 84.8 150 126.4"/><path d="M79.6 13.6Q85.4 85.6 134 139"/><path d="M79 13.8Q108 79.4 76.4 143.7"/><path d="M80.9 13.3Q96.3 74.4 40.5 45"/><path d="M77.5 14.3Q108.6 79 80.6 145.1"/><path d="M77.9 14.2Q101.4 75.4 157 40.8"/><path d="M78.6 13.9Q83.7 85.8 130 141"/><path d="M77.8 14.2Q101 79.4 47.3 123.2"/><path d="M79.3 13.7Q96.5 73.9 46.7 36"/><path d="M78.5 14Q97.7 77.9 33.6 96.3"/><path d="M81 13.2Q96.9 82.1 163.9 104.6"/><path d="M79 13.8Q97.4 77.6 32.5 91.3"/><path d="M80.8 13.3Q101.3 76.9 165.2 57.3"/><path d="M79.4 13.7Q82.1 85.6 125.2 143.1"/><path d="M77.4 14.4Q100.6 78.3 167.7 67.2"/><path d="M77.5 14.3Q112.6 77.4 96.6 147.8"/><path d="M79.5 13.7Q94.5 83.6 158.7 115.1"/><path d="M78.9 13.9Q100.5 78.5 168.2 70.3"/><path d="M77.2 14.4Q101 74 143 25.6"/><path d="M80.7 13.3Q96.3 75.4 34.2 59.8"/><path d="M78.6 13.9Q96.6 76.6 31.4 77.5"/><path d="M77.7 14.2Q83.5 86 130 141.1"/><path d="M80.5 13.3Q101.4 76.4 163.4 52.4"/><path d="M79.9 13.5Q91.2 84.7 149.5 126.9"/><path d="M77.1 14.5Q98.4 78.5 36.9 106"/><path d="M80.4 13.4Q109.3 79.2 80.5 145"/><path d="M80.8 13.3Q109.3 79.3 80.1 144.9"/><path d="M80.7 13.3Q110.6 78.8 85.3 146.3"/></g>
<g stroke="url(#g74)" stroke-width="0.6"><path d="M161.7 48.8Q104.7 93.1 32.5 91.3"/><path d="M161.7 48.9Q103 90.8 31.4 81.7"/><path d="M160.6 46.6Q92.1 69.5 56.3 132.1"/><path d="M161.6 48.6Q92 67.8 50.9 127.2"/><path d="M161 47.4Q107.2 95.3 35.5 102.5"/><path d="M160.6 46.7Q90.4 61.7 40.4 113.3"/><path d="M161.3 48Q107.1 95.4 35.3 102"/><path d="M160.9 47.3Q100.1 82.7 39.5 46.8"/><path d="M160.5 46.5Q93.3 72.2 65.5 138.6"/><path d="M161.6 48.5Q99.9 81.7 43.5 40.3"/><path d="M161.2 47.8Q90.8 62.3 40.9 114"/><path d="M161.1 47.5Q100.1 82.9 39.4 47.1"/><path d="M161.8 49Q95.8 75.5 79.6 144.8"/><path d="M160.6 46.7Q98.1 78 100 147.9"/></g>
<g stroke="url(#g75)" stroke-width="0.6"><path d="M157.7 41.7Q94.3 74.8 80.4 145"/><path d="M157.5 41.4Q91.4 70.5 62 136.4"/><path d="M157.6 41.6Q90.3 67.6 53.7 129.8"/><path d="M157.5 41.5Q91.6 70.8 63 137"/><path d="M157.2 41Q94.1 74.8 80.4 145"/><path d="M157.2 41.1Q101.6 79.6 132.4 139.8"/></g>
<g stroke="url(#g76)" stroke-width="0.6"><path d="M149.4 31.4Q102.7 85.4 31.4 81"/><path d="M149.5 31.4Q100.7 81.8 34.1 60.3"/><path d="M148.9 30.8Q105 78 165.5 100.2"/><path d="M149.2 31.2Q100.3 80.3 37.1 51.7"/><path d="M148.9 30.8Q101.3 74.4 78.9 13.9"/><path d="M149 31Q104 86.9 32.3 90.5"/></g>
<g stroke="url(#g77)" stroke-width="0.6"><path d="M138.4 22.2Q100.3 74.3 66 19.6"/><path d="M138.1 22Q110.4 88.7 46.3 122"/><path d="M138.2 22Q113.6 89.8 53.6 129.7"/><path d="M138.8 22.4Q95.3 78.4 118.6 145.4"/><path d="M138 21.9Q104.9 74.5 158.1 42.3"/></g>
<g stroke="url(#g78)" stroke-width="0.6"><path d="M122.6 14.3Q103.8 73.8 151.9 34"/><path d="M122.6 14.3Q107.6 84.6 45.7 121.2"/><path d="M122.8 14.4Q110.4 85.4 53.2 129.4"/><path d="M122.6 14.3Q82.2 73.9 83.3 145.8"/></g>
<g stroke="url(#g79)" stroke-width="0.55"><path d="M36.4 53.5Q105.8 72.2 138.7 136"/><path d="M37 52Q103.5 76.3 117.8 145.6"/><path d="M36.9 52.3Q103.2 76.5 116.3 146"/><path d="M37.1 51.7Q98.2 80 74.4 142.9"/><path d="M36.7 52.8Q107.6 66.3 154.5 121.2"/><path d="M37.3 51.4Q105.1 74.1 129.3 141.4"/><path d="M36.9 52.2Q106.9 69.8 145.7 130.6"/><path d="M36.8 52.5Q99.8 86.4 165.6 58.4"/></g>
<g stroke="url(#g80)" stroke-width="0.6"><path d="M32.7 92.4Q96.9 60.1 168.1 69.6"/><path d="M33 93.9Q93.9 78.4 39 47.8"/><path d="M33 93.9Q98.2 63 168.8 77.7"/><path d="M32.8 93Q99.9 79.1 103.3 10.6"/><path d="M33.2 94.9Q99.6 78.8 98.2 10.5"/><path d="M33.1 94.4Q99.4 78.6 96.5 10.6"/><path d="M32.7 92.7Q98.5 78.1 89.4 11.3"/><path d="M32.8 92.9Q100 79.3 130.3 140.9"/><path d="M33.2 94.7Q98.9 81.2 115.2 146.2"/><path d="M33 94.1Q104.5 86.8 146.7 28.7"/></g>
<g stroke="url(#g81)" stroke-width="0.6"><path d="M44.5 119.5Q99 74.1 167.1 94.2"/><path d="M45.4 120.8Q99.1 74.6 167 95"/><path d="M45.3 120.7Q107.3 84.4 122 14.1"/><path d="M44.6 119.7Q100 78 158.8 114.9"/><path d="M45.2 120.5Q106.1 83.1 114.9 12.1"/><path d="M45.6 121Q100.1 79.2 74.5 15.4"/><path d="M45.6 121Q103.2 80.6 95.2 10.7"/><path d="M44.9 120.1Q110.9 90.9 145.3 27.5"/></g>
<g stroke="url(#g82)" stroke-width="0.6"><path d="M57.4 133Q100 78.8 164.4 103.5"/><path d="M57.9 133.4Q99.5 77.6 167.1 94.4"/><path d="M56.9 132.6Q111.9 85.8 123.2 14.5"/><path d="M56.8 132.6Q92.7 69.9 161.5 48.4"/><path d="M56.1 132Q99.4 79.2 57.1 25.6"/><path d="M56.6 132.3Q101 79.3 65.6 19.8"/><path d="M57.9 133.4Q98.1 79.4 47.8 34.7"/><path d="M58.1 133.6Q100.2 79.6 162.6 107.8"/></g>
<g stroke="url(#g83)" stroke-width="0.6"><path d="M164 104.5Q100.6 70.8 33.6 96.4"/><path d="M164 104.4Q104.5 83.4 129.3 141.4"/><path d="M163.7 105.1Q103 83.2 105.7 147.7"/><path d="M163.7 105.2Q92.3 97.9 36.9 52.3"/><path d="M163.5 105.6Q92.5 93.1 43.8 39.8"/><path d="M163.5 105.7Q95.5 83.9 71.7 16.6"/><path d="M163.6 105.5Q104.4 78.2 146.6 28.7"/><path d="M163.7 105.2Q100.1 72.8 36.1 104.3"/><path d="M163.7 105.1Q101.4 78.6 118.8 13.1"/><path d="M164.2 103.9Q101.8 78.4 121.8 14"/><path d="M164 104.5Q99.9 78.3 53.8 129.9"/><path d="M164.4 103.5Q100.3 79.8 63.2 137.1"/></g>
<g stroke="url(#g84)" stroke-width="0.6"><path d="M158.5 115.4Q102.5 78.7 137.5 21.6"/><path d="M158.2 115.9Q106.2 65.8 34.2 59.7"/><path d="M159 114.5Q103.8 68.1 31.8 72"/><path d="M158.7 115.1Q104.8 67.1 32.6 66.6"/><path d="M159.1 114.5Q103.8 84 118 145.5"/><path d="M158.3 115.7Q109.6 62.8 39.4 46.9"/><path d="M159.2 114.2Q104.7 66.8 32.5 66.8"/><path d="M159.2 114.2Q93 86 67.6 18.7"/><path d="M159.1 114.4Q89.8 95.4 43.3 40.5"/><path d="M159.2 114.2Q105 79.1 157.7 41.8"/></g>
<g stroke="url(#g85)" stroke-width="0.6"><path d="M154.1 121.6Q87.6 94.5 47.7 34.8"/><path d="M154.4 121.3Q106 81.1 168.7 76.4"/><path d="M153.6 122.3Q105.8 68.3 34 60.4"/><path d="M154 121.8Q100.3 77.3 38.2 109"/><path d="M153.2 122.8Q94 82.7 89 11.4"/><path d="M153.3 122.6Q100.2 81 53.1 129.3"/><path d="M153.2 122.8Q100.6 82.2 62.6 136.7"/><path d="M153.9 121.9Q102.3 78.9 142.4 25.1"/></g>
<g stroke="url(#g86)" stroke-width="0.6"><path d="M139.5 135.5Q100.9 79.3 148.5 30.4"/><path d="M139 135.8Q99.8 80.4 38.9 110.5"/><path d="M138.7 136.1Q100.2 83.9 63.5 137.3"/><path d="M139.1 135.8Q99.9 79.8 36.9 106.1"/><path d="M138.7 136Q100.1 79.2 35 101.1"/><path d="M138.9 135.9Q96.7 79.6 125.6 15.4"/></g>
<g stroke="url(#g87)" stroke-width="0.6"><path d="M125.6 143Q100.8 79.4 158.1 42.3"/><path d="M125.3 143.1Q96.6 78.8 139 22.6"/><path d="M123.7 143.7Q94.2 78.9 130 17.3"/><path d="M124.9 143.3Q91.9 79.6 118.7 13.1"/><path d="M123.7 143.7Q101.3 77.7 31.8 71.7"/><path d="M123.1 143.9Q103.7 84.8 149.8 126.6"/><path d="M124.8 143.3Q94.3 79 129.3 17"/><path d="M125.3 143.1Q103.4 81.1 168.1 69.2"/><path d="M124.9 143.3Q87.1 81.7 98.9 10.5"/><path d="M123.1 143.9Q103.8 81.9 168.7 82.4"/></g>
<g stroke="url(#g88)" stroke-width="0.6"><path d="M115.1 146.2Q109.3 74.4 54.3 28"/><path d="M114.1 146.5Q99.3 80.3 31.6 85"/><path d="M114.8 146.3Q101 78.3 32.6 66.7"/><path d="M115.5 146.2Q99.9 79.4 31.4 77.9"/><path d="M117.5 145.7Q102.7 76.8 35.3 56.4"/><path d="M114.7 146.3Q101 78.2 32.6 66.2"/><path d="M114.9 146.3Q99.3 80.3 31.7 85.6"/><path d="M117.2 145.7Q116.1 73.6 72.2 16.4"/><path d="M116.3 146Q98.5 83.7 45.6 121"/><path d="M116.7 145.9Q105.8 75.2 43.6 40.2"/><path d="M114.2 146.4Q101.5 77.8 33.6 61.9"/><path d="M114.7 146.3Q102.9 81.4 168.8 77.9"/><path d="M114.2 146.4Q97.5 78.4 151.1 33.1"/><path d="M116.2 146Q105.6 75.4 43.1 40.9"/><path d="M116.4 145.9Q99.7 79.7 31.5 81.9"/><path d="M117.4 145.7Q114.2 73.6 66.9 19.1"/><path d="M115.2 146.2Q120 74.6 84.6 12.3"/><path d="M115.6 146.1Q101.9 77.5 34.1 60.2"/><path d="M115.7 146.1Q113.8 73.9 66.7 19.2"/><path d="M114.1 146.4Q98.9 80.9 32.5 91.5"/><path d="M115.2 146.2Q103.1 76.7 37 52.1"/><path d="M117.4 145.7Q99.1 80.8 32.8 92.8"/></g></g>
<g fill="none"><circle cx="282.4" cy="79.4" r="68.8" fill="none" stroke="#b8b8b8" stroke-width="0.7" stroke-dasharray="0.8 2.1"/>
<g stroke="url(#g89)" stroke-width="0.55"><path d="M284 10.9Q280.2 80.6 341.2 114.5"/></g>
<g stroke="url(#g90)" stroke-width="0.55"><path d="M285.6 11Q267.2 80.6 296.1 146.5"/></g>
<g stroke="url(#g91)" stroke-width="0.55"><path d="M293.9 11.9Q287.2 82.5 225.5 117.5"/></g>
<g stroke="url(#g92)" stroke-width="0.55"><path d="M296.7 12.4Q271.1 79.6 298.9 145.9"/><path d="M296 12.3Q263.4 76.1 272.4 147.2"/></g>
<g stroke="url(#g93)" stroke-width="0.55"><path d="M302.1 13.8Q284.3 78.4 347.8 99.8"/></g>
<g stroke="url(#g94)" stroke-width="0.55"><path d="M308.6 16.1Q299.1 87.2 250.5 140"/><path d="M308.8 16.2Q283.5 81 214 83.9"/></g>
<g stroke="url(#g95)" stroke-width="0.55"><path d="M316.7 20.1Q294.6 88.6 234.8 128.6"/><path d="M316.6 20.1Q265.7 70.5 252.4 141"/></g>
<g stroke="url(#g96)" stroke-width="0.55"><path d="M321.5 23.2Q268.5 71.8 256.2 142.7"/><path d="M321.3 23Q286.6 85.3 216.2 97.1"/></g>
<g stroke="url(#g97)" stroke-width="0.55"><path d="M332.6 32.8Q286.3 87.5 214.7 89.9"/></g>
<g stroke="url(#g98)" stroke-width="0.55"><path d="M333.6 33.9Q283.2 75.4 253.6 17.3"/></g>
<g stroke="url(#g99)" stroke-width="0.55"><path d="M338.7 40.3Q285 74.5 283.6 10.9"/></g>
<g stroke="url(#g100)" stroke-width="0.55"><path d="M343.8 49Q282.4 79.6 235.7 29.3"/></g>
<g stroke="url(#g101)" stroke-width="0.55"><path d="M345.5 52.6Q283.1 79.8 297.2 146.3"/><path d="M345.4 52.4Q278.1 75.2 256.9 143"/></g>
<g stroke="url(#g102)" stroke-width="0.55"><path d="M347 56.6Q287.9 80.1 339.2 117.7"/><path d="M347 56.7Q282.5 87.5 217.2 58.5"/></g>
<g stroke="url(#g103)" stroke-width="0.55"><path d="M348.4 61.1Q288.1 80.4 338.8 118.3"/><path d="M348.6 61.9Q277.1 59.8 216.4 97.7"/></g>
<g stroke="url(#g104)" stroke-width="0.55"><path d="M349.8 67.4Q277.9 67.1 223.3 114.1"/><path d="M349.8 67Q280.5 77.1 257.7 143.3"/></g>
<g stroke="url(#g105)" stroke-width="0.55"><path d="M350.7 74.1Q281.4 93.5 215.6 64.2"/></g>
<g stroke="url(#g106)" stroke-width="0.55"><path d="M350.8 76.2Q282.1 79.9 257.4 15.6"/></g>
<g stroke="url(#g107)" stroke-width="0.55"><path d="M350.8 82.7Q285.8 82.1 301.6 145.2"/></g>
<g stroke="url(#g108)" stroke-width="0.55"><path d="M350.3 88.4Q281.8 66.2 215.6 94.4"/><path d="M350.2 88.9Q279.1 98.1 215.4 65.3"/></g>
<g stroke="url(#g109)" stroke-width="0.55"><path d="M349.6 92.6Q278.4 86.6 236.3 28.7"/></g>
<g stroke="url(#g110)" stroke-width="0.55"><path d="M348.6 96.8Q282.3 69.3 216.3 97.5"/></g>
<g stroke="url(#g111)" stroke-width="0.55"><path d="M347.5 100.6Q285.2 64.6 214 75.3"/></g>
<g stroke="url(#g112)" stroke-width="0.55"><path d="M345.4 106.4Q282.8 72 216.7 98.7"/></g>
<g stroke="url(#g113)" stroke-width="0.55"><path d="M343.1 111.2Q274.3 89.8 236.4 28.6"/><path d="M342.9 111.5Q282.3 77.1 225.6 117.6"/></g>
<g stroke="url(#g114)" stroke-width="0.55"><path d="M341.1 114.7Q288.9 65.2 217.2 58.3"/></g>
<g stroke="url(#g115)" stroke-width="0.55"><path d="M332.1 126.6Q282.4 81.4 233.3 127.2"/></g>
<g stroke="url(#g116)" stroke-width="0.55"><path d="M327.5 131Q273.3 83.9 268.9 12.2"/></g>
<g stroke="url(#g117)" stroke-width="0.55"><path d="M324.3 133.6Q282.9 79.4 326.2 26.7"/><path d="M324.4 133.5Q271.9 84.4 267.2 12.6"/></g>
<g stroke="url(#g118)" stroke-width="0.55"><path d="M318.8 137.4Q285.4 74.9 215 67.1"/></g>
<g stroke="url(#g119)" stroke-width="0.55"><path d="M310.9 141.7Q286.3 81.7 350.8 75.7"/><path d="M310.5 141.9Q284.6 80.2 345.1 51.9"/></g>
<g stroke="url(#g120)" stroke-width="0.55"><path d="M300.8 145.4Q284.6 77.2 216.7 60"/><path d="M300.5 145.5Q289.1 74.9 228.2 37.6"/></g>
<g stroke="url(#g121)" stroke-width="0.55"><path d="M298.6 146Q268.3 80.7 286.5 11"/><path d="M297.8 146.1Q280 78.7 333.2 33.4"/></g>
<g stroke="url(#g122)" stroke-width="0.55"><path d="M293 147.1Q268.9 79.2 294.7 12"/></g>
<g stroke="url(#g123)" stroke-width="0.55"><path d="M286.1 147.8Q264 79.5 285.2 11"/></g>
<g stroke="url(#g124)" stroke-width="0.55"><path d="M282.7 147.9Q284.3 78.2 221.7 47.7"/><path d="M282.8 147.9Q280.6 81.3 214 82.8"/></g>
<g stroke="url(#g125)" stroke-width="0.55"><path d="M277.7 147.7Q263.9 77.3 293.1 11.7"/><path d="M277.7 147.7Q287 77.6 233.3 31.7"/></g>
<g stroke="url(#g126)" stroke-width="0.55"><path d="M272.8 147.2Q279.4 82.6 215.3 93.3"/></g>
<g stroke="url(#g127)" stroke-width="0.55"><path d="M265.8 145.9Q294.9 80 272.5 11.6"/></g>
<g stroke="url(#g128)" stroke-width="0.55"><path d="M261.7 144.7Q279.3 81.5 214.2 73.4"/><path d="M261.5 144.6Q301.9 85.6 303.2 14.1"/></g>
<g stroke="url(#g129)" stroke-width="0.55"><path d="M257.6 143.3Q279.7 76.4 348.5 61.4"/></g>
<g stroke="url(#g130)" stroke-width="0.55"><path d="M251.8 140.7Q273.1 72 335.5 36.1"/><path d="M251.2 140.4Q285.7 79.3 248.3 20"/></g>
<g stroke="url(#g131)" stroke-width="0.55"><path d="M250.5 140Q297.5 85.5 301.8 13.7"/></g>
<g stroke="url(#g132)" stroke-width="0.55"><path d="M245.6 137.2Q265.8 68.5 320.8 22.7"/><path d="M245.2 136.9Q275.8 72 343.8 49"/></g>
<g stroke="url(#g133)" stroke-width="0.55"><path d="M235.4 129.2Q275.6 69.6 345.6 53"/><path d="M235.4 129.2Q279.9 85.1 278.5 147.8"/></g>
<g stroke="url(#g134)" stroke-width="0.55"><path d="M233.9 127.8Q282.2 82.4 325.5 132.7"/><path d="M234 127.9Q276.1 69.6 346.7 55.8"/></g>
<g stroke="url(#g135)" stroke-width="0.55"><path d="M230 123.6Q282.1 77.4 345.4 106.2"/><path d="M230.6 124.3Q282.4 79.5 339.2 117.7"/></g>
<g stroke="url(#g136)" stroke-width="0.55"><path d="M225.5 117.6Q288.6 84 303 14.1"/><path d="M226.1 118.4Q276.6 80.6 215.2 66.3"/></g>
<g stroke="url(#g137)" stroke-width="0.55"><path d="M221.1 110.1Q282.3 79.8 326.3 132"/><path d="M221.3 110.3Q279.3 67.8 350.8 75.8"/></g>
<g stroke="url(#g138)" stroke-width="0.55"><path d="M220.2 108Q279 66.5 350.6 73.4"/></g>
<g stroke="url(#g139)" stroke-width="0.55"><path d="M218.1 102.9Q289.5 97.6 345.6 53.1"/></g>
<g stroke="url(#g140)" stroke-width="0.55"><path d="M216.5 98Q279.2 83 271.6 147"/><path d="M216.7 98.7Q288.4 92 338.9 40.7"/></g>
<g stroke="url(#g141)" stroke-width="0.55"><path d="M215.3 93.1Q283.4 75.8 332.3 126.3"/><path d="M215.3 93.4Q279 77.7 253.1 17.5"/></g>
<g stroke="url(#g142)" stroke-width="0.55"><path d="M214 83.2Q278.2 77 249.7 19.2"/><path d="M214 83.1Q284 75.8 325.5 132.7"/></g>
<g stroke="url(#g143)" stroke-width="0.55"><path d="M214 75.7Q282.3 79.5 296 146.5"/><path d="M214 76Q285 64.4 347.9 99.3"/></g>
<g stroke="url(#g144)" stroke-width="0.55"><path d="M214.3 71.8Q284 84.6 334 34.3"/></g>
<g stroke="url(#g145)" stroke-width="0.55"><path d="M215.3 65.6Q280.4 96.1 350.9 81.8"/><path d="M215.2 66.1Q283.5 83.4 333.4 33.7"/></g>
<g stroke="url(#g146)" stroke-width="0.55"><path d="M215.9 62.9Q278.1 98.4 349.6 92.8"/></g>
<g stroke="url(#g147)" stroke-width="0.55"><path d="M217 59Q281 91.9 350.7 73.8"/><path d="M217 59Q282.9 85.6 343.5 48.4"/></g>
<g stroke="url(#g148)" stroke-width="0.55"><path d="M221.5 48.1Q282.6 81 336.3 37.1"/></g>
<g stroke="url(#g149)" stroke-width="0.55"><path d="M223.5 44.4Q272.9 96.3 343 111.3"/></g>
<g stroke="url(#g150)" stroke-width="0.55"><path d="M227.2 38.8Q280.3 86.4 350.8 75.1"/><path d="M227.6 38.3Q271.8 94.8 340.4 115.8"/></g>
<g stroke="url(#g151)" stroke-width="0.55"><path d="M230.9 34.3Q289.8 74.9 298.9 145.9"/></g>
<g stroke="url(#g152)" stroke-width="0.55"><path d="M232.9 32.1Q268.3 94.2 332.2 126.4"/></g>
<g stroke="url(#g153)" stroke-width="0.55"><path d="M235.4 29.5Q274.4 90 343.5 110.4"/><path d="M235.4 29.6Q282.2 80.2 345.6 52.9"/></g>
<g stroke="url(#g154)" stroke-width="0.55"><path d="M241.7 24.3Q278.1 85.7 348.7 96.7"/><path d="M241.1 24.8Q284 79.3 250.2 139.8"/></g>
<g stroke="url(#g155)" stroke-width="0.55"><path d="M244 22.7Q299.1 68.3 319.7 136.9"/></g>
<g stroke="url(#g156)" stroke-width="0.55"><path d="M248.9 19.6Q281 79.1 226.4 118.8"/><path d="M249.3 19.4Q277.7 75.9 215.4 65.1"/></g>
<g stroke="url(#g157)" stroke-width="0.55"><path d="M253.8 17.1Q281.6 79.2 226.3 118.7"/></g>
<g stroke="url(#g158)" stroke-width="0.55"><path d="M256.3 16.1Q278.3 76.3 214.3 71.9"/></g>
<g stroke="url(#g159)" stroke-width="0.55"><path d="M267.5 12.5Q264.9 84.3 304.3 144.3"/><path d="M268.3 12.4Q284.1 74.8 336 36.8"/></g>
<g stroke="url(#g160)" stroke-width="0.55"><path d="M272.4 11.6Q282.9 79.6 221.3 110.5"/><path d="M273.1 11.5Q287.9 80.9 239.8 133"/></g>
<g stroke="url(#g161)" stroke-width="0.55"><path d="M277.8 11.1Q276.4 82.2 332 126.6"/></g>
<g stroke="url(#g162)" stroke-width="0.5"><path d="M262.7 13.8Q291 79.5 260.7 144.4"/><path d="M261.8 14.1Q278.6 75.8 215.9 62.8"/><path d="M264.5 13.3Q296 78 278.2 147.8"/><path d="M262.5 13.9Q294.1 78.5 273 147.3"/><path d="M261.8 14.1Q293.9 78.4 273.2 147.3"/><path d="M263 13.7Q289 80 252.1 140.8"/><path d="M261.7 14.1Q286.9 80 244.6 136.5"/><path d="M261.9 14Q287.1 80 245 136.8"/><path d="M264.9 13.2Q281.9 79.2 221.3 110.4"/><path d="M261.8 14.1Q283.4 74.2 326.5 27"/><path d="M260.9 14.3Q281.9 79.2 223.4 114.3"/><path d="M262.3 13.9Q269.1 85.6 319.4 137"/><path d="M264.2 13.4Q262.8 84.9 301.1 145.3"/><path d="M262.8 13.8Q283.5 74.1 326 26.6"/><path d="M263.5 13.5Q282.7 79 350.8 74.9"/><path d="M263.7 13.5Q301.6 74.3 299.1 145.8"/><path d="M263.6 13.5Q276.2 83.8 338.4 118.9"/><path d="M263.2 13.7Q279 73.8 233.7 31.2"/><path d="M261.6 14.1Q270.5 85.6 323.8 134"/><path d="M265.1 13.1Q278.9 82.3 344.9 107.3"/><path d="M264.9 13.2Q288.9 80.2 249.8 139.7"/><path d="M263.3 13.6Q277.2 83.4 341.2 114.5"/><path d="M261.2 14.3Q282.6 79.5 226.3 118.7"/><path d="M263.7 13.5Q299.9 75.5 293.2 147"/><path d="M265.3 13.1Q300.4 75.7 293.1 147.1"/><path d="M262.6 13.8Q278.8 82.6 345.4 106.3"/><path d="M263.3 13.6Q283.8 75.5 339.8 42"/><path d="M265.2 13.1Q283.2 79.7 226.4 118.8"/><path d="M264.1 13.4Q298.1 76.8 286.2 147.8"/><path d="M261.4 14.2Q292 79.1 265.9 145.9"/><path d="M264.5 13.3Q289.1 80.1 251.3 140.4"/><path d="M264.3 13.3Q278.3 82.8 343.6 110.2"/><path d="M263.1 13.7Q282.7 79 350.8 74.9"/><path d="M262.4 13.9Q291.1 79.5 261.4 144.6"/><path d="M263.8 13.5Q268.3 85.3 316.4 138.8"/><path d="M263.4 13.6Q283.4 77.6 348.6 61.9"/><path d="M262.9 13.7Q282 79.9 350.8 82.5"/><path d="M263.9 13.4Q294.1 78.7 271.4 147"/><path d="M262.5 13.9Q301.4 74 300 145.6"/><path d="M263.7 13.5Q283.2 78.2 349.9 67.7"/></g>
<g stroke="url(#g163)" stroke-width="0.6"><path d="M340.1 42.4Q273.3 69.4 240 133.2"/><path d="M340.8 43.7Q292.6 96.6 223.1 113.6"/><path d="M341.1 44.1Q286.4 79.8 332.3 126.3"/><path d="M340.9 43.8Q287 74.7 317 20.3"/><path d="M341.2 44.2Q283.3 85.3 216 62.4"/><path d="M339.5 41.6Q287.3 91.1 215.3 93.3"/><path d="M340.2 42.6Q290.5 94.6 219.7 107"/><path d="M339.7 41.8Q281.7 79.1 297.9 146.1"/><path d="M341.1 44.1Q282.7 83.3 219.5 52.3"/><path d="M339.9 42.2Q292.8 96.2 223.6 114.6"/><path d="M339.8 42.1Q282.4 80.1 228.1 37.6"/><path d="M340.1 42.5Q292.8 96.3 223.5 114.5"/><path d="M340.5 43.1Q278.4 76.8 273.1 147.3"/><path d="M339.7 41.9Q286.1 74.4 302.3 13.8"/><path d="M340.3 42.8Q272.1 65.3 230.1 123.6"/><path d="M339.5 41.5Q288.3 92.1 216.5 98.1"/></g>
<g stroke="url(#g164)" stroke-width="0.6"><path d="M335.9 36.6Q271.5 68.7 240.9 133.9"/><path d="M335.9 36.6Q293.7 94.6 226 118.2"/><path d="M336.7 37.6Q288.1 90.7 216.5 98.1"/><path d="M335.9 36.6Q269.7 63.8 229.6 123.1"/><path d="M336.5 37.3Q284.2 85.6 214.2 73.1"/><path d="M336.1 36.9Q282.7 79.5 311.3 141.5"/><path d="M335.3 35.9Q282.5 80.6 222 47.1"/><path d="M336.2 37Q288.2 90.6 216.7 98.7"/></g>
<g stroke="url(#g165)" stroke-width="0.6"><path d="M326.8 27.3Q296.3 92.2 234.1 128"/><path d="M326.7 27.2Q276.2 77.3 285.6 147.8"/><path d="M327.3 27.6Q283.2 74.5 257 15.8"/><path d="M326.5 27Q272.2 74.1 265.2 145.7"/><path d="M327.3 27.6Q289.4 88.8 219.9 107.5"/><path d="M327 27.4Q274.8 76.3 277.6 147.7"/></g>
<g stroke="url(#g166)" stroke-width="0.6"><path d="M310.5 16.9Q284.3 81.9 214.6 89"/><path d="M310.7 17Q284.9 82.5 215.4 93.4"/><path d="M310.6 17Q295.4 87.3 239.7 133"/><path d="M310.5 16.9Q286.2 83.6 217.6 101.7"/><path d="M310.8 17.1Q282.6 79.7 214.4 71.2"/></g>
<g stroke="url(#g167)" stroke-width="0.55"><path d="M219 53.5Q283.8 78.4 285.9 147.8"/><path d="M219.3 52.7Q287.5 73.8 314.6 139.8"/><path d="M219.2 52.9Q283.4 78.8 281.7 147.9"/><path d="M219.5 52.2Q275.8 96.8 347.4 101"/><path d="M219.2 53Q282.4 85.4 345.7 53.2"/><path d="M219.5 52.3Q290.5 62.4 343.1 111.2"/><path d="M219.8 51.6Q282.7 82.8 340.2 42.6"/><path d="M219.7 51.7Q285.6 76.7 298.3 146"/></g>
<g stroke="url(#g168)" stroke-width="0.6"><path d="M214.5 88.5Q280.2 77.8 268.8 12.3"/><path d="M214.5 88.4Q275.8 81 218 102.9"/><path d="M214.8 90.2Q283.7 75.2 332.7 125.9"/><path d="M214.4 87.7Q283.2 66.6 348.7 96.5"/><path d="M214.5 88.3Q286.2 93.9 345.8 53.5"/><path d="M214.6 89.4Q284.9 83.1 316.8 20.2"/><path d="M214.6 89.2Q277.2 82.4 240.3 133.5"/><path d="M214.7 90.1Q281.9 78.9 284.8 10.9"/><path d="M214.6 89Q276.1 78.4 221 49.1"/><path d="M214.6 89.4Q283.3 77.1 323.9 133.9"/></g>
<g stroke="url(#g169)" stroke-width="0.6"><path d="M222.5 112.7Q291.8 93.6 336.2 37"/><path d="M223 113.5Q273.5 62.6 344.1 49.6"/><path d="M223.5 114.3Q276.8 66 348.7 62.2"/><path d="M223 113.5Q279.4 78.8 241.4 24.5"/><path d="M223.3 114.1Q282.3 76.4 343 111.4"/><path d="M223.4 114.2Q292.8 96.7 340.9 43.8"/><path d="M223.5 114.3Q273.7 63.1 344.3 50"/><path d="M222.8 113.2Q273.5 62.5 344 49.5"/></g>
<g stroke="url(#g170)" stroke-width="0.6"><path d="M240.8 133.8Q271.6 68.8 336.1 36.9"/><path d="M240.2 133.4Q297.9 90.8 321.3 23"/><path d="M240.3 133.4Q279.7 74.5 350.6 72.9"/><path d="M240.9 133.9Q282.6 79.4 242.3 23.8"/><path d="M239.5 132.8Q277.7 81.1 215.4 65.2"/><path d="M241.1 134Q270.8 68.5 334.3 34.7"/><path d="M241.4 134.2Q294.4 85.6 303.1 14.1"/><path d="M240.9 133.9Q269.9 68.1 332.5 32.7"/></g>
<g stroke="url(#g171)" stroke-width="0.6"><path d="M346.1 104.5Q281.9 79.8 284.9 10.9"/><path d="M346.7 102.9Q288.6 61 217 59"/><path d="M346.9 102.4Q281.9 74.6 223.5 114.3"/><path d="M346.2 104.4Q287.9 78.9 340.2 42.7"/><path d="M346 104.8Q283.8 78.7 301.7 13.7"/><path d="M346.5 103.5Q285.7 78.3 317.3 20.4"/><path d="M346.5 103.6Q278.5 83.4 256.3 16.1"/><path d="M347 102.1Q286.7 78.2 326.4 26.9"/><path d="M346.6 103.3Q288.8 79.7 348.6 61.7"/><path d="M346.6 103.4Q284.3 82.6 273.6 147.3"/><path d="M346.7 103Q278.2 84.1 252.5 17.8"/><path d="M346.8 102.7Q275.4 93.9 224 43.6"/></g>
<g stroke="url(#g172)" stroke-width="0.6"><path d="M338.1 119.3Q271 93.7 231.1 34"/><path d="M339.1 117.8Q289.9 65.3 218.9 53.7"/><path d="M339.2 117.7Q284.8 79 322.1 23.6"/><path d="M338.6 118.6Q290.4 65.1 219.8 51.6"/><path d="M337.8 119.6Q270.4 95.8 227.3 38.7"/><path d="M337.8 119.7Q272.8 88.7 243.8 22.8"/><path d="M338.5 118.7Q279.5 80.9 284.8 10.9"/><path d="M338.4 118.9Q272.8 89.1 242.2 23.9"/><path d="M338.2 119.2Q287.5 79.8 344.2 49.8"/><path d="M337.8 119.7Q271.5 91.7 235.6 29.4"/></g>
<g stroke="url(#g173)" stroke-width="0.6"><path d="M334.6 123.8Q280.2 80.1 296.7 12.4"/><path d="M333.5 125Q283.8 79.2 322.2 23.6"/><path d="M333.6 124.9Q282.7 77.8 219.7 106.9"/><path d="M334.8 123.5Q282.5 81 233.9 127.8"/><path d="M333.7 124.8Q288 69.2 216.7 59.9"/><path d="M333.6 124.9Q292.4 66 224.2 43.3"/><path d="M334.7 123.7Q282.4 79.5 226.3 118.8"/><path d="M334.7 123.6Q285.3 72 214 76.3"/></g>
<g stroke="url(#g174)" stroke-width="0.6"><path d="M315.5 139.4Q270 83.5 272.6 11.6"/><path d="M315.2 139.5Q294.5 70.6 235.3 29.6"/><path d="M315.9 139.1Q287.8 73.4 219.5 52.3"/><path d="M316 139.1Q297.2 69.8 241.3 24.6"/><path d="M315.7 139.3Q265.3 88.2 252.7 17.7"/><path d="M315.8 139.2Q288.9 72.8 221.9 47.3"/></g>
<g stroke="url(#g175)" stroke-width="0.6"><path d="M305 144.1Q268.1 82.2 278.5 11"/><path d="M304.8 144.1Q294.9 72.8 241.7 24.3"/><path d="M303.3 144.6Q286.9 75.5 221.3 48.5"/><path d="M303.9 144.4Q284.3 80.3 346.9 56.3"/><path d="M304.2 144.4Q273.7 79.6 301.9 13.7"/><path d="M304.3 144.3Q281.2 82.4 221.1 109.9"/><path d="M303.2 144.7Q285.1 81 349.8 67.1"/><path d="M304.3 144.3Q283.9 80.1 345.2 52"/><path d="M302.7 144.8Q275.7 78.9 311.3 17.3"/><path d="M304.8 144.1Q278.3 78.9 320.7 22.6"/></g>
<g stroke="url(#g176)" stroke-width="0.6"><path d="M296.7 146.4Q282.2 79.6 213.9 77.2"/><path d="M296.2 146.5Q287.1 76.1 224.3 43.2"/><path d="M297.1 146.3Q267.3 80.8 284.7 10.9"/><path d="M296.4 146.5Q280.8 82.3 218.2 103.4"/><path d="M296.8 146.4Q280.7 83 221.4 110.5"/><path d="M296.9 146.3Q283.5 78.3 215.4 65.2"/><path d="M296.7 146.4Q281.8 80.2 214 83.3"/><path d="M294.7 146.8Q295.5 74.8 249.9 19.1"/><path d="M297.2 146.3Q302.4 75 267.4 12.6"/><path d="M295.7 146.6Q283.6 78.3 215.9 63.1"/><path d="M296.6 146.4Q275.4 78.4 315.6 19.5"/><path d="M294.3 146.9Q285 77.4 219.3 52.7"/><path d="M297.5 146.2Q265.5 81.8 278 11"/><path d="M296.1 146.5Q285.9 76.7 221.1 48.8"/><path d="M297 146.3Q264 82.6 273.5 11.5"/><path d="M294.1 146.9Q282.2 79.6 214 74.9"/><path d="M294.5 146.8Q283.2 78.6 215.4 65"/><path d="M297.2 146.3Q276 78.4 317.3 20.4"/><path d="M297.3 146.3Q283.5 78.3 215.4 65.4"/><path d="M295.3 146.7Q280.8 84.6 233.5 127.4"/><path d="M297.7 146.2Q283.9 77.9 216.1 62.4"/><path d="M295.8 146.6Q280.7 82.6 219.5 106.6"/></g></g>
<g fill="none"><circle cx="460.7" cy="79.5" r="69.3" fill="none" stroke="#b8b8b8" stroke-width="0.7" stroke-dasharray="0.8 2.1"/>
<g stroke="url(#g177)" stroke-width="0.55"><path d="M459.6 10.5Q442.7 80.8 469.8 147.9"/><path d="M459.8 10.5Q463.2 74.4 515.1 37"/></g>
<g stroke="url(#g178)" stroke-width="0.55"><path d="M465 10.6Q461.2 79.9 394.2 97.8"/></g>
<g stroke="url(#g179)" stroke-width="0.55"><path d="M471 11.3Q461.8 78.8 527.1 98.2"/></g>
<g stroke="url(#g180)" stroke-width="0.55"><path d="M485.8 15.2Q459.7 74.8 412.5 30.2"/><path d="M484.9 14.9Q459.9 74.2 419.2 24.4"/></g>
<g stroke="url(#g181)" stroke-width="0.55"><path d="M496.5 20.5Q465.5 76.4 529.2 71.1"/></g>
<g stroke="url(#g182)" stroke-width="0.55"><path d="M498.7 21.9Q465.7 85.9 395.6 102.4"/></g>
<g stroke="url(#g183)" stroke-width="0.55"><path d="M502.7 24.8Q464.1 85.1 392.6 90.6"/><path d="M502.8 24.8Q466.2 87.1 395.8 102.8"/></g>
<g stroke="url(#g184)" stroke-width="0.55"><path d="M507.6 28.9Q466.2 76.9 529.6 76.1"/><path d="M508 29.3Q471.7 92 405.1 120.3"/></g>
<g stroke="url(#g185)" stroke-width="0.55"><path d="M510.7 31.9Q466.4 77.1 529.7 77.4"/></g>
<g stroke="url(#g186)" stroke-width="0.55"><path d="M515 36.9Q464.8 89 392.5 89.8"/><path d="M515.1 37Q463.9 87.9 391.9 84.3"/></g>
<g stroke="url(#g187)" stroke-width="0.55"><path d="M517.5 40.3Q449.5 65.2 408.7 124.9"/></g>
<g stroke="url(#g188)" stroke-width="0.55"><path d="M522.5 48.9Q462.2 88.6 392.2 70.9"/><path d="M522.7 49.2Q458.9 78.3 459 148.5"/></g>
<g stroke="url(#g189)" stroke-width="0.55"><path d="M525.6 56.1Q467.3 78.9 528.7 91.1"/><path d="M525.6 56.2Q463.1 80.6 486.6 143.5"/></g>
<g stroke="url(#g190)" stroke-width="0.55"><path d="M527.3 61.6Q455.1 67.9 405.2 120.5"/></g>
<g stroke="url(#g191)" stroke-width="0.55"><path d="M528.6 67.5Q458.4 76.4 431 141.8"/></g>
<g stroke="url(#g192)" stroke-width="0.55"><path d="M529.3 71.7Q461.2 96.5 391.8 75.9"/></g>
<g stroke="url(#g193)" stroke-width="0.55"><path d="M529.6 76.8Q458.5 75.2 418.7 134.2"/></g>
<g stroke="url(#g194)" stroke-width="0.55"><path d="M529.6 83.7Q457.9 85.7 412.4 30.2"/></g>
<g stroke="url(#g195)" stroke-width="0.55"><path d="M528.5 92.4Q460.6 79.4 429.2 140.9"/><path d="M528.6 91.8Q464.3 59.3 392.7 67.7"/></g>
<g stroke="url(#g196)" stroke-width="0.55"><path d="M527.1 98.4Q455 90.9 406.1 37.3"/><path d="M527.1 98.1Q459.9 74.1 402.1 116"/></g>
<g stroke="url(#g197)" stroke-width="0.55"><path d="M525.6 102.8Q461.9 78.9 475.9 12.2"/><path d="M525.6 102.9Q464.3 64.2 392.2 71.4"/></g>
<g stroke="url(#g198)" stroke-width="0.55"><path d="M519.5 115.6Q452.6 87.9 422.7 21.9"/></g>
<g stroke="url(#g199)" stroke-width="0.55"><path d="M516.5 120.1Q464.5 69.9 392.2 71.6"/><path d="M516.6 119.9Q461.6 82.9 431.4 142"/></g>
<g stroke="url(#g200)" stroke-width="0.55"><path d="M511.1 126.6Q462.6 84.8 452.1 148"/><path d="M510.4 127.4Q460.8 79.1 399.8 112"/></g>
<g stroke="url(#g201)" stroke-width="0.55"><path d="M506.1 131.4Q465.9 71.5 394.6 59.8"/></g>
<g stroke="url(#g202)" stroke-width="0.55"><path d="M502.2 134.7Q446.9 87.7 431.8 16.8"/><path d="M502.3 134.6Q459.9 79.5 497.9 21.4"/></g>
<g stroke="url(#g203)" stroke-width="0.55"><path d="M495.4 139.1Q453 81 470.2 11.2"/><path d="M495.4 139.2Q468.5 71.9 402.3 42.8"/></g>
<g stroke="url(#g204)" stroke-width="0.55"><path d="M489.1 142.4Q450.1 81.4 465.2 10.6"/></g>
<g stroke="url(#g205)" stroke-width="0.55"><path d="M486.3 143.6Q474.8 72 422 22.4"/><path d="M486.7 143.4Q443.5 85.4 441.9 13.1"/></g>
<g stroke="url(#g206)" stroke-width="0.55"><path d="M471 147.7Q468.5 75.7 412.9 29.7"/></g>
<g stroke="url(#g207)" stroke-width="0.55"><path d="M467.5 148.2Q460.8 79.5 525.2 55.1"/></g>
<g stroke="url(#g208)" stroke-width="0.55"><path d="M459.3 148.5Q460 79 525.8 56.6"/><path d="M458.9 148.5Q465.4 77.5 409.7 33"/></g>
<g stroke="url(#g209)" stroke-width="0.55"><path d="M456.6 148.4Q445.2 76.8 480.1 13.3"/><path d="M457.1 148.4Q467.9 77.3 419.9 23.9"/></g>
<g stroke="url(#g210)" stroke-width="0.55"><path d="M450.5 147.7Q469.6 78.2 430.9 17.2"/></g>
<g stroke="url(#g211)" stroke-width="0.55"><path d="M447.4 147.2Q461.7 79.1 402.8 41.9"/><path d="M447.8 147.3Q475.4 80.2 454.4 10.8"/></g>
<g stroke="url(#g212)" stroke-width="0.55"><path d="M439.5 145.2Q463.1 79 413.3 29.4"/><path d="M439.7 145.2Q455.3 75.2 520 44.3"/></g>
<g stroke="url(#g213)" stroke-width="0.55"><path d="M437.8 144.6Q449.2 73 504.8 26.4"/><path d="M437.9 144.6Q478.5 84.8 477.1 12.5"/></g>
<g stroke="url(#g214)" stroke-width="0.55"><path d="M432.2 142.3Q454.2 73.7 520.2 44.6"/><path d="M431.7 142.1Q457 85.2 415.2 131.4"/></g>
<g stroke="url(#g215)" stroke-width="0.55"><path d="M421.1 136Q460.4 84.4 494.3 139.8"/></g>
<g stroke="url(#g216)" stroke-width="0.55"><path d="M418.8 134.3Q460.8 83.1 506.3 131.3"/></g>
<g stroke="url(#g217)" stroke-width="0.55"><path d="M414.9 131.1Q460.6 78.9 524.5 105.9"/></g>
<g stroke="url(#g218)" stroke-width="0.55"><path d="M411.9 128.3Q474.1 91.4 503.1 25.1"/><path d="M411.7 128Q466.9 82.3 464.5 10.6"/></g>
<g stroke="url(#g219)" stroke-width="0.55"><path d="M405.1 120.3Q459.9 75 527.3 97.6"/></g>
<g stroke="url(#g220)" stroke-width="0.55"><path d="M402.2 116.1Q465 82.4 471.8 11.4"/><path d="M402.5 116.6Q456.8 68.6 529.2 71.2"/></g>
<g stroke="url(#g221)" stroke-width="0.55"><path d="M399.9 112.1Q470.2 95.3 517.9 41"/></g>
<g stroke="url(#g222)" stroke-width="0.55"><path d="M394.1 97.7Q465.7 87.9 508 29.3"/><path d="M394 97Q465.2 86.4 503.6 25.4"/></g>
<g stroke="url(#g223)" stroke-width="0.55"><path d="M392.6 90.8Q456.3 77.6 422.9 21.8"/><path d="M392.6 90.4Q455 78 407.2 35.9"/></g>
<g stroke="url(#g224)" stroke-width="0.55"><path d="M392.1 86.9Q464.4 93.2 524 51.9"/></g>
<g stroke="url(#g225)" stroke-width="0.55"><path d="M391.8 75.6Q454.4 81 400.4 113.1"/></g>
<g stroke="url(#g226)" stroke-width="0.55"><path d="M392.2 71.2Q455.9 81.5 419.2 134.6"/></g>
<g stroke="url(#g227)" stroke-width="0.55"><path d="M392.9 66.7Q461.9 84.3 514.2 35.9"/><path d="M392.9 67Q464.5 59.2 528.5 92.2"/></g>
<g stroke="url(#g228)" stroke-width="0.55"><path d="M394.3 60.7Q465.7 71.6 506.4 131.2"/></g>
<g stroke="url(#g229)" stroke-width="0.55"><path d="M399.4 47.7Q460.5 84.2 524 52.1"/></g>
<g stroke="url(#g230)" stroke-width="0.55"><path d="M405.3 38.4Q455 91.1 527.2 97.7"/><path d="M405.5 38.2Q468.4 73.6 486.2 143.6"/></g>
<g stroke="url(#g231)" stroke-width="0.55"><path d="M406.5 36.8Q470.9 70.1 498.7 137.1"/><path d="M406.6 36.7Q460.7 78.5 511.5 32.8"/></g>
<g stroke="url(#g232)" stroke-width="0.55"><path d="M410 32.7Q456.6 79.1 401.7 115.2"/></g>
<g stroke="url(#g233)" stroke-width="0.55"><path d="M419.2 24.4Q464.5 78.8 440.1 145.4"/></g>
<g stroke="url(#g234)" stroke-width="0.55"><path d="M422.6 22Q463.8 79.3 432 142.3"/></g>
<g stroke="url(#g235)" stroke-width="0.55"><path d="M427.4 19.1Q466 79 438.2 144.7"/></g>
<g stroke="url(#g236)" stroke-width="0.55"><path d="M431.6 16.9Q461 79.6 409.6 125.8"/></g>
<g stroke="url(#g237)" stroke-width="0.55"><path d="M437.7 14.4Q468.3 79.5 437.3 144.4"/><path d="M437.8 14.4Q477.5 75 473.6 147.3"/></g>
<g stroke="url(#g238)" stroke-width="0.55"><path d="M444.6 12.4Q462.2 74.5 510.9 32.2"/><path d="M445.3 12.2Q461.2 78.8 529.6 76.1"/></g>
<g stroke="url(#g239)" stroke-width="0.55"><path d="M449.8 11.4Q455.7 82.6 517 119.3"/><path d="M450 11.3Q457.4 75.3 396.9 53.3"/></g>
<g stroke="url(#g240)" stroke-width="0.55"><path d="M455.5 10.7Q445.3 82.5 481.4 145.3"/><path d="M455.1 10.7Q461.4 78.8 529.4 85.6"/></g>
<g stroke="url(#g241)" stroke-width="0.5"><path d="M440.9 13.4Q452.2 84.8 511.5 126.2"/><path d="M441.6 13.2Q453.1 84.4 513.4 124"/><path d="M443 12.8Q458 77.7 392.3 88.4"/><path d="M442.9 12.8Q463.9 80.3 414.4 130.7"/><path d="M442.4 13Q457 74.9 399.2 48.1"/><path d="M442.7 12.9Q453 84.3 512.6 125"/><path d="M441.2 13.3Q457.8 73.3 422.9 21.8"/><path d="M439.8 13.7Q461.9 74.7 510 31.2"/><path d="M440.2 13.6Q459.2 81.2 528.6 92"/><path d="M442.3 13Q468 80.1 432 142.2"/><path d="M442.1 13.1Q446.6 85.4 495.1 139.3"/><path d="M442.5 12.9Q475.4 77.6 460.2 148.5"/><path d="M443.1 12.8Q457.3 76.5 392.1 71.8"/><path d="M440.9 13.4Q469 79.7 437.4 144.4"/><path d="M440.3 13.6Q459.9 72.8 464.6 10.6"/><path d="M442.6 12.9Q460.4 79.9 529.6 83.3"/><path d="M440.2 13.6Q455.3 83.8 519.9 115"/><path d="M441 13.4Q458.6 81.7 527.3 97.5"/><path d="M439.8 13.7Q458.3 82 527 98.6"/><path d="M439.6 13.8Q461.5 73.8 498.8 22"/><path d="M441.1 13.4Q457.3 76.8 391.8 76.7"/><path d="M441 13.4Q475 77.4 460.6 148.5"/><path d="M443.4 12.7Q454.7 83.6 517.2 119.1"/><path d="M441.3 13.3Q459.3 81 528.5 92.3"/><path d="M440.8 13.4Q460.9 79.2 529.6 75.7"/><path d="M442.4 13Q449.1 85.2 501.8 134.9"/><path d="M441.3 13.3Q453 84.5 513.5 123.9"/><path d="M440.4 13.6Q449.9 85.4 505.2 132.2"/><path d="M442 13.1Q443.8 85.4 487.6 143"/><path d="M442.2 13Q441.2 85.1 480.3 145.7"/><path d="M439.4 13.9Q461.6 74 502 24.2"/><path d="M440.1 13.7Q461.8 74.4 506.9 28.3"/><path d="M442.1 13.1Q456.1 83.2 521.2 112.6"/><path d="M443.4 12.7Q472 79.2 446.7 147.1"/><path d="M443.2 12.8Q448.7 85.1 500.2 136.1"/><path d="M440.6 13.5Q463.5 80.1 414.4 130.6"/></g>
<g stroke="url(#g242)" stroke-width="0.6"><path d="M523 49.7Q452.2 65.1 404.7 119.9"/><path d="M523 49.9Q451.9 62.2 400.1 112.5"/><path d="M524.1 52.3Q453.4 68.2 410 126.2"/><path d="M524.2 52.6Q460.8 79.2 419.7 24"/><path d="M523.9 51.8Q453.2 67.9 409.6 125.9"/><path d="M523.6 51.2Q453.2 68.6 411.5 127.9"/><path d="M523.7 51.5Q452.7 66 405.7 121.2"/><path d="M524.2 52.5Q462.1 89.6 392.2 71"/><path d="M523.6 51Q465.2 94.1 392.7 91.4"/><path d="M524.2 52.5Q465.4 80.3 510.8 126.9"/><path d="M524.3 52.7Q461.2 87.4 394.1 61.5"/><path d="M523.3 50.4Q463.8 91.8 391.8 83"/><path d="M524.5 53.2Q467.9 97.9 395.9 103.2"/><path d="M524.5 53.3Q460.7 79.4 418.7 24.7"/><path d="M523.5 51Q457.7 77.1 447.6 147.3"/><path d="M524.6 53.6Q456.2 74.7 431.7 142.1"/><path d="M523 49.8Q456.4 75.8 439.6 145.2"/><path d="M523.3 50.4Q459.2 78.6 460.3 148.5"/><path d="M524.1 52.2Q462.8 90.9 391.8 76.8"/><path d="M523.2 50.4Q452.8 67.7 409.9 126.2"/><path d="M523.9 51.8Q466.3 95.7 393.9 96.8"/><path d="M524 52Q460.4 82.9 402.9 41.7"/><path d="M523.2 50.2Q453.5 70 415.9 132"/><path d="M524.4 53Q456.2 74.9 432.9 142.6"/></g>
<g stroke="url(#g243)" stroke-width="0.6"><path d="M520.2 44.5Q457.7 77.6 456.2 148.4"/><path d="M519.1 42.7Q470.5 96.2 400.2 112.7"/><path d="M520 44.2Q461.4 85.1 394.5 60.2"/><path d="M519.9 44.1Q467.9 94.5 396 103.4"/><path d="M519.7 43.8Q450.1 62.5 402.7 116.9"/><path d="M520 44.2Q461.9 86.4 392.9 66.5"/><path d="M519.2 42.9Q464.6 90.5 392.2 87.6"/><path d="M519.9 44Q464.7 79.9 511 126.7"/></g>
<g stroke="url(#g244)" stroke-width="0.6"><path d="M476.9 12.4Q463.5 77.4 529.6 83.5"/><path d="M477.2 12.5Q478.2 84.8 437.3 144.4"/><path d="M477 12.5Q452.8 80.2 489 142.4"/><path d="M477.4 12.6Q444.5 77.1 457.3 148.4"/><path d="M476.5 12.3Q452.8 80.3 489.4 142.3"/></g>
<g stroke="url(#g245)" stroke-width="0.6"><path d="M480.7 13.5Q459.3 75.1 407.1 36"/><path d="M480.8 13.5Q465.3 83.3 399.4 111.2"/><path d="M480.3 13.4Q478.8 85.6 436.6 144.1"/><path d="M480.7 13.5Q456.1 80.2 499.3 136.7"/><path d="M480.6 13.4Q479.7 85.6 438.8 144.9"/></g>
<g stroke="url(#g246)" stroke-width="0.6"><path d="M491.4 17.7Q448.6 76.2 456.1 148.3"/><path d="M490.6 17.3Q461.5 79.3 516.3 120.3"/><path d="M490.7 17.4Q471.7 87.4 411.8 128.2"/><path d="M490.5 17.3Q460.5 74 427.2 19.2"/><path d="M490.9 17.5Q444.4 72.9 439.3 145.1"/><path d="M491.2 17.6Q449 76.6 458.1 148.5"/></g>
<g stroke="url(#g247)" stroke-width="0.6"><path d="M505.1 26.7Q445.5 67.4 419.3 134.7"/><path d="M504.9 26.6Q462.3 73.8 450 11.3"/><path d="M505.6 27.1Q457.4 78.8 479.7 145.8"/><path d="M505.1 26.7Q458.6 79.2 487.1 143.3"/><path d="M505.2 26.8Q468.7 89.4 399.9 112.1"/></g>
<g stroke="url(#g248)" stroke-width="0.6"><path d="M529.3 86.6Q457.5 86.1 412.8 29.8"/><path d="M529.3 86.7Q457.2 93.7 396.7 53.6"/><path d="M529.3 86.5Q459.6 77.1 420.8 135.8"/><path d="M529.4 86.2Q464.7 82.5 486.6 143.5"/><path d="M529.3 86.8Q462.5 81.6 458.2 148.5"/></g>
<g stroke="url(#g249)" stroke-width="0.55"><path d="M402.5 42.4Q460.7 81.4 519.6 43.5"/><path d="M403.5 40.9Q459.3 75.6 481.4 13.7"/><path d="M402.3 42.8Q459.1 86.8 529.1 70.4"/><path d="M402.8 42Q450.3 96.3 520 114.7"/><path d="M403 41.7Q460.7 79.9 514.4 36.2"/><path d="M402.6 42.3Q460.5 78.2 505.1 26.7"/><path d="M402.6 42.3Q460.2 77.4 498.8 21.9"/><path d="M403.1 41.6Q456.2 79.6 404.6 119.7"/></g>
<g stroke="url(#g250)" stroke-width="0.6"><path d="M413.4 29.2Q454.8 88.6 526 101.9"/><path d="M413.4 29.3Q460 75.1 491 17.5"/><path d="M413.5 29.2Q465.2 78.1 451.5 147.9"/><path d="M412.9 29.7Q459.7 74.7 485.6 15.1"/><path d="M413.5 29.2Q453.8 89.4 524.2 106.4"/></g>
<g stroke="url(#g251)" stroke-width="0.6"><path d="M396.5 54.2Q467.7 68 512.7 124.9"/><path d="M396.5 54.2Q467.5 68.8 510.8 127"/><path d="M396.3 54.7Q460.2 88.1 527.5 62.4"/><path d="M396.7 53.8Q462.4 78.2 467.3 148.2"/><path d="M396.4 54.5Q466.5 71.9 501.8 134.9"/></g>
<g stroke="url(#g252)" stroke-width="0.6"><path d="M391.8 83.5Q462.8 73.3 513.7 123.7"/><path d="M391.8 83.9Q457.7 82.1 447.6 147.2"/><path d="M391.8 82.3Q463.2 84.6 506 27.5"/><path d="M391.8 83Q460.3 79 471.4 11.3"/><path d="M391.8 83.2Q459.4 81 467.6 148.2"/><path d="M391.8 82.7Q456.3 82.3 429.2 140.9"/><path d="M391.8 82.8Q462.9 70.9 519.4 115.7"/><path d="M391.7 82.1Q462.9 73.3 512.9 124.6"/><path d="M391.9 84.3Q462.7 70.3 521.2 112.6"/><path d="M391.8 83.7Q463.3 84.6 504.9 26.5"/><path d="M391.9 84.1Q462.6 73.8 512.5 125.1"/><path d="M391.8 83.9Q462.8 72.2 516.9 119.5"/></g>
<g stroke="url(#g253)" stroke-width="0.6"><path d="M396 103.5Q453.8 60.4 525.8 56.7"/><path d="M396 103.5Q468 96.3 522.5 48.8"/><path d="M396 103.5Q460 81.2 488.1 142.8"/><path d="M395.7 102.8Q454.3 79.7 394.6 59.8"/><path d="M396 103.6Q455.4 62.2 527.7 63"/><path d="M396 103.5Q455.1 61.9 527.4 61.9"/></g>
<g stroke="url(#g254)" stroke-width="0.6"><path d="M409.9 126.2Q457.8 85.1 452.1 148"/><path d="M409.9 126.2Q460.4 77.8 524.5 105.7"/><path d="M408.6 124.8Q474.1 94.5 511.5 32.8"/><path d="M409.1 125.3Q459.5 79.3 422.2 22.2"/><path d="M410.3 126.6Q453 68 523.5 50.8"/><path d="M410 126.3Q469.3 84.9 481.2 13.6"/><path d="M410.3 126.6Q460.4 78.1 524.2 106.5"/><path d="M409.7 125.9Q472.3 89.4 498.7 21.9"/></g>
<g stroke="url(#g255)" stroke-width="0.6"><path d="M427.8 140.2Q455.9 74.1 525.1 54.8"/><path d="M428.6 140.6Q444.8 70.1 498.6 21.8"/><path d="M427.9 140.2Q476.7 86.7 484.6 14.8"/><path d="M427.9 140.2Q459.7 85.7 472 147.6"/><path d="M428.5 140.6Q459.4 77.4 529.7 77.9"/></g>
<g stroke="url(#g256)" stroke-width="0.6"><path d="M520.9 113.2Q455.2 84.1 437.2 14.6"/><path d="M521.6 112Q461.5 72.9 393.9 96.9"/><path d="M520.4 114Q450.9 94 406.5 36.8"/><path d="M520.8 113.4Q464.6 67.7 392.2 71.4"/><path d="M520.4 114.2Q462.7 83.6 450.7 147.8"/><path d="M520.2 114.4Q450.3 96.5 402.5 42.5"/><path d="M520.1 114.5Q464 78.9 504.6 26.3"/><path d="M521.2 112.6Q462.8 83.6 452 148"/><path d="M520.1 114.6Q464 68.8 391.9 74.8"/><path d="M521.5 112.2Q458.7 80.7 460.6 10.5"/></g>
<g stroke="url(#g257)" stroke-width="0.6"><path d="M524.1 106.8Q464.5 83.8 480.1 145.7"/><path d="M524.2 106.5Q457.1 82.8 440.5 13.5"/><path d="M524.2 106.5Q464.3 65.6 392.1 72.4"/><path d="M524.2 106.6Q460.4 75.8 402.2 116.1"/><path d="M524.3 106.3Q460.4 75.8 402.4 116.4"/></g>
<g stroke="url(#g258)" stroke-width="0.6"><path d="M513 124.5Q460.7 80.7 408.7 124.9"/><path d="M512.5 125.1Q460.7 79.5 490.5 17.3"/><path d="M512.3 125.4Q461 82.4 419.2 134.7"/><path d="M513.2 124.3Q454.2 83.2 449.1 11.5"/><path d="M512.9 124.6Q460.8 81.6 414.3 130.6"/><path d="M513.3 124.2Q466.3 69 394.4 60.5"/><path d="M512.5 125.1Q461.4 83.3 428.2 140.4"/><path d="M513.3 124.2Q449.7 89.4 422.1 22.3"/><path d="M513.3 124.1Q463 79.3 505.7 27.2"/><path d="M514 123.3Q466.7 82 529.4 86.4"/></g>
<g stroke="url(#g259)" stroke-width="0.6"><path d="M498 137.5Q461.5 77.9 392.2 88.2"/><path d="M499.2 136.8Q466.2 72.6 396.4 54.5"/><path d="M498.3 137.3Q449.3 83.9 449.2 11.5"/><path d="M499.8 136.4Q463.9 74.5 392.8 67.5"/><path d="M499.6 136.5Q476.9 68 419.8 24"/><path d="M499.1 136.9Q460.6 83.9 419 134.5"/><path d="M499.6 136.5Q470.5 70.1 405.1 38.6"/><path d="M500.4 136Q461.4 77.9 392.7 91.1"/><path d="M500.5 135.9Q465.3 73.1 394.6 59.6"/><path d="M499.2 136.8Q448.1 85.3 442.2 13"/><path d="M498.4 137.3Q461.9 77.1 391.8 83.5"/><path d="M498.8 137Q461.8 85.4 446.5 147"/></g>
<g stroke="url(#g260)" stroke-width="0.6"><path d="M480.9 145.5Q465.4 75.6 399.9 47"/><path d="M481.1 145.4Q460.5 79.4 517.8 40.7"/><path d="M480.3 145.7Q452.3 79.2 484.2 14.6"/><path d="M480.9 145.5Q446.5 81.6 460.6 10.5"/><path d="M481.4 145.3Q464.5 82.8 528.6 91.8"/><path d="M480.5 145.6Q461.6 78.4 392.2 71.2"/><path d="M480.1 145.7Q461.4 78.6 392.1 72.5"/><path d="M479.2 146Q441.3 84.6 444 12.5"/><path d="M480.7 145.5Q445.2 82.3 456.2 10.6"/><path d="M481.7 145.2Q446.5 81.8 459.7 10.5"/></g>
<g stroke="url(#g261)" stroke-width="0.6"><path d="M473.4 147.3Q463.2 77.4 396.7 53.6"/><path d="M473.7 147.3Q460.6 79.7 391.8 75.5"/><path d="M471.9 147.6Q459.2 85.3 418.7 134.3"/><path d="M474.5 147.1Q472.2 74.6 422 22.4"/><path d="M471.7 147.6Q462 78.3 394.4 60.4"/><path d="M474.5 147.1Q459.1 84.7 412.1 128.5"/><path d="M472 147.6Q461.9 78.4 394.2 61"/><path d="M471.6 147.6Q474.8 75.2 431.8 16.9"/><path d="M474.1 147.2Q459.3 81.8 393.8 96.5"/><path d="M474.4 147.1Q462.3 78 394.4 60.2"/><path d="M473.6 147.3Q449.1 79.1 477.9 12.7"/><path d="M472 147.6Q478 75.5 440.8 13.4"/><path d="M474.6 147.1Q461 79.2 392.1 72"/><path d="M474.2 147.2Q463.1 77.5 396.2 55"/><path d="M472.1 147.6Q459.7 80.7 391.9 84.3"/><path d="M471.8 147.6Q460.3 79.9 391.8 76.3"/><path d="M474.2 147.2Q447.4 79.8 471.2 11.3"/><path d="M473.5 147.3Q465.7 76.2 403.3 41.1"/><path d="M474.6 147.1Q460.6 79.6 391.8 75.9"/><path d="M474.2 147.2Q459 84.1 405.6 121"/></g></g>
<g fill="none"><circle cx="102.7" cy="232.2" r="68.9" fill="none" stroke="#b8b8b8" stroke-width="0.7" stroke-dasharray="0.8 2.1"/>
<g stroke="url(#g262)" stroke-width="0.55"><path d="M102.3 163.6Q106.8 234.1 49.3 275.2"/><path d="M101.9 163.6Q100.1 233.7 161.5 267.6"/></g>
<g stroke="url(#g263)" stroke-width="0.55"><path d="M108.4 163.8Q121.8 234.4 93 300.1"/><path d="M109 163.9Q106.1 234.3 43.8 267.4"/></g>
<g stroke="url(#g264)" stroke-width="0.55"><path d="M111.6 164.2Q104.9 230.4 171.2 235.3"/><path d="M111.6 164.2Q108.1 235.3 48.9 274.7"/></g>
<g stroke="url(#g265)" stroke-width="0.55"><path d="M122.1 166.4Q96.8 232.9 136.1 292.1"/><path d="M122.8 166.6Q94.4 232.4 125.6 296.9"/></g>
<g stroke="url(#g266)" stroke-width="0.55"><path d="M132.4 170.4Q103.4 226 87.7 165.3"/></g>
<g stroke="url(#g267)" stroke-width="0.55"><path d="M136.6 172.6Q106.2 236.8 36.2 249"/><path d="M135.8 172.1Q93.2 230 105.5 300.7"/></g>
<g stroke="url(#g268)" stroke-width="0.55"><path d="M140.2 174.8Q102.8 232.2 148.4 283.4"/><path d="M139.9 174.6Q87.3 223.6 73.3 294.2"/></g>
<g stroke="url(#g269)" stroke-width="0.55"><path d="M145.6 178.7Q102.7 228.6 59.1 179.2"/><path d="M145.5 178.6Q86.7 219.5 60.1 286"/></g>
<g stroke="url(#g270)" stroke-width="0.55"><path d="M148 180.7Q109.3 241.4 39.3 258.5"/></g>
<g stroke="url(#g271)" stroke-width="0.55"><path d="M153.2 185.8Q105.3 232.3 151 280.9"/><path d="M152.8 185.3Q93.2 225.8 77.8 296.1"/></g>
<g stroke="url(#g272)" stroke-width="0.55"><path d="M155.1 187.9Q115.5 247.7 49.4 275.4"/><path d="M154.9 187.6Q95.6 227.9 87.4 299.1"/></g>
<g stroke="url(#g273)" stroke-width="0.55"><path d="M158.1 191.7Q94.7 225.7 74.4 294.7"/></g>
<g stroke="url(#g274)" stroke-width="0.55"><path d="M161 196.1Q103.1 236.4 38.8 207.4"/><path d="M160.7 195.5Q92.5 218.8 51.9 278.3"/></g>
<g stroke="url(#g275)" stroke-width="0.55"><path d="M167.8 210.7Q105.1 233.3 127.7 296.1"/><path d="M167.9 210.9Q102.5 232.1 104.1 300.8"/></g>
<g stroke="url(#g276)" stroke-width="0.55"><path d="M169 214.4Q103.5 244.5 34.8 222.7"/><path d="M168.8 213.8Q105.1 229 101.9 163.6"/></g>
<g stroke="url(#g277)" stroke-width="0.55"><path d="M170.1 219.7Q103.1 246.2 34.7 223.4"/><path d="M170.1 219.3Q98.2 222.6 49.6 275.6"/></g>
<g stroke="url(#g278)" stroke-width="0.55"><path d="M171.1 226.4Q101 237.1 53 185"/></g>
<g stroke="url(#g279)" stroke-width="0.55"><path d="M171.3 231Q104.2 230.7 100.1 163.7"/><path d="M171.3 230.8Q101.7 249.3 34.7 222.9"/></g>
<g stroke="url(#g280)" stroke-width="0.55"><path d="M169.9 245.8Q102.3 232.6 94.1 164.1"/><path d="M170 245.5Q106.8 235.6 128.2 295.9"/></g>
<g stroke="url(#g281)" stroke-width="0.55"><path d="M169.2 249Q101.8 227.7 47.8 273.3"/></g>
<g stroke="url(#g282)" stroke-width="0.55"><path d="M167.5 254.9Q107 231 146.3 179.2"/></g>
<g stroke="url(#g283)" stroke-width="0.55"><path d="M166 258.6Q102.6 226.5 39.9 259.8"/><path d="M165.7 259.4Q102.4 232.4 109.3 163.9"/></g>
<g stroke="url(#g284)" stroke-width="0.55"><path d="M164 263Q106.8 236.7 127.4 296.2"/></g>
<g stroke="url(#g285)" stroke-width="0.55"><path d="M158.2 272.5Q97.7 235.2 92.8 164.3"/></g>
<g stroke="url(#g286)" stroke-width="0.55"><path d="M151.4 280.5Q88.7 245.7 56.4 181.6"/></g>
<g stroke="url(#g287)" stroke-width="0.55"><path d="M149.1 282.7Q112.8 220.4 45.9 193.8"/><path d="M149 282.8Q105.1 238 105.9 300.7"/></g>
<g stroke="url(#g288)" stroke-width="0.55"><path d="M145.6 285.7Q118.1 219.5 58.4 179.8"/><path d="M145.7 285.7Q106.1 232.9 162.8 199.2"/></g>
<g stroke="url(#g289)" stroke-width="0.55"><path d="M139.3 290.2Q116.9 221.8 58.7 179.6"/></g>
<g stroke="url(#g290)" stroke-width="0.55"><path d="M132.4 294Q107.2 227.4 38.8 207.2"/><path d="M132 294.2Q96.2 232.6 123.7 166.9"/></g>
<g stroke="url(#g291)" stroke-width="0.55"><path d="M127.1 296.3Q114.4 225.3 58.6 179.7"/><path d="M127.4 296.2Q118.7 224.8 69.8 172"/></g>
<g stroke="url(#g292)" stroke-width="0.55"><path d="M111.7 300.2Q87.4 232.3 110.4 164"/></g>
<g stroke="url(#g293)" stroke-width="0.55"><path d="M106.8 300.7Q83.4 232.8 102.4 163.6"/><path d="M106 300.7Q98 230.3 152.2 184.7"/></g>
<g stroke="url(#g294)" stroke-width="0.55"><path d="M103.5 300.8Q109 229.7 56.2 181.8"/><path d="M103.8 300.8Q93.8 229.7 139.1 174.1"/></g>
<g stroke="url(#g295)" stroke-width="0.55"><path d="M97 300.6Q105.5 230.9 47.8 191.1"/></g>
<g stroke="url(#g296)" stroke-width="0.55"><path d="M93.6 300.2Q91.8 228.2 139.8 174.5"/><path d="M94.5 300.3Q82.8 229.6 112.3 164.3"/></g>
<g stroke="url(#g297)" stroke-width="0.55"><path d="M88.7 299.4Q101.6 232.8 37.8 209.9"/><path d="M89 299.4Q93.1 227.6 146.4 179.4"/></g>
<g stroke="url(#g298)" stroke-width="0.55"><path d="M84.2 298.3Q100.5 230 168.6 213"/></g>
<g stroke="url(#g299)" stroke-width="0.55"><path d="M76.8 295.7Q93.1 225.6 152.9 185.4"/></g>
<g stroke="url(#g300)" stroke-width="0.55"><path d="M67.7 291.2Q102.2 231.1 170.7 241.6"/></g>
<g stroke="url(#g301)" stroke-width="0.55"><path d="M65.7 290Q98.7 226.7 168.9 214"/><path d="M65.4 289.8Q89.1 221.8 148.4 181.1"/></g>
<g stroke="url(#g302)" stroke-width="0.55"><path d="M56.6 283Q98.2 233.3 38 209.4"/><path d="M55.9 282.3Q91.8 219.9 158.1 191.7"/></g>
<g stroke="url(#g303)" stroke-width="0.55"><path d="M49.3 275.2Q98 232.7 41.8 200.7"/><path d="M48.8 274.7Q100.5 225.5 171.2 235.5"/></g>
<g stroke="url(#g304)" stroke-width="0.55"><path d="M47.3 272.7Q96.8 233.6 34.9 222.1"/></g>
<g stroke="url(#g305)" stroke-width="0.55"><path d="M43.7 267.2Q112.2 244.9 152.9 185.5"/></g>
<g stroke="url(#g306)" stroke-width="0.55"><path d="M42.2 264.5Q105.8 234.3 111.1 164.1"/></g>
<g stroke="url(#g307)" stroke-width="0.55"><path d="M39.6 259.1Q100 231.2 70.6 171.6"/></g>
<g stroke="url(#g308)" stroke-width="0.55"><path d="M38.1 255.2Q106.8 236.7 132.2 170.3"/></g>
<g stroke="url(#g309)" stroke-width="0.55"><path d="M36.4 249.8Q102.4 232 101.1 163.6"/></g>
<g stroke="url(#g310)" stroke-width="0.55"><path d="M35.5 246.1Q104.9 234.9 128.8 168.8"/><path d="M35.6 246.4Q99.8 235.4 94.3 300.3"/></g>
<g stroke="url(#g311)" stroke-width="0.55"><path d="M34.1 234.7Q103.1 231.6 128.1 295.9"/><path d="M34.1 234.7Q98.3 229.8 69 172.5"/></g>
<g stroke="url(#g312)" stroke-width="0.55"><path d="M34.2 228.2Q105.9 221.9 161.5 267.5"/><path d="M34.2 227.8Q105.8 219.3 165.6 259.6"/></g>
<g stroke="url(#g313)" stroke-width="0.55"><path d="M34.7 223.2Q103.2 245.8 169.9 218.5"/></g>
<g stroke="url(#g314)" stroke-width="0.55"><path d="M35 221.1Q96.6 233.3 43.3 266.5"/><path d="M35.1 220.8Q106.4 213 169.8 246.7"/></g>
<g stroke="url(#g315)" stroke-width="0.55"><path d="M36.5 214.3Q108.2 221.6 155.8 275.6"/></g>
<g stroke="url(#g316)" stroke-width="0.55"><path d="M37.7 210.2Q99.3 233.5 67.6 291.1"/></g>
<g stroke="url(#g317)" stroke-width="0.55"><path d="M41.6 201Q100.4 242.4 171.3 230"/></g>
<g stroke="url(#g318)" stroke-width="0.55"><path d="M43.5 197.5Q98.6 232.6 52.1 278.5"/><path d="M43.5 197.5Q99.6 227.5 94.9 164.1"/></g>
<g stroke="url(#g319)" stroke-width="0.55"><path d="M47.7 191.2Q99.5 227 90.1 164.8"/></g>
<g stroke="url(#g320)" stroke-width="0.55"><path d="M50.5 187.7Q101.7 232.4 67.1 290.9"/><path d="M50.7 187.5Q98.9 226.8 78.3 168.1"/></g>
<g stroke="url(#g321)" stroke-width="0.55"><path d="M53.6 184.3Q114.3 223.3 136.7 291.8"/></g>
<g stroke="url(#g322)" stroke-width="0.55"><path d="M56.5 181.4Q99 231.6 42.9 265.8"/></g>
<g stroke="url(#g323)" stroke-width="0.55"><path d="M64.3 175.3Q102.7 232.1 167.5 209.8"/><path d="M64.7 175.1Q112.2 229.1 106.4 300.7"/></g>
<g stroke="url(#g324)" stroke-width="0.55"><path d="M69.9 172Q102.5 232.2 52.3 278.7"/><path d="M69.3 172.3Q101.6 234.1 171.3 230.3"/></g>
<g stroke="url(#g325)" stroke-width="0.55"><path d="M74.9 169.5Q86.6 240.4 137.3 291.4"/></g>
<g stroke="url(#g326)" stroke-width="0.55"><path d="M81 167.1Q88.1 238.8 137.4 291.4"/></g>
<g stroke="url(#g327)" stroke-width="0.55"><path d="M86.4 165.6Q103.9 226.7 145.2 178.3"/></g>
<g stroke="url(#g328)" stroke-width="0.55"><path d="M93.7 164.2Q91.2 236.2 138 291"/><path d="M93.9 164.2Q87.9 236 127.7 296.1"/></g>
<g stroke="url(#g329)" stroke-width="0.55"><path d="M98.8 163.7Q104.4 233.1 42.9 265.8"/><path d="M99 163.7Q100.3 229.6 34.8 222.6"/></g>
<g stroke="url(#g330)" stroke-width="0.5"><path d="M91.2 164.6Q99.7 229.2 34.9 222"/><path d="M89.1 165Q104.4 232.8 48 273.6"/><path d="M88.2 165.1Q100.4 234.2 167.4 255.1"/><path d="M88.2 165.2Q99.2 228.1 38.9 207"/><path d="M89.1 165Q103.8 226.3 140.2 174.8"/><path d="M89.3 164.9Q94.8 236.4 151.6 280.3"/><path d="M90.2 164.8Q101.9 233 169.8 246.3"/><path d="M88.8 165Q99.2 227.7 41.4 201.3"/><path d="M89.3 164.9Q99.3 228.2 38.2 208.7"/><path d="M90.9 164.6Q101.3 231.3 36.4 249.9"/><path d="M89.2 164.9Q104.1 232.7 46.7 271.8"/><path d="M88.1 165.2Q101.3 233.5 169.3 248.7"/><path d="M91 164.6Q112 233.3 76.1 295.5"/><path d="M88.2 165.1Q102.9 232.3 42.6 265.4"/><path d="M88.5 165.1Q108.9 233.3 66.1 290.2"/><path d="M90.9 164.6Q109.9 233.5 68 291.4"/><path d="M91.3 164.6Q99.8 229.4 34.6 224.3"/><path d="M90.9 164.6Q101.8 233.1 169.5 247.7"/><path d="M90.2 164.8Q88.3 236.8 131.7 294.4"/><path d="M89 165Q102 231.8 39.2 258.1"/><path d="M89.8 164.8Q99.5 226.8 49.7 188.7"/><path d="M88.5 165.1Q98.5 235.3 162.4 266.1"/><path d="M89.2 164.9Q104.1 232.8 46.8 271.9"/><path d="M89.2 164.9Q99.1 234.9 163.8 263.3"/><path d="M90.8 164.6Q103.4 225.7 128 168.4"/><path d="M88.7 165.1Q100.8 231 35.6 246.5"/><path d="M88.6 165.1Q99.4 229.1 35.1 220.7"/><path d="M88.3 165.1Q103.8 230.6 170.3 220.6"/></g>
<g stroke="url(#g331)" stroke-width="0.5"><path d="M167.5 209.6Q107.3 249.1 35.5 245.8"/><path d="M165.4 204.4Q107.6 247.4 35.5 246.2"/><path d="M165.7 205Q107.9 232.8 158.3 272.4"/><path d="M165.4 204.4Q107.6 228 139.2 174.1"/><path d="M167.5 209.7Q105.7 246.8 34.3 236.9"/><path d="M166.5 207Q108.3 249.2 36.4 249.6"/><path d="M165.6 204.8Q103.9 241.4 35 221.1"/><path d="M166.8 207.7Q103.2 240.8 36.2 215.2"/><path d="M165.4 204.3Q104.4 232.9 127.1 296.3"/><path d="M167.1 208.5Q103 240.5 36.9 213"/><path d="M165.7 204.9Q99.3 229.2 84.6 298.4"/><path d="M167.5 209.8Q95.9 217 42.8 265.7"/><path d="M167.6 209.9Q103.7 243.1 34.8 222.4"/><path d="M166.6 207.3Q105.9 233.3 137.6 291.3"/><path d="M166.7 207.5Q103.9 242.6 34.7 223"/><path d="M166.9 208.1Q108.4 232.7 162.2 266.3"/><path d="M165.7 205Q107.5 232.9 154.9 276.8"/><path d="M166.9 208.1Q107.3 248.5 35.4 245.6"/><path d="M165.9 205.6Q102.6 232.6 58 180.2"/><path d="M165.5 204.6Q106.4 233.2 144.7 286.4"/><path d="M166.8 207.7Q108.1 232.9 158.7 271.9"/><path d="M167.5 209.7Q102.3 231.9 103.6 300.8"/><path d="M165.4 204.3Q95.9 223.2 58.6 284.8"/><path d="M166.9 208Q108.7 232.4 165.5 259.8"/><path d="M166.2 206.2Q102.3 235.2 47.3 191.7"/><path d="M166.8 207.7Q108.4 232.7 161.9 266.9"/><path d="M166.5 207Q100.2 230.2 89.6 299.5"/><path d="M165.7 205.1Q95.8 222.5 56.4 282.8"/><path d="M165.7 205Q102.6 232.9 56 182"/><path d="M165.8 205.3Q98.4 227.9 76.9 295.7"/><path d="M167.3 209.2Q109.3 230.7 171 225.9"/><path d="M165.5 204.6Q97.1 226 68.3 291.5"/><path d="M166.1 206.1Q104 242.2 34.7 223.1"/><path d="M165.5 204.6Q109 231.6 169.4 248.4"/></g>
<g stroke="url(#g332)" stroke-width="0.6"><path d="M163 199.4Q103.6 229.6 73.8 170"/><path d="M162.5 198.5Q103.8 232.6 127.6 296.1"/><path d="M162.8 199Q93.6 219.5 51.7 278.1"/><path d="M162.8 199.2Q94.2 221.2 55.7 282.2"/><path d="M163.4 200.2Q103.1 230.7 65.2 174.8"/><path d="M162.7 199Q92.8 214.7 43.4 266.7"/><path d="M162.4 198.5Q108.2 246 36.2 248.9"/><path d="M162.8 199.1Q98 228.4 83.7 298.1"/></g>
<g stroke="url(#g333)" stroke-width="0.6"><path d="M128.7 168.7Q117.6 239.9 66.1 290.2"/><path d="M129.1 168.9Q108.7 237.5 43.1 266.1"/><path d="M129.4 169Q102.1 231 36.6 213.8"/><path d="M129.3 169Q91.5 230.3 106.4 300.7"/><path d="M129.5 169Q117.5 240.1 65.3 289.7"/></g>
<g stroke="url(#g334)" stroke-width="0.6"><path d="M116.6 165Q111.2 236.6 55.4 281.9"/><path d="M116.7 165.1Q118.7 237 77.2 295.9"/><path d="M116.8 165.1Q101.2 226.9 56.2 181.7"/><path d="M116.2 164.9Q99.5 233.2 151.6 280.3"/><path d="M116.8 165.1Q102.1 232.5 161.2 268"/></g>
<g stroke="url(#g335)" stroke-width="0.6"><path d="M170.7 241Q98.7 244.1 43 198.4"/><path d="M170.7 241Q101.9 219.8 36.5 250.1"/><path d="M170.7 241.2Q105.1 230.5 117.4 165.2"/><path d="M170.7 241.5Q104.5 230.8 112.2 164.3"/><path d="M170.7 241Q98.7 243.7 43.7 197.2"/></g>
<g stroke="url(#g336)" stroke-width="0.6"><path d="M171.2 235Q100.2 247.4 36.8 213.2"/><path d="M171.3 234.6Q100.3 237.4 56.9 181.1"/><path d="M171.3 234.2Q104 230.9 101.1 163.6"/><path d="M171.3 234.4Q100.4 223.1 43.6 267.1"/><path d="M171.3 234.5Q101.5 230 67.1 290.8"/></g>
<g stroke="url(#g337)" stroke-width="0.55"><path d="M46.1 193.4Q101.8 228.9 131.8 170.1"/><path d="M46.2 193.3Q97.9 243.5 169.9 245.9"/><path d="M45.9 193.7Q106.1 230.3 104.5 300.8"/><path d="M45.5 194.3Q96.7 229 39.2 206.4"/><path d="M45.5 194.4Q110.9 224.5 137.1 291.6"/><path d="M45.7 194.1Q97.4 244.3 169.4 248.3"/><path d="M45.4 194.5Q99.4 227.2 90.7 164.7"/><path d="M46.1 193.4Q97.2 231.5 37.9 254.7"/></g>
<g stroke="url(#g338)" stroke-width="0.6"><path d="M58.4 179.8Q102.7 229 148.6 181.2"/><path d="M58.9 179.4Q102.8 228.9 148.2 180.9"/><path d="M58.2 179.9Q97.9 230.6 35.7 246.9"/><path d="M58.8 179.5Q118.1 219.8 144.7 286.5"/><path d="M58.8 179.5Q97.6 229.9 34.2 235.4"/></g>
<g stroke="url(#g339)" stroke-width="0.6"><path d="M78.7 168Q94.4 238.1 155.5 276"/><path d="M79.2 167.7Q112.3 231.5 88.8 299.4"/><path d="M79.2 167.7Q99.6 235.4 167.9 253.6"/><path d="M79.1 167.8Q111 231.9 83.5 298.1"/><path d="M79 167.8Q115.7 229.9 102.6 300.8"/></g>
<g stroke="url(#g340)" stroke-width="0.6"><path d="M39.1 206.5Q100 245 171.3 234"/><path d="M39.2 206.3Q97.8 248.1 169.8 246.5"/><path d="M39.1 206.6Q96.4 231.8 36.3 249.4"/><path d="M39.2 206.2Q103 234.3 154.9 187.7"/><path d="M39 206.7Q109.9 220 155.9 275.5"/></g>
<g stroke="url(#g341)" stroke-width="0.6"><path d="M34.3 237.6Q96.3 231 41 202.2"/><path d="M34.4 238.6Q102.9 232.4 116.5 165"/><path d="M34.4 238.8Q101.3 231 99.8 163.7"/><path d="M34.4 238.8Q100.8 234.4 103.3 300.8"/><path d="M34.3 237.8Q101.3 231 101.2 163.6"/><path d="M34.4 238.6Q106.1 246 166.1 206.1"/><path d="M34.4 238.5Q104.6 225.3 158.5 272.1"/><path d="M34.4 238.4Q105.6 237.8 147.5 180.2"/></g>
<g stroke="url(#g342)" stroke-width="0.6"><path d="M51 277.3Q105.9 233.4 93.9 164.2"/><path d="M51.1 277.4Q98.7 237.5 73.6 294.3"/><path d="M50.9 277.2Q102.7 233.8 152.1 279.8"/><path d="M50.7 277Q115 244.7 148.1 180.8"/><path d="M50.7 277Q115 244.6 147.8 180.5"/><path d="M50.7 277Q97.3 222.1 168.9 214.2"/><path d="M51 277.2Q96.9 235.6 38 255.1"/><path d="M51.1 277.4Q99.6 224.7 171.1 227.5"/></g>
<g stroke="url(#g343)" stroke-width="0.6"><path d="M73.7 294.4Q113 234.1 98 163.8"/><path d="M74.2 294.6Q94.4 225.5 157.3 190.7"/><path d="M73.9 294.5Q94.5 225.5 157.8 191.3"/><path d="M73.7 294.4Q102.1 232.4 47.7 191.2"/><path d="M74 294.5Q103.3 237.1 145.9 285.5"/></g>
<g stroke="url(#g344)" stroke-width="0.6"><path d="M59.1 285.2Q115.6 240.4 132.3 170.3"/><path d="M59.8 285.7Q100.7 228 171.3 231.8"/><path d="M59.2 285.2Q102.9 235 152.5 279.4"/><path d="M59.6 285.6Q90.9 220.7 154.9 187.7"/><path d="M59.6 285.6Q105.9 232.8 81.3 167"/></g>
<g stroke="url(#g345)" stroke-width="0.6"><path d="M162 266.7Q103.1 227.4 38.2 255.6"/><path d="M161.6 267.4Q97.2 236.6 81.5 167"/><path d="M161.4 267.8Q113.2 214.7 43.7 197.1"/><path d="M161.3 267.9Q111.7 215.9 41.2 201.8"/><path d="M161.4 267.7Q102.9 233.5 60.2 286"/><path d="M162 266.7Q96.4 237.9 74.4 169.7"/><path d="M161.3 267.8Q102.8 232.9 56.3 282.7"/><path d="M162 266.7Q101.2 233 109.1 163.9"/><path d="M162.4 266Q105.8 221.5 34.2 228.6"/><path d="M162.3 266.1Q97.6 236.3 82.4 166.7"/></g>
<g stroke="url(#g346)" stroke-width="0.6"><path d="M155.4 276.2Q103.8 227.8 35.4 245.7"/><path d="M155 276.6Q108.6 235.2 169.4 248"/><path d="M154.8 276.8Q91.6 242.2 63.9 175.6"/><path d="M155.4 276.1Q93.7 239 74.8 169.5"/><path d="M154.8 276.8Q93.5 239.1 74.9 169.5"/><path d="M155.8 275.6Q97 235.4 93.5 164.2"/><path d="M155.7 275.7Q108.3 233.7 170.3 220.4"/><path d="M154.8 276.8Q105.1 232 148.5 181.1"/></g>
<g stroke="url(#g347)" stroke-width="0.55"><path d="M136.5 291.9Q110.8 224.6 45.6 194.2"/><path d="M137.2 291.5Q103.6 230.6 34.3 237.4"/><path d="M137.6 291.2Q103 231.6 35.4 245.7"/><path d="M136.6 291.8Q107.8 226.4 39.1 206.5"/><path d="M136.6 291.8Q87.2 239.5 78.5 168"/><path d="M137.4 291.4Q102.9 231.7 35.4 245.7"/><path d="M137.5 291.3Q111.1 224.3 46 193.6"/></g>
<g stroke="url(#g348)" stroke-width="0.55"><path d="M124.9 297.1Q97.5 231.7 136.3 172.4"/><path d="M124.4 297.3Q102.8 232 34.1 233.9"/><path d="M123.9 297.4Q103.8 230.8 34.7 223.3"/><path d="M124.4 297.3Q112.1 226.3 54 183.9"/><path d="M124.3 297.3Q105 229.8 36.3 214.8"/><path d="M124.1 297.4Q106.3 234.9 171.2 235"/><path d="M125.2 297Q83.6 238.6 81.6 166.9"/></g>
<g stroke="url(#g349)" stroke-width="0.55"><path d="M116.6 299.4Q104.1 230.9 36.4 214.7"/><path d="M116.1 299.5Q115.9 227.4 69.7 172.1"/><path d="M116.5 299.4Q101 235.9 42.3 264.8"/><path d="M116.9 299.3Q95.9 231.1 136.9 172.7"/><path d="M117 299.3Q105 230.2 38.2 208.9"/><path d="M117.5 299.2Q101 236.1 43.6 267"/><path d="M117.7 299.1Q101 235.8 41.9 263.9"/><path d="M116.4 299.4Q101.1 235 38 255.1"/></g></g>
<g fill="none"><circle cx="281.2" cy="231.7" r="68.9" fill="none" stroke="#b8b8b8" stroke-width="0.7" stroke-dasharray="0.8 2.1"/>
<g stroke="url(#g350)" stroke-width="0.55"><path d="M281.3 163.1Q298.7 232.9 271.7 299.6"/><path d="M281.7 163.1Q287.4 234.2 234.5 281.9"/></g>
<g stroke="url(#g351)" stroke-width="0.55"><path d="M293 164.1Q279.5 228.7 216.8 207.9"/><path d="M293 164.1Q300.3 235.5 266.1 298.6"/></g>
<g stroke="url(#g352)" stroke-width="0.55"><path d="M304.7 167.2Q276.8 232.2 317.2 290.1"/><path d="M304.8 167.3Q299.8 238.8 255.8 295.4"/></g>
<g stroke="url(#g353)" stroke-width="0.55"><path d="M312 170.4Q292 239.7 231.7 279.2"/><path d="M311.5 170.1Q280.5 229.6 219.2 202.3"/></g>
<g stroke="url(#g354)" stroke-width="0.55"><path d="M314.7 171.9Q298.8 241.7 246.8 291.1"/><path d="M314.9 171.9Q280.5 229.1 223.7 194.3"/></g>
<g stroke="url(#g355)" stroke-width="0.55"><path d="M323.1 177.4Q274.2 229.5 284.1 300.2"/></g>
<g stroke="url(#g356)" stroke-width="0.55"><path d="M326.5 180.2Q281.4 227.8 242.6 175"/></g>
<g stroke="url(#g357)" stroke-width="0.55"><path d="M329.9 183.4Q269.4 222.6 246.8 291.1"/><path d="M330.3 183.8Q270.4 223.9 251.3 293.4"/></g>
<g stroke="url(#g358)" stroke-width="0.55"><path d="M337.9 193Q275.6 227.9 265.3 298.4"/></g>
<g stroke="url(#g359)" stroke-width="0.55"><path d="M342.5 200.9Q282.7 232.3 306.5 295.5"/><path d="M342.9 201.8Q282.3 232.2 302.1 297"/></g>
<g stroke="url(#g360)" stroke-width="0.55"><path d="M344.4 205.1Q287.8 249.3 216 253.2"/><path d="M344.4 205Q282.1 240.4 214 217.8"/></g>
<g stroke="url(#g361)" stroke-width="0.55"><path d="M345.8 208.7Q287.1 232.2 341.5 264.4"/><path d="M345.7 208.3Q280.9 232.8 235.3 180.7"/></g>
<g stroke="url(#g362)" stroke-width="0.55"><path d="M349.8 230.9Q285.3 234.2 311.3 293.4"/><path d="M349.8 231.4Q278.9 244.6 216.9 207.8"/></g>
<g stroke="url(#g363)" stroke-width="0.55"><path d="M349.7 235.1Q281.8 212.1 212.6 231.2"/><path d="M349.7 235.2Q281.7 212.3 212.6 231.8"/></g>
<g stroke="url(#g364)" stroke-width="0.55"><path d="M349.5 238.3Q279.9 219.5 215.8 252.5"/></g>
<g stroke="url(#g365)" stroke-width="0.55"><path d="M348.5 244.8Q277.1 239.1 234.3 181.7"/><path d="M348.7 244Q281.5 217.9 213.3 241.2"/></g>
<g stroke="url(#g366)" stroke-width="0.55"><path d="M347.7 248.4Q281.2 220.9 214.6 248.1"/><path d="M347.8 248.2Q276.1 241.7 228.8 187.4"/></g>
<g stroke="url(#g367)" stroke-width="0.55"><path d="M343.5 260.4Q281.1 227.6 220.9 264.4"/></g>
<g stroke="url(#g368)" stroke-width="0.55"><path d="M342.9 261.7Q281.2 231.7 293.8 164.3"/><path d="M343.2 261Q281.2 231.5 235.1 282.5"/></g>
<g stroke="url(#g369)" stroke-width="0.55"><path d="M340.5 266.2Q271 248.3 223.6 194.4"/><path d="M340.5 266.1Q283.6 231.1 317.1 173.2"/></g>
<g stroke="url(#g370)" stroke-width="0.55"><path d="M334.2 275.2Q281.2 231.2 223 268"/><path d="M334.2 275.2Q274.5 235.8 266.1 164.8"/></g>
<g stroke="url(#g371)" stroke-width="0.55"><path d="M330.3 279.6Q281.2 232 223.2 268.3"/></g>
<g stroke="url(#g372)" stroke-width="0.55"><path d="M326.6 283.1Q287.2 222.9 216.8 208"/></g>
<g stroke="url(#g373)" stroke-width="0.55"><path d="M319.4 288.7Q272.8 234.2 282.1 163.1"/></g>
<g stroke="url(#g374)" stroke-width="0.55"><path d="M310.6 293.7Q270 234.2 281.5 163.1"/></g>
<g stroke="url(#g375)" stroke-width="0.55"><path d="M301.7 297.2Q284.1 233.6 349.3 223.3"/><path d="M301.8 297.1Q261.7 237.8 260.9 166.2"/></g>
<g stroke="url(#g376)" stroke-width="0.55"><path d="M295 298.9Q279.9 237.4 239.9 286.4"/></g>
<g stroke="url(#g377)" stroke-width="0.55"><path d="M290 299.7Q289.9 227.9 237.6 178.7"/><path d="M289.6 299.8Q291.6 227.8 242.9 174.8"/></g>
<g stroke="url(#g378)" stroke-width="0.55"><path d="M285.3 300.2Q269.4 229.9 305.6 167.6"/></g>
<g stroke="url(#g379)" stroke-width="0.55"><path d="M281.1 300.3Q279.6 238.1 248.5 292"/></g>
<g stroke="url(#g380)" stroke-width="0.55"><path d="M276.3 300.1Q262.7 229.6 292.1 164"/><path d="M276.1 300.1Q298.5 231.7 276.3 163.3"/></g>
<g stroke="url(#g381)" stroke-width="0.55"><path d="M265.6 298.5Q297.7 234 284.7 163.2"/><path d="M265.2 298.4Q272.5 226.9 329.1 182.6"/></g>
<g stroke="url(#g382)" stroke-width="0.55"><path d="M262.5 297.7Q290.1 231.5 259.5 166.6"/></g>
<g stroke="url(#g383)" stroke-width="0.55"><path d="M250.2 292.9Q296.3 237.5 299.3 165.5"/></g>
<g stroke="url(#g384)" stroke-width="0.55"><path d="M247.6 291.5Q292.1 234.9 285.2 163.2"/><path d="M247.2 291.3Q286.4 232.2 259.2 166.7"/></g>
<g stroke="url(#g385)" stroke-width="0.55"><path d="M244 289.4Q281.6 231.7 237.9 178.5"/><path d="M244 289.4Q276.1 225.3 345.5 207.7"/></g>
<g stroke="url(#g386)" stroke-width="0.55"><path d="M240 286.6Q268.9 220.6 331.7 185.3"/></g>
<g stroke="url(#g387)" stroke-width="0.55"><path d="M234.3 281.8Q289.7 236.1 294.5 164.4"/></g>
<g stroke="url(#g388)" stroke-width="0.55"><path d="M232 279.5Q277.7 224.4 349.3 223.2"/></g>
<g stroke="url(#g389)" stroke-width="0.55"><path d="M229.3 276.5Q278.5 237.1 276 300.1"/><path d="M229 276.2Q287.4 235.2 291.7 163.9"/></g>
<g stroke="url(#g390)" stroke-width="0.55"><path d="M225.4 271.6Q285.1 233.8 284.6 163.2"/><path d="M225.1 271.1Q280.9 233.7 322.8 286.2"/></g>
<g stroke="url(#g391)" stroke-width="0.55"><path d="M223.1 268.2Q280.2 225.8 347.9 247.6"/><path d="M223 268.1Q282.7 232.4 272.4 163.7"/></g>
<g stroke="url(#g392)" stroke-width="0.55"><path d="M220.7 264Q280.4 231.4 259.8 166.5"/><path d="M220.9 264.3Q277.3 219.6 349.3 223.6"/></g>
<g stroke="url(#g393)" stroke-width="0.55"><path d="M218.5 259.6Q281.4 227.6 340.9 265.4"/></g>
<g stroke="url(#g394)" stroke-width="0.55"><path d="M216 252.9Q279.3 234.7 289.2 299.8"/></g>
<g stroke="url(#g395)" stroke-width="0.55"><path d="M214.3 246.9Q280.4 233.1 301.8 297.1"/><path d="M214.4 247.4Q281.9 229.4 327.2 282.6"/></g>
<g stroke="url(#g396)" stroke-width="0.55"><path d="M213.1 240.3Q283.5 235.1 315.1 172.1"/></g>
<g stroke="url(#g397)" stroke-width="0.55"><path d="M212.6 230.5Q283.4 237.3 330.3 183.8"/><path d="M212.6 231.4Q283.8 241.1 340 196.4"/></g>
<g stroke="url(#g398)" stroke-width="0.55"><path d="M213.1 223.6Q285 217.7 344.2 258.8"/><path d="M213.2 222.6Q283.2 228.9 311.7 293.2"/></g>
<g stroke="url(#g399)" stroke-width="0.55"><path d="M213.9 218.5Q285.4 212.8 347.7 248.5"/><path d="M213.8 219.1Q282.1 241.3 345.3 207.2"/></g>
<g stroke="url(#g400)" stroke-width="0.55"><path d="M214.6 215.4Q274.9 232.2 218.1 258.7"/></g>
<g stroke="url(#g401)" stroke-width="0.55"><path d="M216.5 208.8Q283.3 229.9 293.9 299.1"/></g>
<g stroke="url(#g402)" stroke-width="0.55"><path d="M222.9 195.6Q280.2 237.8 348.2 216.8"/></g>
<g stroke="url(#g403)" stroke-width="0.55"><path d="M229 187.2Q280.7 228.5 317.5 173.5"/><path d="M229.3 186.9Q287.3 228.4 290.4 299.7"/></g>
<g stroke="url(#g404)" stroke-width="0.55"><path d="M231.2 184.8Q292.7 222.3 317.1 290.2"/><path d="M230.7 185.3Q275.8 230.1 213.7 243.7"/></g>
<g stroke="url(#g405)" stroke-width="0.55"><path d="M234.7 181.2Q284.8 230.7 266.6 298.7"/></g>
<g stroke="url(#g406)" stroke-width="0.55"><path d="M242.8 174.9Q264.5 243.2 320.4 288"/><path d="M242.9 174.8Q295.5 224.1 307.3 295.1"/></g>
<g stroke="url(#g407)" stroke-width="0.55"><path d="M256.4 167.7Q280.8 232.3 349.8 229.9"/></g>
<g stroke="url(#g408)" stroke-width="0.55"><path d="M266 164.8Q281.8 232 223.3 268.5"/></g>
<g stroke="url(#g409)" stroke-width="0.55"><path d="M272.7 163.6Q289.4 233.3 247.8 291.6"/><path d="M272.9 163.6Q281.2 231.7 218 258.3"/></g>
<g stroke="url(#g410)" stroke-width="0.55"><path d="M276.3 163.3Q278.6 233.4 341.9 263.7"/><path d="M275.7 163.3Q278.8 233.3 342.7 262.1"/></g>
<g stroke="url(#g411)" stroke-width="0.5"><path d="M259.2 166.7Q293.8 230 277.6 300.2"/><path d="M260.1 166.4Q287.3 232.2 250.2 292.9"/><path d="M261 166.1Q263.7 237.9 307 295.3"/><path d="M259.2 166.7Q286.6 232.2 248.1 291.8"/><path d="M260.7 166.2Q277.3 227.2 219.5 201.8"/><path d="M261.3 166Q282.5 229.1 344.7 205.9"/><path d="M259.6 166.6Q282 230.3 348 216.3"/><path d="M259.3 166.7Q269.6 238.1 324.1 285.2"/><path d="M258.4 167Q278.9 234.2 347.7 248.4"/><path d="M261 166.2Q281.8 225.7 313.4 171.1"/><path d="M259.8 166.5Q280.5 232.6 349.6 236.3"/><path d="M260.2 166.4Q298.7 227.1 294.9 298.9"/><path d="M258.8 166.9Q286.5 232.2 248 291.7"/><path d="M258.4 167Q283.3 232.1 234.1 281.5"/><path d="M258.4 167Q280 233.2 349.3 239.7"/><path d="M261.1 166.1Q290.7 231.5 263.3 297.9"/><path d="M261.5 166Q281.8 225.7 314.4 171.7"/><path d="M258.7 166.9Q273.4 237.2 334.5 274.9"/><path d="M258.9 166.8Q279.8 231.1 218.7 259.9"/><path d="M261.7 165.9Q265.2 237.8 310.7 293.6"/><path d="M260.4 166.3Q279.1 233.9 347.7 248.6"/><path d="M259.8 166.5Q291 231.2 265.9 298.6"/><path d="M259.8 166.5Q271.9 237.5 330.2 279.7"/><path d="M258.9 166.8Q282.5 227.9 338 193.2"/><path d="M258.8 166.8Q287.1 232.1 250.7 293.1"/><path d="M258.3 167Q279.3 233.8 348.5 245.1"/></g>
<g stroke="url(#g412)" stroke-width="0.55"><path d="M340.4 197Q273.1 222.9 241.4 287.5"/><path d="M341.4 198.8Q273.4 222.7 240 286.6"/><path d="M338.8 194.4Q291 248 221.2 265"/><path d="M341 198.1Q272.2 219.6 232 279.5"/><path d="M340.7 197.6Q284 227.1 285.2 163.2"/><path d="M340.9 198Q281.1 233.5 225.1 192.2"/><path d="M341.4 198.8Q280.3 231.2 289.6 299.8"/><path d="M338.8 194.4Q273.9 225.2 251.2 293.4"/><path d="M338.9 194.6Q277.7 229.7 276.9 300.2"/><path d="M340.7 197.5Q272 219.3 231.3 278.8"/><path d="M340.9 197.9Q281.6 230 243.2 174.6"/><path d="M339.4 195.3Q286.6 244.5 214.6 248.3"/><path d="M338 193.3Q281.2 233.3 222.6 196.1"/><path d="M340 196.4Q282.3 238.3 214 218"/><path d="M337.1 191.9Q281.7 235.3 216.7 208.3"/><path d="M339.6 195.7Q287.8 245.8 216.1 253.3"/><path d="M340.4 197Q290.7 248.8 220.6 263.8"/><path d="M339.9 196.2Q272.3 221.3 236.9 284.1"/><path d="M337.3 192.2Q273.2 224.8 250.8 293.2"/><path d="M341.6 199.2Q287.3 230.9 347.7 248.6"/><path d="M338.1 193.3Q270.8 219.1 232.8 280.3"/><path d="M340.8 197.7Q282.7 239.5 213.3 222.2"/><path d="M341.5 199Q271.5 214.7 222.4 267"/><path d="M337.1 191.9Q271 220.7 237.5 284.6"/><path d="M337.2 192Q277 229.3 275.6 300.1"/><path d="M338.5 194Q270.5 217.3 228.7 275.8"/><path d="M341.5 199Q282.7 240 213.2 222.9"/><path d="M339.4 195.4Q278 229.8 277.6 300.2"/><path d="M338.7 194.3Q284 226.9 285.3 163.2"/><path d="M341.6 199.2Q281.6 237.1 216.5 208.8"/><path d="M340.7 197.5Q286.6 245.2 214.6 248"/><path d="M340.3 196.9Q271.5 218.3 229.4 276.7"/><path d="M341.1 198.2Q285.7 244.3 213.6 243.2"/><path d="M341.7 199.4Q273 221.2 235.2 282.6"/><path d="M338.5 194Q281.2 232.7 225.3 192"/><path d="M337.4 192.3Q274.2 226.3 257.3 296"/><path d="M339.1 194.9Q272.9 223.3 243.8 289.2"/><path d="M339.8 196.1Q282.4 238.3 213.9 218.4"/><path d="M339.7 195.9Q270.5 214.6 223.3 268.5"/><path d="M339.4 195.4Q282.9 239.2 213.1 223.6"/><path d="M339.1 194.9Q277.6 229.6 275.7 300.1"/><path d="M338.7 194.3Q292.2 248.8 223.4 268.6"/><path d="M338.5 194Q285.2 242.4 213.2 240.5"/><path d="M339.2 195Q271 218.1 229.8 277.1"/><path d="M340.8 197.8Q271.9 218.6 229.8 277.1"/><path d="M341.6 199.1Q275 225.7 250.6 293.1"/><path d="M337.4 192.3Q272.2 223 244.2 289.4"/><path d="M338.9 194.7Q285.5 243 213.5 242.7"/><path d="M340 196.4Q281.1 233.1 225.3 191.9"/><path d="M337 191.8Q281.8 235.5 216.3 209.4"/><path d="M338.7 194.3Q270.1 215.2 224.8 270.8"/><path d="M339.9 196.1Q291 248.7 221.1 264.7"/><path d="M340.8 197.7Q273.6 223.6 243.3 288.9"/><path d="M339.7 195.9Q283.6 240.7 212.6 230"/><path d="M341.2 198.5Q271.5 216.1 224.7 270.7"/><path d="M338 193.2Q270.3 217.6 229.7 277"/><path d="M341.3 198.6Q283.6 232.4 316 290.8"/><path d="M338.3 193.6Q271.5 220.9 237.1 284.2"/><path d="M337 191.8Q285.6 231.7 337.4 271"/><path d="M337.7 192.8Q284.4 226.7 292.5 164"/></g>
<g stroke="url(#g413)" stroke-width="0.6"><path d="M285.3 163.2Q283.8 226.2 331.8 185.3"/><path d="M286 163.3Q279.1 226.4 230.2 185.8"/><path d="M285.8 163.3Q267 232.9 297 298.5"/><path d="M285.2 163.2Q260.8 230.6 277.5 300.2"/><path d="M285.9 163.3Q280.7 231.2 213.1 240.1"/></g>
<g stroke="url(#g414)" stroke-width="0.6"><path d="M295 164.5Q280.7 231.9 340.5 266.2"/><path d="M295.9 164.7Q283.3 230.3 348.7 244.1"/><path d="M295.2 164.5Q269.9 231.9 298.1 298.2"/><path d="M295.7 164.6Q278 232.6 329.6 280.3"/><path d="M295.5 164.6Q293.5 236.7 244.7 289.8"/></g>
<g stroke="url(#g415)" stroke-width="0.6"><path d="M300.5 165.9Q299.1 237.7 257 295.9"/><path d="M300.1 165.7Q279.1 232.3 331.1 278.8"/><path d="M300.4 165.9Q278 232.4 325.9 283.7"/><path d="M299.6 165.6Q285.5 235.2 220.4 263.4"/><path d="M300.5 165.9Q282.2 231.3 343.3 260.9"/></g>
<g stroke="url(#g416)" stroke-width="0.6"><path d="M317.3 173.3Q280.8 230.5 218.6 203.7"/><path d="M317.6 173.5Q279.1 231.7 316.3 290.6"/><path d="M317.9 173.7Q292.3 241.1 229.9 277.2"/><path d="M317.2 173.3Q280.7 229.1 224.9 192.5"/><path d="M317.9 173.7Q280.4 231.7 323.1 286"/></g>
<g stroke="url(#g417)" stroke-width="0.6"><path d="M321.3 176.1Q285.2 237.7 214.6 248"/><path d="M321.2 175.9Q281.3 227.2 243.8 174.2"/><path d="M321.5 176.2Q293.6 242.6 231.3 278.8"/><path d="M320.8 175.7Q283.3 235.6 212.7 235.3"/><path d="M321.1 175.9Q266.7 223.1 251.3 293.4"/></g>
<g stroke="url(#g418)" stroke-width="0.6"><path d="M332 185.6Q284 231.7 330.6 279.3"/><path d="M331.7 185.3Q276.3 229.6 281.9 300.3"/><path d="M331.7 185.2Q283.6 226.3 282 163.1"/><path d="M332 185.6Q283.8 226.3 284.5 163.2"/><path d="M331.9 185.5Q286.6 230.2 348.7 244.1"/><path d="M331.5 185.1Q282 235 214.6 215.3"/></g>
<g stroke="url(#g419)" stroke-width="0.6"><path d="M347.3 213.4Q276 222.6 232.1 279.6"/><path d="M347.3 213.3Q285.9 233.1 326.7 283"/><path d="M347.3 213.5Q284.5 228.1 293.5 164.2"/><path d="M347.2 212.9Q282 232.3 289.2 299.8"/><path d="M347.3 213.2Q277.8 227.7 251.1 293.3"/></g>
<g stroke="url(#g420)" stroke-width="0.6"><path d="M348.4 217.9Q284.9 251.2 213.6 243.5"/><path d="M348.3 217.2Q283.8 233.2 302.3 297"/><path d="M348.3 217.2Q277.1 224.9 236.9 284.1"/><path d="M348.3 217.4Q283.1 248.1 212.6 233.3"/><path d="M348.2 217.1Q285.2 228.2 303.8 166.9"/></g>
<g stroke="url(#g421)" stroke-width="0.6"><path d="M349.3 223.2Q278.6 227.6 243.8 289.2"/><path d="M349.2 222.9Q284.1 228.8 292.1 164"/><path d="M349.3 223.1Q282.6 229.9 272 163.7"/><path d="M349.3 223.1Q279.6 238.5 224.5 193.1"/><path d="M349.3 223.5Q282.6 250.2 212.6 233.8"/></g>
<g stroke="url(#g422)" stroke-width="0.55"><path d="M224.9 192.4Q286.6 228.1 295.4 298.8"/><path d="M224.4 193.3Q292.7 214.7 338 270.2"/><path d="M224.6 193Q278.7 232.1 240.2 286.7"/><path d="M224.7 192.8Q290.2 222.9 318.8 289.1"/><path d="M225 192.4Q277.5 226.6 260.3 166.4"/><path d="M224.3 193.4Q275.8 243.8 347.8 248.2"/><path d="M224.3 193.3Q283.5 230.6 275.9 300.1"/><path d="M224.7 192.8Q289 225 311 293.5"/></g>
<g stroke="url(#g423)" stroke-width="0.6"><path d="M250.4 170.4Q280.3 225.4 292.9 164.1"/><path d="M250.9 170.2Q282 228.6 338.1 193.3"/><path d="M250.4 170.4Q273.5 238.5 338.2 269.8"/><path d="M250.7 170.3Q286.6 231.5 256.4 295.7"/><path d="M250.5 170.4Q279.5 234.2 349.5 237.9"/></g>
<g stroke="url(#g424)" stroke-width="0.6"><path d="M237.3 179Q272.8 241.8 340.8 265.7"/><path d="M237.9 178.5Q281.4 230.5 339.6 195.7"/><path d="M238 178.4Q296.8 219.4 322.8 286.2"/><path d="M237.7 178.6Q280.8 231.7 239.6 286.3"/><path d="M237.5 178.8Q278.7 236.6 349.7 235.4"/></g>
<g stroke="url(#g425)" stroke-width="0.6"><path d="M219.2 202.4Q276.1 232.1 224.9 271"/><path d="M219.1 202.5Q280.5 229.7 311.4 170.1"/><path d="M219 202.7Q280.7 232 265.7 298.5"/><path d="M219.1 202.5Q280.6 232 265.1 298.4"/><path d="M219.2 202.4Q280.8 230.4 317.7 173.6"/></g>
<g stroke="url(#g426)" stroke-width="0.6"><path d="M212.8 236.6Q281.2 231.7 295 164.5"/><path d="M212.7 234.3Q275.3 234 228.6 275.8"/><path d="M212.6 232.3Q283.9 240.9 339.2 195.1"/><path d="M212.7 234.9Q283.3 221.3 343 261.4"/><path d="M212.7 235.4Q275.9 234.4 237.3 284.4"/><path d="M212.6 233.7Q276.2 234.3 240.6 287"/><path d="M212.6 233.7Q283.6 223.4 338.3 269.7"/><path d="M212.6 233.9Q278 234.3 263.6 298"/><path d="M212.6 232.1Q276.4 229.2 243.1 174.7"/><path d="M212.7 234.4Q282 230.4 311.6 293.2"/><path d="M212.6 232.5Q283.6 245 345.7 208.3"/><path d="M212.6 232.4Q283.5 225.8 331.2 278.7"/><path d="M212.7 234.8Q274.9 233.6 222.9 267.9"/><path d="M212.6 232.3Q282 213.4 349.5 237.9"/><path d="M212.7 236Q275.1 233.9 225.5 271.8"/><path d="M212.7 235.3Q275 230.1 222.7 195.9"/><path d="M212.7 234.8Q277.1 229.3 250.8 170.2"/><path d="M212.7 234.5Q281 231.4 294.5 164.4"/><path d="M212.6 233Q284 241 339 194.8"/><path d="M212.8 236.4Q275.9 234.4 237.4 284.5"/></g>
<g stroke="url(#g427)" stroke-width="0.6"><path d="M213.6 243.3Q285.6 247 344.8 205.9"/><path d="M213.6 243.6Q285.7 245.3 342.5 200.9"/><path d="M213.6 243.3Q285 238.5 326.9 180.6"/><path d="M213.6 243.2Q281.3 218.4 348.7 243.8"/><path d="M213.7 243.8Q280.2 233.2 297.8 298.3"/></g>
<g stroke="url(#g428)" stroke-width="0.6"><path d="M238 285Q294.2 239.9 310.6 169.7"/><path d="M237.9 284.9Q292.3 237.6 301.2 166.1"/><path d="M237.2 284.3Q278.9 237.6 277.7 300.2"/><path d="M237.2 284.3Q281 230.9 345.8 254.9"/><path d="M236.7 283.9Q288.7 234.7 285.1 163.2"/><path d="M237.3 284.4Q294.1 240.1 311.4 170.1"/><path d="M237.7 284.8Q274.9 223.1 344.6 205.5"/><path d="M237.9 284.9Q284.5 232.3 260.4 166.3"/></g>
<g stroke="url(#g429)" stroke-width="0.6"><path d="M256.5 295.7Q265.1 224.3 314 171.4"/><path d="M256.4 295.7Q271.6 225.3 331 184.5"/><path d="M256 295.5Q282 236.8 324.1 285.2"/><path d="M256.2 295.6Q271 225.1 329.4 182.8"/><path d="M256 295.5Q297.1 236.4 294.5 164.4"/></g>
<g stroke="url(#g430)" stroke-width="0.6"><path d="M271.9 299.7Q280.7 231.2 348.4 217.8"/><path d="M271.9 299.7Q288.1 230.1 243.8 174.2"/><path d="M271.5 299.6Q281.8 232.4 349.8 230"/><path d="M271.5 299.6Q279.9 232.6 214.4 216.1"/><path d="M271.4 299.6Q268 227.6 311.8 170.3"/></g>
<g stroke="url(#g431)" stroke-width="0.6"><path d="M345.8 254.7Q281 230.8 236.5 283.8"/><path d="M345.8 254.7Q280.9 230.5 234.9 282.3"/><path d="M345.6 255.2Q278 234.9 259.4 166.6"/><path d="M345.8 254.7Q278.9 233.8 266.3 164.7"/><path d="M345.8 254.8Q280.7 227 222.5 267.1"/><path d="M345.6 255.2Q279.6 233 272.7 163.6"/><path d="M345.7 255Q281.4 232.2 245.1 290"/><path d="M345.7 255.1Q285.9 215 214 217.9"/><path d="M345.4 255.9Q288.2 212.7 216.7 208.3"/><path d="M345.7 255.1Q285.2 230.5 322.8 177.2"/></g>
<g stroke="url(#g432)" stroke-width="0.6"><path d="M341.9 263.6Q281.1 229 223.1 268.2"/><path d="M341.6 264.3Q281.1 229.9 225.6 271.9"/><path d="M341.3 264.7Q282.2 231.3 304.8 167.3"/><path d="M342.4 262.7Q281.3 232.1 237.2 284.3"/><path d="M342.2 263Q272.1 246.7 225 192.4"/><path d="M342 263.5Q283.4 221.8 212.7 234.4"/><path d="M342.2 263.1Q278.3 233.7 273.3 163.6"/><path d="M342.6 262.3Q273 243.5 231.2 184.7"/><path d="M341.9 263.7Q286.5 217.5 214.4 216"/><path d="M342.1 263.3Q281.5 232.8 241.4 287.5"/></g>
<g stroke="url(#g433)" stroke-width="0.6"><path d="M337.8 270.5Q278.5 233 284.7 163.2"/><path d="M338.3 269.8Q292.1 214.9 223.3 194.9"/><path d="M338.1 270Q285.7 231.7 337.6 192.7"/><path d="M337.9 270.4Q274.5 236.9 257.6 167.3"/><path d="M338.2 269.8Q281.3 232.8 235.2 282.6"/><path d="M337.8 270.4Q282.8 225 213.2 240.5"/></g>
<g stroke="url(#g434)" stroke-width="0.6"><path d="M324.2 285.2Q281.7 236.5 250.5 293.1"/><path d="M323.3 285.9Q291.1 221.3 225.3 192"/><path d="M322.8 286.2Q288 223.2 219.1 202.5"/><path d="M324.7 284.7Q284.3 226.1 213.1 223.1"/><path d="M324.2 285.1Q280.9 233.6 225.6 271.9"/><path d="M322.4 286.6Q288 223.4 219 202.7"/><path d="M324 285.3Q286.5 234.9 348.5 244.9"/><path d="M322.9 286.2Q290 222 223 195.3"/><path d="M323.1 286Q290.3 221.8 223.6 194.4"/><path d="M322.5 286.5Q280.9 233.7 225 271"/><path d="M323.6 285.6Q285.1 225.5 214.1 217.6"/><path d="M322.9 286.2Q280.9 233.7 225.1 271.2"/><path d="M322.4 286.5Q280.9 234.4 229.3 276.6"/><path d="M324.7 284.8Q284.8 232.5 342.4 200.6"/></g>
<g stroke="url(#g435)" stroke-width="0.6"><path d="M316.2 290.7Q282.7 229.1 212.6 230.2"/><path d="M316.9 290.3Q282.7 229.1 212.6 231.6"/><path d="M316.9 290.3Q295.2 221.7 237 179.2"/><path d="M316.1 290.8Q280.7 235.5 231.9 279.4"/><path d="M316.8 290.3Q267.2 238 260.8 166.2"/><path d="M316.7 290.4Q280.2 231.6 322.7 177.1"/></g>
<g stroke="url(#g436)" stroke-width="0.6"><path d="M307.5 295Q280.6 231.6 332.3 185.9"/><path d="M306.3 295.6Q295.6 224.3 243.9 174.2"/><path d="M306.7 295.4Q269.7 233.6 284.8 163.2"/><path d="M307.1 295.2Q270.2 233.4 286.4 163.3"/><path d="M308.5 294.6Q280.8 231.6 332.5 186.2"/><path d="M308.2 294.7Q267.2 235.4 273.1 163.6"/><path d="M307.5 295.1Q280.5 231.5 332 185.6"/><path d="M308.2 294.8Q292.5 224.4 234.9 181.1"/><path d="M306.1 295.6Q272.2 232.4 295.9 164.7"/><path d="M307.4 295.1Q284.1 233.1 347.6 214.3"/></g>
<g stroke="url(#g437)" stroke-width="0.6"><path d="M296.8 298.5Q284.7 228.9 219.1 202.6"/><path d="M298 298.2Q280.8 238.1 255.9 295.5"/><path d="M298 298.2Q284.7 228.8 218.8 203.1"/><path d="M297.3 298.4Q284.7 228.9 218.9 203"/><path d="M296 298.7Q281.7 231.2 213.1 223.3"/><path d="M297.4 298.4Q280 237.2 237.9 284.9"/><path d="M297.6 298.3Q284.4 234.4 349.7 235.6"/><path d="M296.7 298.5Q282.5 230.4 214.2 216.9"/><path d="M297.1 298.4Q279.8 234.3 216.5 254.4"/><path d="M298.1 298.2Q279.9 236.9 234.7 282.2"/><path d="M296.7 298.5Q273.8 230.8 311.9 170.3"/><path d="M296.7 298.5Q280.8 232.2 212.6 233.5"/><path d="M296.7 298.5Q284.7 228.9 219.3 202.2"/><path d="M298.9 298Q282.9 229.9 214.7 215"/></g></g>
<text transform="translate(77.1 11.8) scale(0.96 1.0)" font-size="4.95" text-anchor="middle">USA</text>
<text transform="translate(163.6 48.6) scale(0.96 1.0)" font-size="4.95" text-anchor="start">China</text>
<text transform="translate(37.3 52.5) scale(0.96 1.0)" font-size="4.95" text-anchor="end">Spain</text>
<text transform="translate(33.8 95.1) scale(0.96 1.0)" font-size="4.95" text-anchor="end">Rep. of Korea</text>
<text transform="translate(45.2 122.1) scale(0.96 1.0)" font-size="4.95" text-anchor="end">Other Asia, nes</text>
<text transform="translate(62.9 139.2) scale(0.96 1.0)" font-size="4.95" text-anchor="end">Netherlands</text>
<text transform="translate(163.5 109.6) scale(0.96 1.0)" font-size="4.95" text-anchor="start">France</text>
<text transform="translate(160.7 118.2) scale(0.96 1.0)" font-size="4.95" text-anchor="start">Germany</text>
<text transform="translate(124.2 147.1) scale(0.96 1.0)" font-size="4.95" text-anchor="start">Italy</text>
<text transform="translate(112.9 151) scale(0.96 1.0)" font-size="4.95" text-anchor="middle">Japan</text>
<text transform="translate(258.5 12) scale(0.96 1.0)" font-size="4.95" text-anchor="middle">USA</text>
<text transform="translate(342.7 43.4) scale(0.96 1.0)" font-size="4.95" text-anchor="start">China</text>
<text transform="translate(217.7 53.3) scale(0.96 1.0)" font-size="4.95" text-anchor="end">Spain</text>
<text transform="translate(213.4 90.1) scale(0.96 1.0)" font-size="4.95" text-anchor="end">Rep. of Korea</text>
<text transform="translate(221.3 115.8) scale(0.96 1.0)" font-size="4.95" text-anchor="end">Other Asia, nes</text>
<text transform="translate(243.6 137.6) scale(0.96 1.0)" font-size="4.95" text-anchor="end">Netherlands</text>
<text transform="translate(349.2 105.3) scale(0.96 1.0)" font-size="4.95" text-anchor="start">France</text>
<text transform="translate(339.8 123.6) scale(0.96 1.0)" font-size="4.95" text-anchor="start">Germany</text>
<text transform="translate(304.2 148.9) scale(0.96 1.0)" font-size="4.95" text-anchor="start">Italy</text>
<text transform="translate(294.2 150.9) scale(0.96 1.0)" font-size="4.95" text-anchor="middle">Japan</text>
<text transform="translate(440.1 11.9) scale(0.96 1.0)" font-size="4.95" text-anchor="middle">USA</text>
<text transform="translate(525.7 51.4) scale(0.96 1.0)" font-size="4.95" text-anchor="start">China</text>
<text transform="translate(400.7 43.2) scale(0.96 1.0)" font-size="4.95" text-anchor="end">Spain</text>
<text transform="translate(390.5 77.9) scale(0.96 1.0)" font-size="4.95" text-anchor="end">Rep. of Korea</text>
<text transform="translate(411.3 128.1) scale(0.96 1.0)" font-size="4.95" text-anchor="end">Netherlands</text>
<text transform="translate(520.7 115.5) scale(0.96 1.0)" font-size="4.95" text-anchor="start">France</text>
<text transform="translate(512.7 125.7) scale(0.96 1.0)" font-size="4.95" text-anchor="start">Germany</text>
<text transform="translate(490.7 141.1) scale(0.96 1.0)" font-size="4.95" text-anchor="start">India</text>
<text transform="translate(479.1 148) scale(0.96 1.0)" font-size="4.95" text-anchor="start">Italy</text>
<text transform="translate(470 151.2) scale(0.96 1.0)" font-size="4.95" text-anchor="middle">Japan</text>
<text transform="translate(88 163.3) scale(0.96 1.0)" font-size="4.95" text-anchor="middle">USA</text>
<text transform="translate(167.7 205.3) scale(0.96 1.0)" font-size="4.95" text-anchor="start">China</text>
<text transform="translate(44.5 195.1) scale(0.96 1.0)" font-size="4.95" text-anchor="end">Spain</text>
<text transform="translate(32.6 239.6) scale(0.96 1.0)" font-size="4.95" text-anchor="end">Rep. of Korea</text>
<text transform="translate(53.3 281.7) scale(0.96 1.0)" font-size="4.95" text-anchor="end">Netherlands</text>
<text transform="translate(162.6 270.8) scale(0.96 1.0)" font-size="4.95" text-anchor="start">France</text>
<text transform="translate(157.7 280.3) scale(0.96 1.0)" font-size="4.95" text-anchor="start">Germany</text>
<text transform="translate(139 294) scale(0.96 1.0)" font-size="4.95" text-anchor="start">India</text>
<text transform="translate(124 301.1) scale(0.96 1.0)" font-size="4.95" text-anchor="start">Italy</text>
<text transform="translate(115.2 304.2) scale(0.96 1.0)" font-size="4.95" text-anchor="middle">Japan</text>
<text transform="translate(257.1 163.6) scale(0.96 1.0)" font-size="4.95" text-anchor="middle">USA</text>
<text transform="translate(341.2 195.1) scale(0.96 1.0)" font-size="4.95" text-anchor="start">China</text>
<text transform="translate(227.8 188.3) scale(0.96 1.0)" font-size="4.95" text-anchor="end">Spain</text>
<text transform="translate(211.1 236.2) scale(0.96 1.0)" font-size="4.95" text-anchor="end">Rep. of Korea</text>
<text transform="translate(234.8 286.4) scale(0.96 1.0)" font-size="4.95" text-anchor="end">Netherlands</text>
<text transform="translate(349.3 258.3) scale(0.96 1.0)" font-size="4.95" text-anchor="start">France</text>
<text transform="translate(344.9 267.1) scale(0.96 1.0)" font-size="4.95" text-anchor="start">Germany</text>
<text transform="translate(322.4 292.4) scale(0.96 1.0)" font-size="4.95" text-anchor="start">India</text>
<text transform="translate(308.3 300.5) scale(0.96 1.0)" font-size="4.95" text-anchor="start">Italy</text>
<text transform="translate(299.5 304.2) scale(0.96 1.0)" font-size="4.95" text-anchor="middle">Japan</text>
<text class="t" x="167.2" y="144.3" font-size="10.3" text-anchor="middle">(2000)</text>
<text class="t" x="347.2" y="144.3" font-size="10.3" text-anchor="middle">(2005)</text>
<text class="t" x="527.4" y="144.3" font-size="10.3" text-anchor="middle">(2010)</text>
<text class="t" x="167.1" y="300.5" font-size="10.3" text-anchor="middle">(2015)</text>
<text class="t" x="347.5" y="300.5" font-size="10.3" text-anchor="middle">(2019)</text>
<polygon points="392.2,195.4 426.3,193.6 460.5,183.6 494.6,190.9 528.7,180.3 528.7,199.8 494.6,208.5 460.5,199.9 426.3,204.7 392.2,207" fill="#a5a5a5"/>
<polygon points="392.2,207 426.3,204.7 460.5,199.9 494.6,208.5 528.7,199.8 528.7,249.6 494.6,242.5 460.5,227.6 426.3,219.1 392.2,216.6" fill="#00b050"/>
<polygon points="392.2,216.6 426.3,219.1 460.5,227.6 494.6,242.5 528.7,249.6 528.7,280 392.2,280" fill="#ff0000"/>
<path d="M392.2 166.7H528.7V280" fill="none" stroke="#777" stroke-width="0.55"/>
<path d="M392.2 166.7V280H528.7" fill="none" stroke="#555" stroke-width="0.6"/>
<path d="M390.2 280H392.2M390.2 267.4H392.2M390.2 254.8H392.2M390.2 242.2H392.2M390.2 229.6H392.2M390.2 217.1H392.2M390.2 204.5H392.2M390.2 191.9H392.2M390.2 179.3H392.2M390.2 166.7H392.2M392.2 280v2M426.3 280v2M460.5 280v2M494.6 280v2M528.7 280v2" stroke="#555" stroke-width="0.6"/>
<text class="r" x="389.2" y="281.8" font-size="5.2" text-anchor="end">0%</text>
<text class="r" x="389.2" y="269.2" font-size="5.2" text-anchor="end">5%</text>
<text class="r" x="389.2" y="256.6" font-size="5.2" text-anchor="end">10%</text>
<text class="r" x="389.2" y="244" font-size="5.2" text-anchor="end">15%</text>
<text class="r" x="389.2" y="231.4" font-size="5.2" text-anchor="end">20%</text>
<text class="r" x="389.2" y="218.9" font-size="5.2" text-anchor="end">25%</text>
<text class="r" x="389.2" y="206.3" font-size="5.2" text-anchor="end">30%</text>
<text class="r" x="389.2" y="193.7" font-size="5.2" text-anchor="end">35%</text>
<text class="r" x="389.2" y="181.1" font-size="5.2" text-anchor="end">40%</text>
<text class="r" x="389.2" y="168.5" font-size="5.2" text-anchor="end">45%</text>
<text class="r" x="392.2" y="289" font-size="5.2" text-anchor="middle">2000</text>
<text class="r" x="426.3" y="289" font-size="5.2" text-anchor="middle">2005</text>
<text class="r" x="460.5" y="289" font-size="5.2" text-anchor="middle">2010</text>
<text class="r" x="494.6" y="289" font-size="5.2" text-anchor="middle">2015</text>
<text class="r" x="528.7" y="289" font-size="5.2" text-anchor="middle">2019</text>
<rect x="395.2" y="168.8" width="24.4" height="22.2" fill="#fff" stroke="#444" stroke-width="0.5"/>
<rect x="400.1" y="171.5" width="2.9" height="2.8" fill="#ff0000"/>
<rect x="400.1" y="178.4" width="2.9" height="2.8" fill="#00b050"/>
<rect x="400.1" y="185.3" width="2.9" height="2.8" fill="#a5a5a5"/>
<text class="r" x="404.2" y="174.6" font-size="4.6">USA</text>
<text class="r" x="404.2" y="181.5" font-size="4.6">China</text>
<text class="r" x="404.2" y="188.4" font-size="4.6">India</text>
<text class="r" x="530.7" y="190.4" font-size="5.4">7.73%</text>
<text class="r" x="528.5" y="227.8" font-size="5.4">19.77%</text>
<text class="r" x="529.5" y="266.1" font-size="5.4">12.09%</text>
<text class="t" x="465.2" y="307.1" font-size="8.3" text-anchor="middle">Market share of major crude oil importers</text>
</svg>
</body></html>
